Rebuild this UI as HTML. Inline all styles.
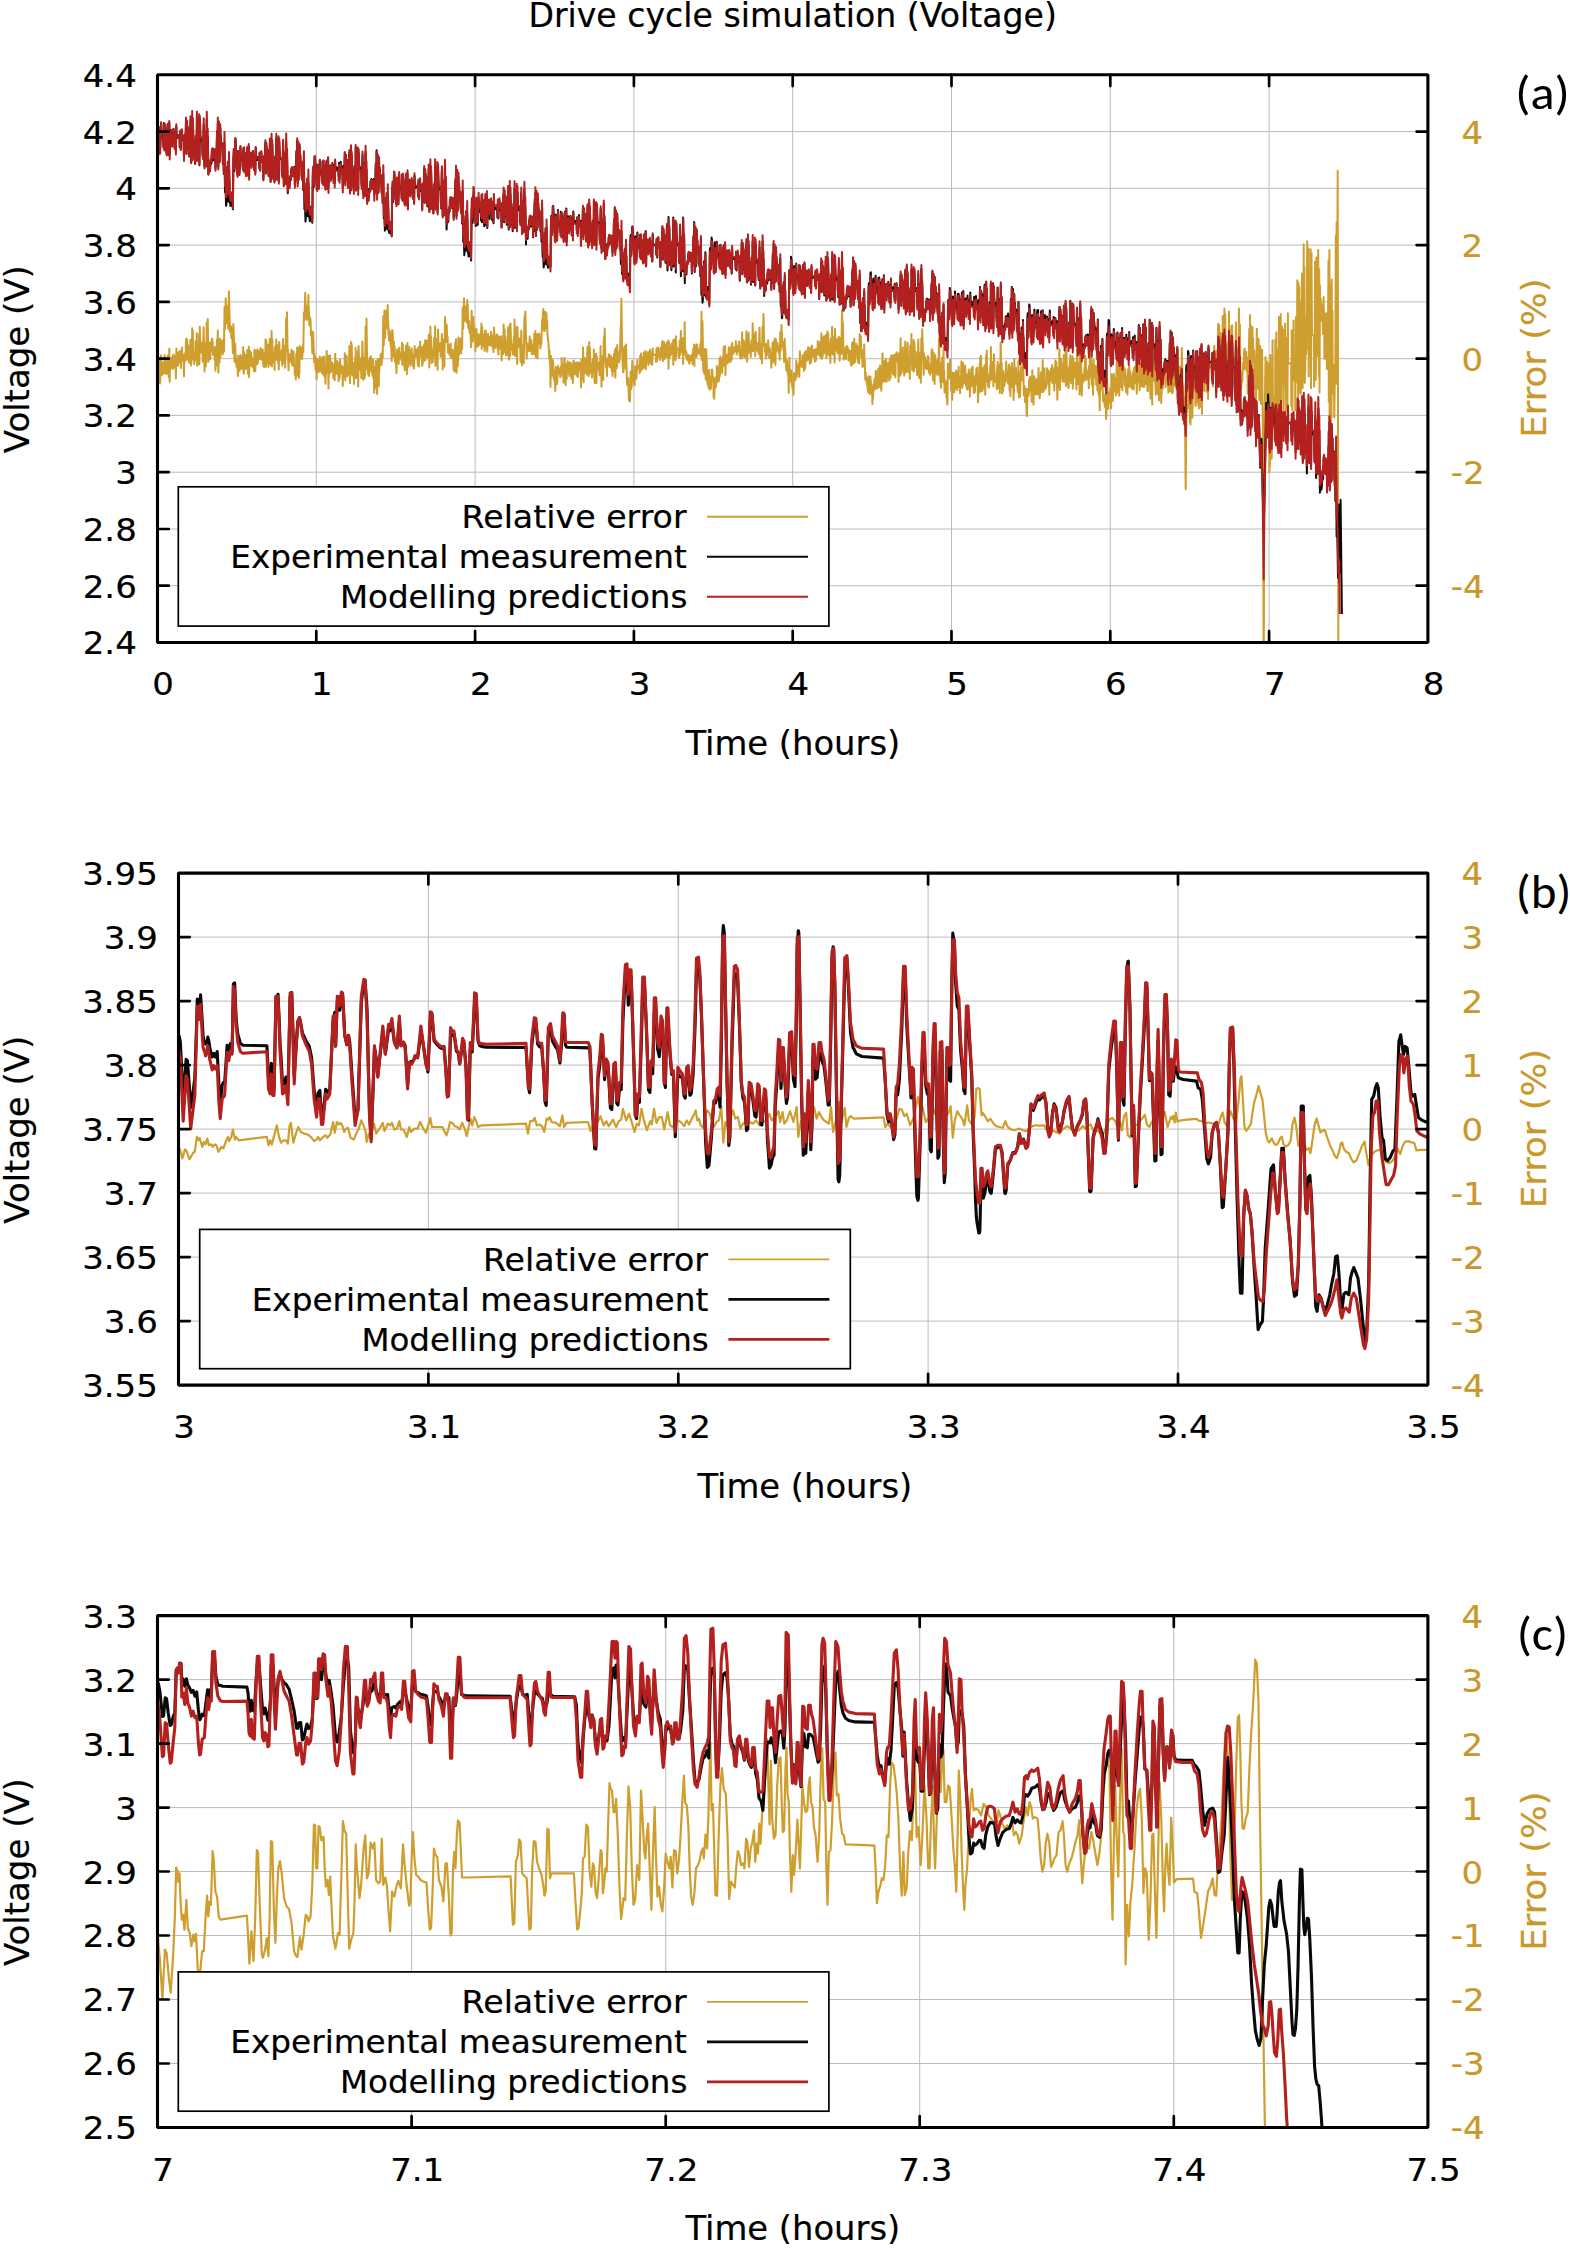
<!DOCTYPE html>
<html><head><meta charset="utf-8"><title>Drive cycle simulation (Voltage)</title>
<style>html,body{margin:0;padding:0;background:#fff}svg{display:block}</style></head>
<body>
<svg width="1570" height="2250" viewBox="0 0 1570 2250" font-family="'DejaVu Sans',Verdana,'Liberation Sans',sans-serif" stroke-width="0.2">
<rect width="1570" height="2250" fill="#fff"/>
<text x="528.4" y="26.8" font-size="33.2" fill="#000" stroke="#000" textLength="528.5" lengthAdjust="spacingAndGlyphs">Drive cycle simulation (Voltage)</text>
<clipPath id="ca"><rect x="157.5" y="74.8" width="1270.4" height="567.7"/></clipPath>
<path d="M316.3 74.8V642.5M475.1 74.8V642.5M633.9 74.8V642.5M792.7 74.8V642.5M951.5 74.8V642.5M1110.3 74.8V642.5M1269.1 74.8V642.5M157.5 131.6H1427.9M157.5 188.3H1427.9M157.5 245.1H1427.9M157.5 301.9H1427.9M157.5 358.7H1427.9M157.5 415.4H1427.9M157.5 472.2H1427.9M157.5 529.0H1427.9M157.5 585.7H1427.9" stroke="#bcbcbc" stroke-width="1" fill="none"/>
<g clip-path="url(#ca)" fill="none" stroke-linejoin="round">
<path d="M157.5 378.9L157.6 376.6L157.8 380.3L158 374.9L158.3 383.5L158.9 358.1L159.2 369.8L159.2 370.4L159.4 369.3L159.8 378.5L159.9 377L160.1 383.4L160.9 366.2L161 355.2L161.8 375.1L162.5 362.5L162.8 373L163.1 370.1L163.2 373.6L163.4 367.6L163.6 373.2L163.7 363.3L164.1 372L164.6 355.1L164.8 373.3L165.1 360.4L165.4 358.1L165.8 371.3L166 370.3L166.3 373.8L166.4 369.1L166.6 373.8L166.9 370.9L167.1 372.7L167.3 362.4L167.5 366.6L167.9 355.4L168.7 377.3L169.3 348.7L169.7 381.7L170 364.2L170.2 368.6L170.5 362.9L170.6 365L170.8 360.3L170.9 360.8L171.1 360L171.2 361.7L171.5 357.5L172.1 368.8L172.4 361L172.7 364.3L173 355.3L173.3 368.4L173.6 354.6L174.6 367.5L174.8 356.1L175 357.6L175.6 365.6L175.9 378.5L176.4 348.4L176.7 358.7L177.3 352.5L178 365.6L178.7 357.6L179 362.5L179.3 351.4L179.6 351.6L179.8 359.4L180.1 350.7L180.3 357.9L180.6 354.4L180.7 355.6L180.9 367.9L181.1 358.7L181.3 359L181.6 357.6L181.7 358.3L181.8 357.9L182 347.6L182.6 360.4L183 356.6L183.6 359L184 376.2L184.4 354.6L184.6 360.5L184.8 355.9L185 359.7L185.3 353.1L185.4 359.8L185.4 360.6L185.5 359.1L185.6 360.2L185.9 342.4L186.1 344.8L186.2 338.4L186.5 359.6L187.1 339.4L187.4 355.1L187.7 345.1L188 359.6L188.3 345.5L188.4 359.1L188.5 349.2L189.1 362.7L189.3 350.3L190 360.8L190.4 339.7L191.1 365.5L191.9 355.5L192.2 328.3L192.5 359L192.8 330.7L193.3 358.8L193.5 357.2L193.7 359.5L193.9 353.3L194.2 363.9L194.8 353L195 360.6L195.3 357.3L195.6 341.2L196.1 357.3L196.5 342.6L196.7 351.6L196.8 333.2L197.2 365.8L197.5 352L197.7 364.1L198.3 343.8L198.9 364.2L199.1 334.2L199.4 364.2L199.8 326.8L200.4 350.8L200.8 342.1L201.2 342.3L201.5 352.8L202.3 343L202.8 361.7L203.6 327.3L204.5 371.5L204.9 343L205.3 360.6L205.6 346.8L205.8 366.5L206 345.6L206.2 363.2L206.7 322.4L207.4 335L207.7 319.1L208.4 361.8L208.5 356.9L208.6 359.3L209.1 355.8L209.6 343.1L210.1 359.3L210.2 356.8L210.4 357.5L210.9 341.5L211.4 351.2L211.7 341.3L212.1 338.5L212.4 342.4L212.6 341.8L213.1 354.6L213.2 352.8L213.5 354.9L213.8 351.9L213.9 351.6L214.1 352.4L214.4 347.6L214.7 359.6L215.1 347L215.4 370.8L215.9 355.7L216.4 365.5L217 339.4L217.2 358.2L217.8 330.5L218.4 372.8L219 339L219.5 362.5L219.8 339.1L220 358L220.2 338.8L220.4 357.1L220.9 346.5L221.1 351.8L221.4 348.6L221.7 350.2L222.3 340.7L222.8 354.2L223.6 339.8L224 351.7L224.5 307.3L225 329L225.7 298.2L226.5 323.3L227 305.9L227.4 313.8L227.7 306.7L228.3 328.9L228.9 291.2L230 331.8L230.1 330.8L230.4 332.2L230.6 331.8L230.9 326.2L231.3 337.9L231.6 328.2L231.9 335.1L232.1 334L232.2 335.3L232.9 353.3L233.4 323.9L234.6 361.9L235.1 343.4L235.8 358.8L236.6 367L236.9 359.4L237.2 367.7L237.5 362.2L237.9 376L238.3 355.6L238.6 365.1L238.9 359.2L239.3 363.6L239.5 371.2L239.9 360.2L240.2 368.2L240.5 354.9L241.2 368.6L241.5 358.1L241.9 360.9L242.2 356.3L242.9 369.5L243.2 346.9L243.5 372L243.7 371.3L243.8 373.8L244.1 351.9L244.2 361.5L244.5 358L244.8 361L245.2 354.9L245.5 368.9L245.8 360.6L246 366.3L246.3 365.5L246.5 368.6L247.3 350.2L248.1 374.1L248.8 346.7L249.1 377.3L249.4 358.6L249.8 363.7L250.1 351.2L250.8 365.5L251.1 352.6L251.5 366L251.8 357.3L252.1 359.6L252.3 359.3L252.7 367.2L253 359.1L253.1 362.4L253.8 364.7L254 371.2L254.4 349.8L254.8 366.2L255.1 358.6L255.3 371.3L255.8 353.1L255.9 356.2L256.4 350.5L257.1 364.2L257.4 349.4L257.7 363.1L258.7 350.7L259.2 359L259.5 352.6L259.7 357.6L260 353L260.3 358.6L260.5 348.1L261.5 359.6L262.7 349.4L263.4 366.4L263.8 353.2L264.4 367L264.7 357.9L265 365.7L265.6 339.3L266 366.7L266.4 340.9L266.8 363.2L267.2 348.3L267.8 363.4L268 344.7L268.5 367.1L268.7 353.3L269 364.7L269.4 358.3L269.8 338.8L270.5 363.3L270.6 362.5L271 364.8L271.6 331.1L271.9 366.4L272.3 339.2L272.7 357.1L272.9 354.8L273.3 362.2L273.7 354.9L273.9 357.3L274.2 352.7L274.6 370.1L274.9 347.3L275.2 354.6L275.3 351.5L275.5 352.9L275.7 344.9L276.1 356.1L276.3 339.5L276.6 359.8L276.9 351.5L277.1 360L277.2 348.7L277.5 350.3L277.6 345.7L278.2 363.8L278.5 344.7L278.8 369.5L279.2 341.9L279.6 351L280.6 360.1L280.9 353.2L281.2 355L281.7 350L282.2 365.6L283 339.1L283.8 363.2L284.3 351.2L284.7 360.4L284.9 345.9L285.2 367.7L285.4 347.7L285.6 358.9L286.1 320.7L286.5 317.6L286.8 325.6L287 312.3L287.5 349.3L287.7 351.8L287.9 349.4L288.5 370.2L289.2 354.3L289.4 360.4L289.6 358.7L290.2 361.8L290.3 359.9L290.5 361.3L290.8 353.8L291.2 361.8L291.5 349.7L291.8 350.3L292.2 365.4L293.5 351.4L294.1 366.4L294.3 366.6L294.5 365.2L294.6 366.4L294.8 374.9L295 368.2L295.3 365.2L295.5 366.3L295.8 379.4L296.3 353.4L296.6 366.9L296.8 356L297 363.8L297.2 347.4L297.7 375.7L298.1 372.7L298.4 348.1L299 378L299.2 360.5L299.4 373.3L299.7 346L299.9 357L300 354.3L300.1 357.2L300.3 353.8L300.5 358.7L301.1 347.4L301.4 347.4L301.7 356.5L302 355L302.2 358.9L303 345.3L303.3 352L303.9 312.4L304.2 318.6L304.4 319.8L304.5 319L305.2 292.8L305.9 313.3L306 312.8L306.4 313.8L306.7 320L307.4 306L308 319.3L308.4 294.7L308.6 309.9L308.8 307.8L309.3 324.9L309.4 325.3L309.5 324.5L309.7 324.8L310 317.2L310.3 320L310.5 319.3L311 335.4L311.5 330.6L312.4 353.4L312.8 333.6L313.1 332.2L314.2 362.3L314.6 353.8L315.6 370L316 357.7L316.3 358.9L316.6 379.6L316.9 366L317.1 372.8L317.3 371.8L317.5 359L318.3 368.8L318.7 364.6L318.9 371.8L319.1 370L319.2 370.7L319.6 360.2L319.7 363.8L319.8 356.6L320 367L320.6 358.5L320.9 371.3L321.6 365L322 373.3L322.2 366.2L322.4 369.8L322.5 357.1L322.9 373.4L323.4 357.3L323.6 375.4L323.9 356.4L324.2 370.8L324.6 369L324.7 370.1L325.1 377.8L325.2 374.9L325.5 383.7L326.7 350.9L327.5 372.7L328.1 355.7L328.5 388.6L328.8 368.8L329 372.3L329.3 368.1L329.5 373.4L329.9 355.6L330.2 360.7L330.3 358.9L330.9 372L331 367.6L331.7 362.2L332.1 370.1L332.3 362.7L332.5 370.3L332.8 371L333.2 367.2L333.4 378.5L333.6 369.5L333.8 372.7L334 373.1L334.2 372.4L334.4 364.3L334.7 380.6L335.2 353.8L335.5 363.9L335.8 365L336.1 361.5L336.5 373.7L336.8 372.1L337.1 361L337.5 361.6L337.8 373.7L338.1 363.2L338.6 381.2L338.9 368.7L339.1 372.7L339.4 371.2L339.7 378.5L340.1 359.6L340.6 370.9L340.7 366L340.9 370.2L341.1 369L341.4 372.8L341.8 371.8L342.1 366.3L342.3 366.2L342.8 385.9L343.2 367.2L343.4 376.4L343.6 370.7L343.8 373.7L344 369.3L344.2 377.3L344.3 376.3L344.4 377.2L344.8 353.3L345.3 380.5L345.9 356L346.2 372.1L346.6 356.1L347.2 376.2L347.3 364.9L347.6 368.3L347.7 365.8L347.9 374.2L348.1 364.5L348.3 364.6L348.8 374.7L349.4 346.1L349.9 383.1L350.4 370.4L350.7 375.1L351 342.1L351.3 374.2L351.7 344.1L352.4 373.6L352.6 370.2L353 375.8L353.6 363.3L354 384.1L354.4 366.7L354.6 372.1L354.7 366.4L354.9 370.9L355.2 356.7L355.5 365.9L355.6 347.8L356 378.3L356.3 369.1L356.5 375.8L356.7 359.2L356.9 370.2L357.6 375.1L357.9 351.1L358.2 386.4L358.6 346L359.3 369.5L359.6 363.2L360.3 358.6L360.6 370.6L361 358.4L361.3 378.3L361.6 370.4L361.8 372.3L362.4 341.4L363.2 379.8L363.7 359.5L364.1 376.8L364.4 361.8L364.6 378.6L364.8 357.2L365 375.8L365.6 326.5L366.2 337.5L366.5 318.5L367.2 369.4L367.3 365.6L368 374.3L368.6 360.7L368.9 376L369.6 357.8L370.2 370.3L370.9 356.2L371.5 372L372.1 363.9L372.5 375.8L372.9 359.5L373.5 378.4L373.9 366.6L374.2 392.7L374.7 376.8L375.2 388.1L375.8 361.1L376 384.3L376.2 374.5L376.4 384.1L376.6 365.1L377.1 393.9L377.8 359.1L378.4 379.6L378.6 361.3L378.8 386.3L379.1 359.3L379.3 371.5L379.7 360.1L380 364.2L380.8 353.9L381.1 359.4L381.3 358L381.4 358.7L381.6 364.9L382.4 351.3L382.7 358L383.3 316L383.8 345.3L384.5 310.4L385.1 337.9L385.4 326.2L385.9 321.2L386 323.3L386.2 322.6L386.5 310.4L387.1 327.5L387.2 328.4L387.3 327.1L387.7 305.1L388 323.6L388.2 320.9L388.5 334.7L388.8 329.1L389.1 340.6L389.4 334L389.7 334L389.9 331.4L390.7 345.9L391.1 342.1L391.7 361.1L392.2 330.1L392.4 335.4L392.5 331.5L392.7 332.9L393.4 356.5L393.9 341.8L394.2 349.5L394.4 346.1L394.5 348.6L394.7 346.9L395 361.6L395.4 354.4L395.7 363.3L395.8 357.8L396.5 373L397.1 349.5L397.7 362.6L398.1 356.2L398.7 363.7L399.2 347.7L399.5 358.6L401 352.9L401.5 360.2L402 342.8L402.3 365.1L402.8 344.3L403 360.5L403.3 355.1L403.6 359.5L404 352.6L404.5 368.4L404.8 370L405 364.1L405.3 370.1L405.5 354.4L405.6 352.6L405.7 356.1L405.8 348.4L406.1 345.8L406.9 374.2L407.5 343L407.9 367.2L408.1 358.1L408.4 362.9L408.7 352.7L408.8 355L409.3 347L409.6 356.7L409.7 351L409.8 353L409.9 351.7L410.3 365.6L410.4 362.4L410.6 363.6L410.9 362.2L411.1 353.8L411.5 355.1L411.7 348.6L411.9 356L412.2 353.8L412.8 365.9L413 354.2L413.6 360.4L413.8 358.8L414.1 368.6L414.6 345.9L414.8 353.2L414.9 353.8L415.2 352.2L415.6 356.4L415.9 350.6L416.2 354.6L416.5 349.6L416.9 357L417.2 352.4L417.9 365.2L418.3 347.4L419 366.5L419.2 349.9L419.5 346.6L419.9 351L420.2 341.4L420.8 353.1L421.5 358.4L421.8 356.8L422.2 365.9L422.5 347.1L422.8 363.5L423.4 351L423.6 356.9L423.8 355L424.1 344.2L424.3 350.2L424.4 347L424.7 360.7L425.2 340.2L425.6 359.7L425.9 348.7L426.2 357.5L426.5 341.9L426.6 351.7L426.7 340.6L427.3 355.6L427.5 348.1L427.8 357.4L428.1 347.8L428.4 355.5L428.8 334.8L429.3 367.5L429.8 350.5L430.1 356.2L430.4 326.4L430.7 358.3L431 336.3L431.8 363.1L432.1 350.1L432.3 351.8L432.5 350.1L432.8 361.9L433 353.4L433.2 358.2L433.4 354.2L433.5 356.3L434.1 337.7L434.3 346.3L434.5 339.3L434.9 348.7L435.1 326.3L435.4 366.1L435.7 351.4L435.9 358.3L436.1 343L436.3 351.9L436.4 351.5L436.5 352.1L437.1 362.9L437.3 338.7L437.6 369.8L438 329.5L438.5 345.8L439.4 351L440 343.3L440.7 356.6L440.9 354.3L441.2 354.5L441.9 334.1L442.2 350.7L442.4 347.2L442.7 369.6L443.1 339.7L443.5 357.8L443.8 343.6L444 359.6L444.2 346.3L444.4 366.6L445 317L445.6 342L445.9 324.1L446.4 334.4L446.7 324.7L447.3 342.1L447.6 336.9L448 352.7L448.4 347L449 351.8L449.3 345.3L449.7 355.1L450.6 343.4L450.9 358.1L451.3 350.5L451.6 357.4L451.9 350.9L452.3 355.2L452.9 349.7L453.6 369.8L454.2 355.6L454.6 371.6L455.2 342.2L455.4 358.6L455.6 346.1L455.8 358.1L456 339.2L456.6 372.7L457.2 346.3L457.8 366.3L458 347L458.2 361L458.4 337.4L458.9 354.9L459.1 347.1L459.3 349.8L459.6 343.8L460.2 349.5L460.5 338.4L461.1 353.4L461.6 341.4L462.1 349.1L462.7 307.5L463.2 328.4L464 298.2L464.7 320.2L465.2 306.3L465.5 321.1L466.2 307.7L466.7 322.4L467.2 300.1L467.4 311.8L467.7 304.2L468.2 327.7L468.5 324.8L468.8 328.4L469.1 321L469.6 332.9L470.2 328.5L470.4 329.1L471.1 347.3L471.6 310.7L472.8 341.5L473.4 316.9L473.8 329.8L474.2 327.4L475.1 340L475.4 351.1L475.7 340.9L475.9 347.1L476.1 346.5L476.4 329L476.8 341.9L477.1 333.7L477.3 334.8L477.4 334.3L478 346.6L478.2 342.3L478.3 342.9L478.4 341.7L478.5 342.7L478.6 334.8L479 344.9L479.4 334.4L479.7 338.2L480.1 334.3L480.4 341.8L480.7 341.3L480.8 343.9L481.4 323.5L481.7 349.1L482.2 326.9L482.5 342.3L483 334.6L483.7 346.2L484 337.3L484.7 350.9L485 330.8L485.4 339.3L485.7 330.6L486.5 348.8L486.9 336.7L487.3 351.7L488 333.8L488.3 341.2L488.7 337.1L489 345L489.1 339.5L489.3 341.2L489.5 336.8L490 345.4L490.3 336.9L490.6 345L491.1 332L491.6 345.7L492 336.3L492.2 341.8L492.4 335.7L492.8 346.6L493 348.8L493.2 344.3L493.5 352.1L494 327.4L495 347.9L495.3 339.8L495.6 340.2L495.9 344.9L496.6 334.5L496.9 346.8L497.2 345.1L497.3 348.5L497.6 335.2L498.4 354.6L498.9 336.7L499.4 348.9L499.9 338.8L500.2 337L500.6 336.6L500.9 341.9L501.2 336.2L501.6 360.4L502 341.7L502.2 347.8L502.4 344.9L502.6 350.1L502.8 347.1L502.9 348.5L503 354.2L503.2 352.5L503.6 324.4L504.1 352.2L504.6 329.2L505 350.7L505.4 337L506 355.5L506.1 345.2L506.4 346.5L506.5 343.4L506.7 352.1L506.9 346.6L507.3 354.2L508.2 327.3L508.8 359.8L509.2 343.6L509.5 352.3L509.8 324.5L510.1 356.3L510.5 323.4L511.2 350.1L511.4 345.6L511.7 349L512 345.3L512.1 349.4L512.4 345.5L512.9 354.6L513.2 344L513.4 346.6L513.5 340.4L513.7 344L513.9 336.7L514.3 342.9L514.5 319.6L515 356.1L515.1 350.2L515.3 353.6L515.5 337.5L515.7 345.9L515.9 344.4L516.5 349.5L516.7 327L517.1 364L517.4 327L518.1 345.9L518.4 347L518.8 338.1L519.1 338.8L519.8 346.6L519.9 343L520.1 344.5L520.6 361.9L521.3 330.8L522 365.3L522.4 347.3L522.9 359.9L523.1 345.1L523.4 361.9L523.6 347.1L523.8 363.3L524.3 323.6L524.7 315.7L525.1 324.4L525.3 311.6L526.7 358.5L527.2 344.4L527.4 343.9L527.6 347.2L527.8 344L528.4 345.3L528.5 344.9L529.1 351.1L529.7 336.4L530.4 350.7L530.7 347.9L531 349.4L531.3 340.3L532 354.3L532.8 345.2L533.1 354.1L533.2 348.3L533.5 347L533.7 348.8L533.9 346.7L534.3 333.8L534.8 354.2L535.4 331.1L535.7 355.3L535.8 350.3L535.9 357L536.6 334.7L536.8 344.7L537 339.5L537.2 353.4L537.4 339.9L537.6 358.4L537.9 334L538.1 344L538.5 335.5L538.7 338.8L539 334.4L539.3 333.6L539.6 340.1L539.9 339.1L540.4 348.3L541 341.3L541.3 343.8L541.4 342.9L542.1 319.7L542.6 328.6L542.9 313.5L543.4 309L544.1 331L544.6 319.6L544.9 330.7L545.3 311.7L546.1 327L546.5 313.2L546.8 328.3L547.1 321.1L547.4 333.2L548.7 346L549.2 358.5L549.5 350.8L549.9 363.1L550 362.4L550.2 363L550.5 387.1L551 356L551.5 376.5L551.9 374L552 374.4L552.4 373.6L552.8 360L553 363.2L553.1 362.4L553.2 362.8L553.8 379.1L554.2 371.1L554.5 381.8L554.6 379.2L554.8 381.7L555 379.1L555.3 390.9L555.9 367L556.8 384.3L556.9 380.7L557.1 383.1L557.4 379.6L557.6 372.8L557.8 371L557.9 373.3L558 366.1L558.2 374L558.5 369.8L558.8 369.8L559.1 368.4L560.1 372.9L560.2 377L560.4 372.7L560.6 377L560.7 367L561.1 375.1L561.3 372.5L561.4 373.9L561.6 358.1L561.9 373L562.2 371L562.4 371.7L562.8 364L563.6 382.6L564.3 359L564.5 363.2L564.6 358.1L565.7 385.3L566.1 365.7L566.3 364.6L566.3 365.1L566.7 379L567 365.9L567.2 371L567.7 361.3L568.2 372.3L568.5 366.5L568.6 368.2L568.8 366.6L569.4 375.9L569.7 363.4L569.9 362.2L570.3 369.7L570.5 362.8L570.7 368.5L571 366.2L571.6 379L571.8 366.9L572 364.4L572.4 369.1L572.6 366.3L572.9 383L573.3 363.5L573.4 361.2L573.5 364.2L573.7 360.4L574.4 362.9L574.7 374.2L575 374L575.3 371.6L575.7 363L576 372.1L576.6 371.2L576.7 375.8L577 362.6L577.3 366.7L577.6 363.4L577.9 377.1L578 371.4L578.3 372.6L578.7 362.5L579.1 368.8L579.3 362.7L580 369.5L580.3 369.1L580.6 363.4L581 387.6L581.3 360.1L581.6 376.4L581.8 374.5L582 379.4L582.3 367.3L582.6 377.2L583 347.4L583.6 382.4L584.1 358.6L584.4 369.8L584.7 357.7L585 370L585.3 365.5L585.4 372.5L585.6 359.7L586.1 373.3L586.3 364.3L586.7 374.4L587.5 346.8L588 374.8L588.2 371.2L588.6 376L589.2 341.9L589.5 373.8L589.9 348L590.3 371.8L590.8 363.3L591.2 370.4L591.3 367.3L591.5 372.5L591.8 371.2L592 377.5L592.6 359.5L592.8 363.9L592.9 360.8L593.1 371.6L593.5 359.2L593.7 366.7L593.9 349.4L594.2 372.2L594.7 382.9L594.8 369.6L595.1 372.7L595.3 367.8L595.8 368.6L596 353.7L596.4 383.3L597 356.6L597.3 365.4L597.8 369.5L598.2 365.5L598.6 367.9L598.8 367.6L599.2 362.2L599.5 375.2L599.8 366.1L600 373.5L600.6 346.1L600.8 362.7L601 364.5L601.1 357.6L601.5 386.7L601.8 366.8L602.3 375.2L602.5 356.6L602.8 378.8L603 363.3L603.2 380.1L603.7 341.6L604.1 336.3L604.4 343.1L604.7 328.5L605.4 360.4L605.5 358.5L605.7 365.4L605.9 364.8L606.1 367.3L606.4 361.2L607 375.9L607.4 358.5L607.8 365.1L607.9 362.4L608.4 365.5L608.8 354.5L609.1 359.4L609.4 354.4L609.9 367.3L610.8 356.1L611.7 370.9L612.1 357.9L612.5 376L612.9 366.4L613.4 371.1L614 354.1L614.2 368.5L614.4 355.1L614.6 366.8L614.8 350.1L615.3 377.7L616 348.1L616.6 368.6L616.8 349.6L617 366.4L617.2 345.1L617.5 358.8L617.9 351.7L618.4 361.7L618.7 361.5L619 362.5L619.2 361.6L619.3 361.9L619.6 356.4L619.8 359.8L620.7 326.2L620.9 327.8L621.4 298.8L622.1 350.2L622.9 369.4L623.1 372.1L623.4 372.3L623.5 371L624 348.5L624.3 363.3L624.6 346.3L625.5 368.5L626 344.5L627 384.8L627.6 378.3L627.9 379.1L628.1 378.1L628.9 399.8L629.3 389L629.6 400.9L629.8 401.3L629.9 399.9L630 401.4L630.6 371.7L631.3 389L631.6 386L631.8 386.6L632.2 360.9L633.2 378.6L633.6 371.6L633.9 380.9L633.9 375.9L634.2 383.9L634.3 376.9L634.6 385.2L635.1 366.3L635.4 374L635.7 367.5L636.4 378.7L637.4 360L637.5 367.3L637.6 365.7L637.7 368.5L639.5 365.6L639.6 372.9L640.2 355.7L640.4 370.7L640.7 368.5L640.8 371.4L641 353.5L641.2 370.2L641.5 357.1L642.5 369L642.8 365.9L642.9 368.3L643.2 364.4L643.4 366.3L643.7 352.4L643.8 361.3L644 353.2L644.1 354.5L644.2 353.3L645 367.6L645.5 351.1L645.9 369.2L646.3 354.8L646.5 362.5L646.9 353.5L647 360.1L647.5 353.2L647.8 358.3L647.9 352L648.4 365L648.6 357.4L648.7 361L649.1 358.3L649.3 352.4L649.6 361.9L649.9 349.7L650 356.8L650.7 356.9L650.9 363.8L651.2 352.4L651.8 358.9L651.9 353.1L652.2 364.7L652.7 348.4L653 356.6L653.2 355.3L656 353.9L656.1 361.9L656.5 348.7L657.1 360.5L657.3 349.6L657.5 348L657.6 352.4L658.1 355.8L658.3 347.5L658.4 356.5L658.6 353.1L659.9 352.4L660.1 359.9L660.7 347.7L660.9 355.3L661.1 351.9L661.3 355.7L661.5 350.6L661.7 356.7L662.2 341.3L662.4 350.9L662.6 345.9L662.9 361L663.3 341.7L663.7 359.4L664.1 342L664.3 352.7L664.6 348L664.8 358.7L665 344.7L665.2 355.6L665.3 356.8L665.7 350.9L666 355.9L666.2 350.9L666.4 354.3L666.8 342.6L667.2 357.1L667.5 342.3L667.9 356.2L668.4 340.4L668.5 368.8L668.7 352.6L668.8 356L669.1 342.1L669.6 357.6L670 352.5L670.2 352.4L670.4 353.8L670.6 351.1L670.8 355.3L671.4 345L671.6 350.8L672 343.2L672.1 351.8L672.3 344.4L672.4 353.6L672.8 343.2L673 352.2L673.2 340.2L673.3 364.7L673.5 351.9L673.8 345L674.1 349.2L674.3 339.4L674.5 349L674.6 344.1L675.2 353.7L675.4 340.4L675.5 360.2L675.9 336.2L676 350.9L676.2 341.2L676.3 356.6L676.6 347.3L676.8 349.4L678.7 348.3L678.8 356.6L679 354.1L679.2 358L679.7 340.6L680 346.9L680.2 345L680.4 354.7L680.9 331.1L681.4 352L681.8 338L682.4 349.3L683 338.7L683.1 363.9L683.4 342.9L683.8 354.4L684 337.8L684.3 353.8L684.7 322.3L684.9 346.2L685.3 351.5L685.5 349.8L685.9 356.1L686.3 357.5L686.4 351.9L686.8 358.9L687 359.7L687.3 358.3L687.8 360.4L688.2 356L688.4 355.3L688.6 355.6L688.9 355.3L689.2 363.8L689.4 359.7L689.9 362.4L690.4 356.2L690.8 359.7L691.1 359.7L691.4 356.4L691.6 358L691.9 354.6L692.1 360.8L692.3 359.8L692.6 364L693.2 348.8L693.6 357.5L693.7 353L693.8 358.8L694.1 344.6L694.4 366.1L694.5 354.2L694.8 355.3L695.3 346L695.6 356.7L696.2 345.3L696.4 350.6L696.6 344.2L696.8 356.7L697.3 344.7L697.4 352.1L697.9 350.2L698.6 349.6L699.1 353.4L699.4 352.8L699.8 354.3L700.3 344.6L700.5 355.6L700.8 342.9L701.1 352.1L701.5 311.7L701.7 357.5L701.8 360.1L702.1 353.8L702.5 320.9L703.2 370.3L703.4 367L703.7 372L704 365.5L704.1 372.2L704.3 374L704.4 372.7L704.8 348.9L705.1 372.8L705.2 370.5L705.4 371.9L705.8 379.5L706.2 349.4L707.5 384.3L707.8 370.6L708.6 387.8L709.3 370L709.5 389.8L709.9 379.2L710.3 377.1L710.9 388.8L711.4 376.3L711.5 380.4L712.1 369.4L712.4 371.1L712.6 377.5L712.8 377.1L713.3 377.1L713.6 397.3L713.9 390.8L714.2 398.8L715 379.3L715.3 388.1L715.6 377.5L715.9 386.7L716.7 375.5L716.8 365.9L717.3 381.9L717.6 369.1L718.3 380.2L718.6 367.2L719 380.9L719.6 358.3L719.9 376.1L720.4 356.4L720.6 366.1L720.9 358.1L721.2 367.3L721.6 360.1L721.8 360.6L722.2 372.9L722.6 360.7L722.9 360.1L722.9 360.4L723.1 357L723.3 360.6L723.7 346.8L724.3 365.8L725.1 346.1L725.5 375L725.8 361.2L726 362.3L726.3 355L726.4 358.8L726.9 355L727.2 362L727.3 359.7L727.5 363.4L727.7 361.2L727.9 362.9L728.8 347.6L729.2 361.4L729.3 354.2L729.4 353.2L729.5 354.1L729.8 347.5L730.2 347.9L730.5 361.9L730.8 348L731.2 359.7L731.5 345.4L731.7 359.8L732.2 342.7L732.4 349L732.5 350.2L732.8 349.5L733.2 353.9L733.5 351.8L733.8 352.9L734.1 347.6L734.5 350.8L734.8 348.1L735.1 348.8L735.4 347.4L735.5 350.9L735.8 341L736.6 354.5L736.8 345.5L737.6 351.8L737.7 347.9L737.9 349.9L738.1 347L738.4 351.2L739.1 341.4L739.8 356.1L740.2 351.3L740.4 357.6L740.6 355.1L740.8 358.5L741.1 349L741.4 357.3L742.1 332.2L742.4 357.4L742.9 342.4L743.2 350.7L743.5 340.2L744.2 355.6L744.4 342.3L744.9 357.3L745.1 344.6L745.3 343.5L745.8 355.4L746.4 331.3L747 361.8L747.7 350.6L747.9 335.8L748.3 353.1L748.6 332.8L749.1 348.6L749.3 346L749.5 349.7L749.6 347.9L749.9 351.6L750.2 348.2L750.7 356.9L751.4 340.4L751.6 347.4L751.7 345.6L751.9 349.1L752.1 342L752.4 347.4L752.7 323.3L753 351.3L753.3 341.1L753.5 349.1L753.6 339.8L753.8 343.2L754 340.9L754.3 349.3L754.6 347.9L754.9 333.7L755.2 356.2L755.6 331.7L756.3 349.5L756.6 343.7L757 344L757.3 343.2L757.6 351.5L758.1 347.2L758.3 350.8L758.6 347.5L758.8 353.9L759.5 327.4L760.2 357.3L760.6 343.9L761.1 359.5L761.4 345.1L761.6 357.9L761.8 348L762 363.4L762.5 327.6L762.6 326.3L763 332L763.2 329.6L763.5 314L764.2 345.9L764.3 342.6L764.4 344.5L764.6 343.8L764.9 351.7L765.2 343.8L765.9 358.6L766.7 353.2L766.9 355.2L767.2 344.7L767.5 343.1L767.9 345.3L768.2 340.3L768.5 350L768.9 347L768.9 348.1L769.2 357.9L769.9 348.5L770.5 358.3L770.9 353.8L771.3 367.8L771.7 357.8L772.2 356L772.5 343.1L772.9 346.2L773 362.5L773.1 356.1L773.4 360.2L773.6 341.6L774.1 360.7L774.5 358.1L774.8 338.5L775.4 365L776 339.6L776.2 350.9L776.7 342.9L776.9 347.4L777.5 342.9L778.5 352.5L778.8 347.6L779.1 353.4L779.4 351.9L779.7 359.8L780.3 332.3L780.8 350.5L781.5 324.9L782.3 344.8L782.8 346.5L782.9 345.3L783.2 347.8L783.5 342.6L784.1 361.7L784.7 338.7L785 352.7L785.2 348.2L786.2 368.4L786.4 370.1L786.9 360.3L787.4 372.1L787.7 365.5L788.1 375.8L788.4 374L788.7 392.7L789.4 357.8L789.7 374.5L790.1 372.9L790.6 381.6L791.4 370.4L791.7 382.6L792.7 389.9L792.8 386.9L793 389.1L793.2 386.2L793.5 394.7L793.9 374.3L794.1 372.9L794.4 381L794.6 377.7L794.9 379L795 378.8L795.1 376.1L795.6 379.7L796.1 374.2L796.3 360.5L796.7 376.6L797 368.4L797.3 367.9L797.7 371.4L798 365.4L798.3 365.2L798.3 365.5L798.8 374.3L798.9 363L799.3 376.9L799.9 351.3L800.1 363.7L800.2 363.3L800.4 363.9L800.6 365.5L801 361.6L801.5 366.2L801.7 363.3L801.9 366.9L802.1 364.1L802.2 364.9L802.3 364.1L802.5 355.2L803 362.3L803.1 357L803.3 358.8L803.5 356L803.9 370.9L804.5 352.6L804.9 369.1L805.1 363.2L805.3 367.1L805.4 365.3L805.7 351.3L806.4 359.2L806.7 356.5L806.9 360.1L807.1 358.3L807.3 360.6L807.6 349.2L807.9 356.4L808.2 346.9L808.5 359.1L808.7 352.8L808.9 355.1L809.2 352.1L809.8 363.7L810.2 348.2L810.6 356.5L810.9 349.8L811.1 362.5L811.5 348.4L811.6 346.5L811.7 348.9L811.9 345.4L812.6 356.6L812.9 352.1L813.2 356.7L813.5 356.8L813.9 349.8L814.2 356.2L814.5 354.4L814.8 355.8L815 361.6L815.4 349.5L816 360.4L816.3 349.1L816.9 354.9L817.1 350L817.3 353.3L817.5 353L817.8 341.1L818.2 349.2L818.8 344.5L819.2 355.5L819.6 342.2L820.6 357.3L821.4 333.3L821.8 358.7L822.2 337.6L822.6 356.7L822.9 342.6L823.6 353.8L823.8 336.6L824.3 353L825.1 341.1L825.4 345.2L825.6 335L826.4 358.2L827.1 347.3L827.3 331.4L827.7 353.9L828.2 333.1L828.8 353.7L829.1 343.6L829.4 356L830 348.2L830.4 363.1L830.8 338.7L831.4 353.7L832.1 326.7L832.4 349.1L832.6 351.2L832.7 346.2L832.9 354.4L833 344.8L833.2 346.5L833.4 341.6L834.1 353.5L834.3 336.5L834.6 362.8L835 328.7L835.6 345L836.7 350.8L837 339.3L837.5 344.1L837.7 353.3L837.9 351.9L838.2 352.4L838.9 336.7L839.7 360.8L840 338L840.5 350.4L840.8 337.7L841 354L841.2 339.7L841.4 353.6L842 310.1L842.7 331.6L842.9 322.6L843.6 359.7L844.3 351.3L844.6 357.1L845 357.7L845.6 347.5L846 359L846.3 351L846.4 350.7L846.7 351.3L846.9 346L847.7 347.9L848 352.9L848.3 350L848.6 360.6L849.6 350.4L849.9 356.5L850.4 351.1L850.7 362.3L850.9 364.8L851.2 362.6L851.6 365.7L852.2 342.5L852.4 360.7L852.6 354.9L852.8 362L853 346.5L853.5 363.6L854.2 338.8L854.8 358.3L855 344.2L855.2 362.1L855.4 346L855.7 357.5L856.2 343.8L856.3 346L856.6 345L856.9 352.3L857.5 346.2L858.1 361.9L858.8 355.2L859.1 363.6L859.7 334.1L860.2 347.5L860.5 335.8L860.8 336.2L861.5 357.7L861.8 349.6L862.1 351.9L862.5 367L862.9 353.5L863.7 366L864.2 344.5L864.4 360.4L864.4 362.1L864.7 359.4L865.2 379.6L865.5 371.9L866.5 381.8L866.8 377.4L867.1 385.7L867.5 384.2L867.8 390L868 390.9L868.1 390.1L868.2 392.2L868.6 376.2L868.9 377L869.1 383.3L869.5 382.5L869.8 394.1L870.4 376.5L871.8 393.7L872.1 388.5L872.4 404.1L872.7 392.3L872.9 398.9L873.1 396.8L873.3 384.6L873.8 390.4L874.5 378.9L874.7 385.2L874.9 384.4L875 386.5L875.2 384L875.4 389.1L875.7 370.8L875.9 374.2L876.1 371.6L876.4 388.2L876.7 382L877.1 388.5L877.4 377.2L877.8 387.8L878.3 368.4L879 387.1L879.2 369.1L879.5 384.3L880 365.5L880.7 386.5L880.9 388.4L881 384.1L881.3 390.7L882.1 372.8L882.5 353.5L883 376.6L883.1 377.3L883.3 377L883.3 376L883.5 381.5L884 361.2L884.2 377L884.5 372.6L884.8 381.5L885.3 362.2L885.5 360.7L885.8 361.9L886 358.9L886.7 381.6L887.5 371.3L887.6 376.4L888.1 363.1L888.3 373.2L888.6 367.2L889 366.2L889.2 380.8L889.6 361.2L889.9 358.7L890.5 378.5L890.6 366.3L891.3 355.4L891.6 358L892 355.5L892.3 367.4L892.9 374.4L893.3 373.6L893.6 355.3L894.4 374.9L894.9 354.6L895.4 377.2L895.6 358.1L895.9 360L896.2 358.6L896.4 359.9L896.6 352.3L896.7 357.3L897.6 361.9L897.9 354.6L898.6 382L899 353.2L900 375.8L900.6 338.3L901.2 373.8L901.7 350.3L902.2 369.7L902.3 359.8L902.6 366.3L902.9 347.5L903 360.9L903.1 352.2L903.7 372.2L903.9 365.4L904.2 375.6L904.5 370.1L904.7 373.4L905.2 341.4L905.7 366.6L906.2 355.8L906.5 371.9L906.8 348.5L907.1 371.7L907.6 342.7L908.2 367.4L908.4 361.8L908.7 367.7L909 366L909.2 372.7L909.4 362.8L909.8 379.1L910.2 345.6L910.7 355.5L911.1 344.6L911.3 353.7L911.4 334.1L911.8 363.5L911.9 361.2L912 365.6L912.1 358.3L912.3 370.2L912.4 358.1L912.7 369.4L913.1 361.1L913.5 367.2L913.7 339.9L914 371.5L914.4 342.2L915 366.2L915.4 351.6L915.8 352.1L916.4 367.6L916.6 366.6L916.9 367L917.1 375.1L917.4 360.7L917.6 368.1L917.8 363.6L918.3 339.6L919 377.7L919.4 352.9L919.9 377.1L920.1 360L920.4 375.2L920.6 360.7L920.8 382.8L921.3 338.3L921.8 349.7L922.2 329.2L923.7 374.7L924 353.6L924.6 367.5L925 357L925.4 366.5L925.7 361L926.1 368.8L926.3 363.7L926.7 367.2L927.1 363L927.3 369.1L927.7 356L928 364.2L928.3 356.5L929 372.6L929.3 364L929.7 367.1L929.8 364.8L930.1 374.7L930.2 369.9L930.7 372.8L931.1 368.5L931.7 349.2L931.8 369.4L932 359.3L932.2 372.2L932.5 350.2L933 380.3L933.6 353L934.2 377.4L934.4 358.2L934.6 383.9L934.9 355.1L935 365.1L935.3 355.6L935.6 373.7L936 360.4L936.3 367.1L936.6 364.6L936.9 369.1L937.2 367.3L937.5 375L937.9 359.2L938.5 367.2L939 338.5L939.6 375L939.9 362.5L940.3 382L940.6 377.9L941.1 387.8L941.6 363.1L942 366.7L942.2 357.5L942.6 380L942.9 371.4L943.2 382.2L943.6 348.1L943.8 375.1L944.1 370.8L944.6 392.5L944.9 383.3L945.2 380.6L945.5 385.1L945.7 381.1L946.5 397.5L946.8 396.4L947.4 404.4L947.9 363.5L948.2 368.9L948.3 365.4L948.5 367.6L948.9 378.7L949.2 378L949.3 378.3L950.2 359.4L950.5 377.8L950.8 371.8L951.2 390.8L951.6 386.2L951.8 388.2L952 386.3L952.3 399.7L952.9 372.6L953.5 385.1L953.8 373L954.1 390.7L954.3 390.1L954.4 392.3L955 373.7L955.2 383.3L955.5 375.8L955.8 386.5L956.1 370.4L956.5 388.8L956.8 383.9L957.2 390.1L957.4 383.6L957.6 386.2L957.7 371.7L958.1 385.9L958.3 384.4L958.4 387L958.7 366.7L958.8 381L959.2 377.9L959.8 383.9L960.1 393.1L960.5 381.7L960.6 383.1L960.8 375.9L961 376.4L961.1 375.8L961.4 361.3L961.8 379L962.1 370.2L962.4 387.8L962.9 379.2L963.1 362.9L963.6 382.2L963.9 375.7L964.2 383.3L964.5 374.9L964.7 380.1L965.1 365.8L966.1 385.6L966.4 374.4L966.7 388.8L967 374.6L967.3 389.6L967.6 379.6L968 387.9L968.8 369.5L969.4 389.1L969.7 378.1L969.9 396.7L970.4 372.4L971 386.6L971.4 368.3L971.7 379.7L972 375.1L972.3 385.5L972.7 366.6L973 384.2L973.3 377.6L973.8 392.9L974.1 380.7L974.3 384.6L974.6 380.8L974.9 392.3L975.3 375.8L975.6 374.9L975.8 379L975.9 376L976.1 377.7L976.3 368.8L976.6 384.4L977.3 367.4L978 402.6L978.4 383.5L979 392.8L979.8 363.3L980.1 366.1L980.2 357.4L980.6 391.4L981 356.1L981.4 386.2L981.8 374.7L982.4 391L982.9 367.9L983.6 388.6L984.4 365.3L984.6 370.4L984.6 368.7L984.9 369.9L985.2 394.8L985.6 378.8L985.9 382.8L986.2 354.8L986.5 378.4L986.8 350.6L987.3 380L987.5 375.5L987.7 378.2L987.8 374.3L988.2 386.4L988.4 380L988.5 382.5L988.7 380.5L988.9 387.6L989.6 374L989.8 380.9L990.3 364.9L990.6 380.3L990.9 347L991.4 379.3L991.5 371.9L991.7 378.5L991.9 361.8L992.1 376.7L992.8 379.9L993.1 361.9L993.4 386.6L994 354.3L994.3 367.8L995.2 380.1L995.5 382.2L995.8 377.5L996.2 382.4L996.5 377.4L996.8 389.3L997.2 366L997.5 371.7L997.7 362.1L998 371.6L998.2 364.8L998.5 387.9L998.9 367.5L999.3 383.5L999.5 369.3L999.8 393.1L1000 364.4L1000.2 376.7L1000.7 342.4L1001.2 368.5L1001.5 371.4L1001.7 363.3L1002.1 393.6L1002.5 374.8L1003.1 391L1003.4 371L1004 379.9L1004.2 378.8L1004.4 385.9L1004.9 375.3L1005.5 382L1005.8 378.4L1006.1 361.6L1006.5 365.9L1006.9 379L1007.4 374L1008.1 383.7L1009.1 364.4L1009.5 387.8L1009.7 390.8L1010.1 385L1010.4 396.2L1011 367L1011.2 386.5L1011.4 375.8L1011.6 387L1011.9 362.9L1012.3 386.1L1012.7 369.2L1013 370.5L1013.6 400.1L1013.8 380.9L1014 393.1L1014.3 358.7L1014.7 384.1L1015 368.7L1015.4 376.2L1015.7 374.8L1016 367.8L1016.3 380L1016.7 384.3L1017 379.6L1017.8 392L1018.5 360.4L1019 397.4L1019.3 372.2L1020 396.8L1021.1 367.1L1021.6 376.7L1021.7 375.1L1022.4 380.2L1022.9 361.5L1023.1 375.5L1023.3 368.2L1023.4 371.9L1023.8 395.2L1024.3 386.8L1024.4 387.3L1024.6 386.1L1024.9 402.1L1025.1 399.5L1025.3 402.1L1025.6 388.4L1025.9 398.3L1026 397L1026.3 397.6L1026.6 412.8L1027 416.1L1027.4 389.1L1027.5 390.2L1027.7 389.8L1028 395.7L1028.3 395.5L1028.4 396L1028.7 395L1029.2 379L1029.4 381.8L1029.6 377.9L1029.7 379.7L1030 376.7L1030.2 379.3L1030.6 378.7L1030.9 391.5L1031 383.7L1031.7 401.7L1032.3 370.2L1032.5 378.8L1032.6 380.3L1032.8 378.3L1032.9 380.1L1033.5 404.8L1034 380.8L1034.3 384.6L1034.4 376.3L1034.9 394.8L1035.5 380.1L1035.9 385.9L1036.2 379.6L1036.6 394.1L1037.1 379.2L1037.2 381.3L1037.2 379.4L1037.4 380.9L1037.5 379L1037.8 394.5L1038 378.4L1038.2 392.2L1038.5 368.1L1039.7 398.2L1040.3 390.4L1040.5 392L1041 372.5L1041.2 376.5L1041.3 372.4L1041.8 390.2L1042.1 392L1042.7 360.3L1043.1 390.3L1043.3 384.4L1043.6 391.8L1043.9 376.8L1044.5 368.4L1044.8 388.2L1044.9 384.2L1045.1 389.1L1045.6 380.8L1046.1 387.5L1046.3 381.4L1046.7 385L1047 368.3L1047.4 382.5L1047.8 370.3L1048 378L1048.2 370.3L1048.4 380.9L1048.8 371.9L1049.3 394.7L1049.7 376.1L1050 381.5L1050.1 380L1050.4 380.9L1050.8 370L1051.1 368.3L1051.4 379.5L1051.7 378.9L1052.1 365.1L1052.4 383.1L1053 373.7L1053.2 379.9L1053.4 369.5L1054.3 390.5L1054.7 366.9L1055.2 369.7L1055.4 360.4L1056 382.9L1056.4 362.1L1057.4 399.8L1057.8 370.1L1058 373.3L1058.2 367.7L1058.4 373.4L1058.6 370.5L1059 387.3L1059.4 349.1L1059.9 390L1060.5 358.4L1061 375.9L1061.2 359.3L1061.8 377.5L1062 364.7L1062.2 368.8L1062.3 366.7L1062.5 381.5L1062.6 378.2L1063 381.5L1063.3 364L1063.6 368.9L1063.8 354.9L1064.5 381.8L1064.9 371.7L1065.3 375.5L1065.6 346.3L1065.9 386.1L1066.4 349.9L1067.3 382.8L1067.5 384.1L1067.7 379L1068 385L1068.2 377.8L1068.4 388.1L1068.7 386.9L1069.1 366.5L1069.2 371.5L1069.3 366.4L1069.6 377.6L1069.9 360.2L1070.1 372L1070.3 355.3L1070.8 381.3L1071 380.2L1071.1 383.1L1071.3 359.3L1071.5 367L1071.9 362.9L1072.3 380L1072.5 356.5L1072.8 388.8L1073.4 358.7L1074.2 377.6L1074.6 363L1074.9 370.9L1075.7 362.8L1076.4 389.4L1077.1 349.1L1077.8 384.2L1078.5 363.3L1078.7 383.2L1079 367.4L1079.2 379.8L1079.3 366.8L1079.6 394.4L1080.1 344.3L1080.8 365.8L1081.1 356.7L1081.8 395.6L1082.2 374.5L1082.5 383.2L1083.1 375.7L1083.4 381.6L1083.6 378.9L1083.8 381L1084.5 367.5L1084.8 371.8L1085.2 355.7L1085.5 360.1L1085.8 358.3L1086.1 380.3L1086.5 368.7L1086.9 379L1087.5 371.4L1088.1 375.6L1088.5 372.5L1088.8 388.3L1089.1 365.7L1089.5 378L1090.1 353.2L1090.6 371.4L1091.2 341.5L1091.7 384.8L1092.4 365.1L1093 394.7L1093.2 371.4L1093.4 385.7L1093.6 359.9L1093.8 374.1L1094 365.6L1094.2 366.3L1094.3 365.6L1094.5 374.2L1094.8 368.1L1095.4 377.6L1095.7 365.9L1096.2 383.9L1096.2 384.8L1096.4 382.7L1096.6 381.8L1096.7 382.5L1097 375.8L1097.4 390.2L1097.9 359.9L1098.4 393.8L1098.7 379.2L1099.1 396.6L1099.4 389.7L1099.7 410.3L1100.4 369.5L1100.8 379.9L1101.1 376L1101.9 389L1102.3 362.6L1102.6 392L1102.8 390L1103.1 401.2L1103.4 394.9L1103.7 399.7L1104 398.3L1104.7 406.1L1105 394.9L1105.3 407.4L1105.7 392.7L1106.1 418.9L1106.4 415.7L1107 378.5L1107.7 396L1107.8 396.5L1108 395.9L1108.2 408.8L1108.6 395.6L1108.8 398.5L1109 395.1L1109.2 401.5L1109.6 391.7L1110 393.7L1110.3 388.4L1110.6 403.9L1110.8 399.6L1111.1 408.4L1111.7 374.3L1111.9 381.9L1112.3 378.9L1112.9 400.8L1113.4 388L1113.5 389.5L1113.7 387.7L1113.8 373.7L1114.1 382.4L1114.6 381.7L1114.9 390.8L1115.3 377.9L1115.6 392.7L1115.9 390.2L1116 395.5L1116.4 389.9L1116.6 362.4L1116.9 393.1L1117.4 361.6L1117.6 380.5L1117.9 366.9L1118.2 379.5L1118.6 366.5L1119.2 395.7L1119.6 381.7L1119.9 386.8L1120.2 362.3L1120.3 368.2L1120.4 360.1L1120.6 363.2L1120.7 357.8L1121.5 387.4L1121.9 363.2L1122.4 390.3L1122.8 372.6L1123 377L1123.3 364.7L1123.4 371.2L1123.7 368.2L1124.2 371.7L1124.3 367.7L1124.9 385.5L1125.2 369.6L1126.1 392.1L1126.4 376.6L1126.5 378.8L1127.2 376.3L1127.4 394.6L1127.8 374.6L1128.4 368.7L1128.7 387L1129.2 365.4L1129.8 386.5L1130.2 370.9L1130.8 380.1L1131.1 377.1L1131.8 388.6L1132.1 380.9L1132.4 380.9L1132.6 388.5L1132.8 374.7L1132.9 373.2L1133 374.2L1133.1 380.2L1133.4 371.2L1133.7 389.5L1134.1 367.9L1134.6 379.9L1135.1 366.6L1135.8 383.3L1136.1 366.4L1136.8 393.8L1137.2 369.6L1137.4 376.2L1137.6 373.9L1137.8 382.1L1138 372.6L1138.2 379.6L1138.6 366.6L1138.7 365.1L1138.9 369.5L1139 360.5L1139.6 390.3L1139.8 369.5L1140.2 382.9L1140.5 363.6L1141.2 386L1141.4 369L1141.9 386.2L1142.1 372L1142.9 386.9L1143.4 361.9L1143.9 385.8L1144 384.1L1144.4 386.7L1144.9 347.3L1145.3 382.6L1145.8 351.5L1146.4 384L1146.6 379.2L1146.7 381.3L1147.1 375.2L1147.4 390.5L1147.6 375.3L1148.1 391.1L1148.4 371.5L1148.6 376.8L1149.1 363.5L1149.5 383.3L1149.7 357L1150.5 398.5L1150.6 380L1150.9 382L1151.3 371.3L1151.7 374.8L1151.9 356.7L1152.2 404.6L1152.6 346.1L1153 368L1153.3 365.8L1153.6 377.9L1154 380.5L1154.3 367.4L1154.6 381L1155.1 379L1155.8 394.8L1156.4 360.5L1156.8 381.5L1157 375.1L1157.2 393L1157.6 368.6L1158.1 394.6L1158.4 364.5L1158.6 386.6L1158.8 372L1159 400.4L1159.6 334.6L1160.2 373.4L1160.5 360L1161.2 403L1161.3 395.6L1161.4 397L1161.9 388.9L1162.2 379.8L1162.8 388.6L1163.7 365.9L1164.4 369.3L1164.5 368L1164.6 371L1164.9 361.4L1165.6 387L1166.1 375.8L1166.9 368.2L1167.2 380.4L1167.9 370.9L1168.3 392.4L1168.9 382.4L1169.2 391.8L1169.8 364.6L1170 390.5L1170.6 348.8L1171.1 391.4L1171.5 387L1171.8 370.4L1172 389.2L1172.2 388.2L1172.3 393.5L1172.6 364.4L1172.8 392.4L1173.1 359.1L1173.5 386.8L1173.8 367.7L1174.2 385.4L1174.5 365.5L1174.8 374.7L1175.1 364.9L1175.7 384.3L1175.7 385L1175.8 384.4L1175.9 385.1L1176 384.7L1176.1 386.4L1176.4 378L1176.6 384.1L1177.3 349.4L1177.8 386.2L1178.2 377.7L1179.1 400.7L1179.8 366.6L1180.2 377.3L1180.5 374.5L1181.3 389.6L1181.8 348L1182.7 388.7L1182.8 390L1183.2 388L1183.4 384.1L1183.7 398.9L1183.9 396.5L1184.4 413.6L1185 421L1185.7 489.2L1186.4 404.6L1186.8 412.2L1187.4 404.8L1187.6 406.2L1187.9 390.1L1188 388.5L1188.2 390.5L1188.4 384.8L1189 408.2L1189.4 401.4L1189.7 412.2L1189.7 398.3L1190 422.3L1190.3 405.6L1190.5 424.6L1191.1 375.6L1191.2 391.8L1191.3 390L1191.4 393.8L1191.5 387.8L1191.8 399.8L1191.9 397.4L1192 400.2L1192.1 399.2L1192.3 417.7L1193 390.8L1193.2 366.8L1193.5 390.4L1193.6 391.3L1194.1 388.4L1194.3 388.5L1194.5 388L1195.3 389.3L1195.4 404.6L1195.6 398.7L1195.7 406.1L1196 362.9L1196.3 400.7L1196.4 397.3L1196.6 402.5L1196.9 357.5L1197.1 392.1L1197.3 366.2L1198.4 405.1L1198.6 398.6L1198.8 408.5L1199 397.2L1199.2 399.5L1199.3 397.8L1199.5 363.7L1199.7 374.5L1199.8 355.7L1200 359.7L1200.1 352.8L1200.9 406.7L1201.5 351.2L1202 413.7L1202.1 376.1L1202.4 389.9L1202.6 366.2L1202.8 376.9L1203.3 361.2L1203.6 376.2L1203.8 362.5L1204.3 391.1L1204.4 380.6L1204.6 381.7L1204.7 378.3L1204.9 377.4L1205 378.6L1205.1 365.2L1205.5 383.2L1205.7 358L1205.8 368L1206.1 370.6L1206.5 371.1L1206.7 391.8L1207 363.7L1207.6 379L1207.8 367.9L1208.1 399.1L1208.5 349L1208.9 367.9L1209 368.1L1209.4 367.3L1209.6 367.7L1210.2 367.2L1210.5 365.9L1210.8 366.8L1211 366.7L1211.4 365L1211.7 364.9L1212 383.8L1212.4 353.1L1213 386.6L1213.3 356L1214 367.1L1214.2 346L1214.3 357.9L1215.3 353.8L1215.8 356L1216.2 393.4L1216.5 350.8L1217.2 379.3L1217.4 363L1217.6 377.1L1217.8 371.6L1218.1 324.1L1218.3 331.4L1218.4 323.8L1218.7 378.2L1219.2 325.3L1219.6 367.3L1220 332.7L1220.2 352.7L1220.4 342.4L1220.6 366.7L1220.8 337.1L1221.3 375.7L1221.6 355.2L1221.9 367.4L1222.1 355.8L1222.3 364.3L1222.7 316.1L1223.4 387.2L1224.1 362L1224.4 308.5L1224.7 380.4L1225.2 313.8L1225.8 371.6L1226.1 359.2L1226.4 372.1L1226.5 364.8L1226.8 377.3L1227 367.5L1227.4 387.9L1227.8 342.4L1228 353.1L1228.1 345L1228.3 365.1L1228.6 340.6L1228.8 361.4L1229 311.6L1229.4 382.4L1229.5 379.5L1229.6 386.1L1229.7 369.2L1229.9 389.6L1230 353.9L1230.3 367.1L1230.5 356L1231.1 382.4L1231.4 326.2L1231.7 403.2L1232.1 325.2L1232.7 357.6L1233.7 363.3L1234.2 358.7L1234.5 360.2L1234.7 384.7L1234.8 387.4L1234.9 384.3L1235.2 391.6L1235.9 322.6L1236.6 403.9L1237 352.2L1237.5 393.9L1237.7 349L1238 395.3L1238.2 352.7L1238.4 397.5L1238.9 308.6L1239.7 358.6L1239.9 324.4L1240.6 395.3L1240.7 386.6L1240.8 389.9L1241.1 385.6L1241.3 388.4L1241.8 373L1242 371.9L1242.2 382L1243.2 362.6L1243.3 367.5L1243.4 366.5L1243.7 369.7L1243.9 352.4L1244 351.8L1244.1 353.1L1244.3 349.2L1244.5 349.8L1244.7 348.7L1245 368.5L1245.3 355L1245.7 367.6L1246.3 352.1L1246.7 371.4L1247.4 357.4L1247.7 393.7L1248.1 368.2L1248.6 386.4L1249.2 328.9L1249.4 377.5L1249.5 336.9L1249.8 361.8L1250 315L1250.6 400.1L1251.1 325.9L1251.7 394.6L1251.9 340.7L1252.2 391.8L1252.5 327.2L1252.6 362.5L1253.1 338.1L1253.3 352.8L1254 350.3L1254.3 351.4L1255 386.8L1255.1 388.7L1255.2 387.7L1255.5 378.1L1255.7 380.4L1256 405.1L1256.8 328.7L1257.7 388.6L1258.6 339L1259.4 400.3L1260.3 346L1261.2 404.1L1262.1 349.8L1263 449.5L1263.7 696.1L1264.4 441.3L1265.5 357L1266.5 415.4L1267.4 361.4L1268.2 419.1L1269.1 364.3L1269.4 471.9L1269.6 427.9L1269.9 466.1L1270.3 355.1L1270.8 410.2L1270.9 383.8L1271.2 424.9L1271.5 413.9L1271.7 458.7L1272.2 380.1L1272.3 398.5L1272.4 388.2L1272.5 340.4L1272.9 398.5L1273 401.4L1274.7 397.7L1274.8 440.3L1275 411.7L1275.1 438.1L1275.3 339.7L1275.6 432.3L1275.9 417.6L1276 433.7L1276.3 332.4L1276.5 422L1276.8 349.3L1277.8 434.5L1278.4 397L1278.5 402.9L1278.7 398.5L1278.9 316.9L1279 355.9L1279.2 318.4L1279.3 330.9L1279.5 327.9L1280.2 427.1L1280.7 314L1281.1 427.1L1281.5 334.6L1281.7 382.3L1282.1 326.5L1282.2 364.7L1282.4 333.1L1282.6 338.2L1282.7 333.1L1282.9 369.1L1283.1 329.4L1283.6 411.7L1283.8 376.4L1283.9 380.8L1284.2 366.9L1284.3 373.5L1284.4 334.6L1284.9 386.7L1285.1 323.5L1285.3 361.7L1285.9 368.4L1286.1 410.2L1286.4 338.2L1287 385.2L1287.2 351.5L1287.4 415.4L1287.9 313.3L1288.1 363.9L1291.2 362.9L1291.3 405.8L1291.7 330.2L1292.4 410.2L1292.6 331.6L1293.3 380.1L1293.5 320.6L1293.6 364.7L1293.7 360.3L1295.1 360.3L1295.3 410.2L1295.9 316.9L1296.2 372L1296.3 351.5L1296.6 382.3L1296.8 339.7L1296.9 377.9L1297.3 280.2L1297.6 305.9L1297.8 294.2L1298.1 400.7L1298.5 283.1L1298.9 388.2L1299.1 352.9L1299.2 366.1L1299.3 286.8L1299.6 347L1299.8 316.2L1300 392.6L1300.2 301.5L1300.3 380.8L1300.5 372L1300.7 394.1L1300.9 342.6L1301.1 355.9L1301.2 345.6L1301.3 372.8L1301.4 339.7L1301.6 360.3L1302 273.6L1302.6 388.2L1302.8 355.9L1303.2 338.2L1303.2 347L1303.3 325.7L1303.5 338.2L1303.7 244.2L1304 379.4L1304.4 267L1304.8 383L1305 367.6L1305.2 372.8L1305.4 340.4L1305.8 355.9L1305.9 329.4L1306.1 354.4L1306.4 322.1L1306.5 350L1306.7 316.2L1306.8 333.8L1307.2 241.3L1307.6 329.4L1308 257.4L1308.3 322.1L1308.4 248.6L1308.7 376.4L1309.1 312.5L1309.2 355.9L1309.4 282.4L1309.7 304.4L1309.9 275.1L1310.4 350L1310.6 249.3L1311 388.2L1311.5 253L1311.9 325L1312.1 334.6L1313.9 335.6L1314.1 386.7L1314.8 327.9L1315 261.8L1315.6 380.1L1315.7 341.2L1315.8 379.4L1316.3 330.9L1316.4 257.4L1316.8 352.9L1317 282.4L1317.3 355.9L1317.6 282.4L1317.7 355.9L1318.2 250.1L1319 376.4L1319.2 269.2L1319.5 392.6L1320 285.3L1320.1 304.4L1320.3 303L1320.4 304.4L1320.6 308.8L1320.7 298.6L1321.5 320.6L1321.7 304.4L1322 320.6L1322.2 317.7L1322.4 319.1L1322.5 313.3L1323 333.8L1323.6 297.1L1323.8 311.8L1323.9 310.3L1324.1 311.8L1324.4 358.8L1324.7 325L1324.9 354.4L1325.7 314L1326 358.8L1326.7 313.3L1326.9 369.1L1327.5 323.5L1327.8 352.9L1328.5 260.4L1328.8 401.4L1329 282.4L1329.1 363.2L1329.4 250.1L1329.6 441.1L1330.5 285.3L1331.1 419L1331.3 325L1331.5 417.6L1331.7 279.5L1332 394.1L1332.5 311L1332.6 368.4L1332.8 365.4L1333.8 365L1334.3 417.6L1335 364.7L1335.3 380.1L1335.8 235.4L1336.3 383.8L1336.6 222.2L1337 320.6L1337.7 170.7L1338.5 752.6" stroke="#CE9E2E" stroke-width="2.0"/>
<path d="M157.5 133.3L157.8 149.6L158 140.3L158.3 150.5L158.9 127.2L159.1 135.1L159.2 136.3L159.4 134.4L159.7 138.5L159.9 137.4L160.1 148.7L160.6 136.7L160.7 137.6L160.9 136.6L161 123.1L161.3 134.3L161.4 135.4L161.8 134.8L162.1 135.4L162.5 137.2L162.8 135L163.1 135.5L163.5 145.9L163.8 123.1L164.1 145.3L164.3 144.5L164.4 148.6L164.7 124.2L164.8 141.5L165.2 129.9L165.4 134.9L165.8 134.9L165.8 135.3L166.3 150.4L166.5 147.1L166.6 152.4L167.1 145.4L167.3 128.8L167.5 134.2L167.6 124.9L167.8 127.2L167.9 124.6L168.7 151.4L169.3 123L169.7 154.7L170 136.1L170.2 142.1L170.5 131.7L170.6 137.1L171.1 130L171.4 136.6L171.5 130.3L172.1 144.7L172.2 139.9L172.3 140.5L172.7 138.4L172.9 133.1L173.3 140.5L173.5 129.1L173.7 135.7L174.4 136.6L174.6 147.2L174.8 133.1L175.4 139.8L175.6 134.2L175.9 150.3L176.3 126.2L176.6 136.3L177.3 137.8L178 135.1L178.7 136.7L179 135.7L179.3 138L179.6 137.9L179.8 147.2L180.1 132L180.6 138L180.8 148.5L181 132.3L181.8 140.3L181.9 131.5L182.1 137.3L182.6 136L183 136.8L183.5 136.5L184 157.5L184.4 135.4L185 150.8L185.3 142.4L185.4 149.9L186 121.2L186.1 127.6L186.2 123.3L186.5 153.7L187 124.7L187.4 147.9L187.8 128.1L188 137.7L188.2 132.4L188.3 134.4L188.4 146.2L188.6 129.9L189.1 155.9L189.3 144.3L189.7 149L189.9 142.2L190.1 147L190.6 119.7L191.2 162.1L191.5 150.5L191.7 148.3L191.9 149.8L192.2 117.5L192.5 160.1L193 124L193.6 156.1L193.8 147.5L194.1 152.2L194.3 146.7L194.5 155.1L194.8 149.5L195.1 163.9L195.6 139.6L195.8 146.1L195.9 139.7L196.1 149.9L196.3 137.3L196.7 146.1L196.9 116.8L197.2 159.5L197.5 147.7L197.7 158.2L197.8 138.5L198 143.9L198.3 139.9L198.9 149.1L199.1 119.4L199.4 164.4L200 122L200.4 137.6L200.8 141.3L201.2 141.4L201.5 139.3L202.3 141.4L202.5 154.2L202.6 155.3L202.8 154.1L203 158.4L203.7 124.8L204.4 166L204.8 137L205.3 158.9L205.6 134.3L205.8 160.1L206 138.9L206.2 166.2L206.7 119.5L207.4 151.9L207.7 136.7L208.4 174.2L208.5 166.8L208.6 170.6L208.9 167.7L209.1 171.3L209.4 164.2L209.7 164.1L210 171.2L210.4 163.8L210.8 164.8L210.9 161.7L211.1 163.6L211.2 162.5L211.4 163.3L211.5 162.7L211.7 154.5L211.8 155.4L212.5 151.8L212.8 160.5L213.1 152.3L213.5 158.2L214.1 150.3L214.4 159.9L215.2 151.9L215.5 168.5L215.9 155.3L216.4 161.1L217 134.8L217.2 156.3L217.4 138.4L217.6 150.1L217.8 123.2L218.3 166.6L219 125.6L219.6 161.5L219.8 137.7L220 160.8L220.3 128L220.5 147.4L220.9 137.6L221.1 144.1L221.4 144.9L221.7 144.6L222 145.3L222.5 148.2L222.9 164L223.5 158.6L223.8 173.8L224.5 142.4L225 192.3L225.3 180.6L226.1 205.8L226.5 202.6L227 177.5L227.4 185.2L227.6 172L228.5 201.6L229 165.7L229.2 185.4L229.4 179.8L229.8 202.4L229.9 202.7L230.1 201.9L230.4 205.8L231.1 198L231.4 205.7L231.9 204.2L232.3 200.3L232.9 209.3L233.4 159.6L233.7 155.2L234.3 171.2L234.8 164.7L235.2 141.3L235.4 143.6L235.6 139.5L236.2 155.6L236.4 155.7L236.6 155.5L236.9 157.5L237.2 173.7L237.4 165.3L237.7 174L238.1 151L238.6 160.1L238.8 158.9L239.1 163.6L239.3 162.5L239.5 172.6L240 160.3L240.2 158.2L240.3 159.1L240.4 146.7L240.8 158.9L241 159.1L241.2 158.6L241.5 160.7L241.9 160L242.2 160.8L242.5 159.9L242.6 166.8L242.8 164.1L243 168.2L243.2 150.1L243.5 166.9L243.7 165.3L243.8 168.7L244 148.2L244.2 165.7L244.6 152.9L246 174.9L246.5 167.6L247 148.1L247.2 150.1L247.3 148.8L248.1 172.9L248.7 146.3L249.1 176L249.3 160.3L249.6 164.9L249.9 154.7L250 160.7L250.5 153.6L250.8 157.7L250.9 152.9L251.5 166.5L251.6 162.1L251.7 162.8L252.1 161.1L252.3 154.4L252.7 162.2L252.9 151.1L253.1 156.5L253.8 157.8L254 167.4L254.2 154.8L254.8 160.9L255 156.9L255.3 172.4L255.7 147.7L256.1 159L256.4 159.9L257.1 157L257.4 160L257.7 157.2L258.7 159.6L259 159.5L259.2 168.1L259.6 153.5L260.2 170.5L260.4 156.4L261.1 161.8L261.3 151.7L261.5 157.4L262.7 159.6L263 158.3L263.4 179L263.8 157.1L264.4 169.5L264.6 162.2L264.8 169.2L265.3 142.4L265.5 148.9L265.6 145.5L265.9 172.5L266.5 146.6L266.8 166.9L267.1 149.4L267.4 159.2L267.7 152.9L267.8 166L267.9 152.2L268.5 174.5L268.7 164.2L268.9 164.1L269.1 167.8L269.3 162.8L269.5 167.7L270 142.4L270.6 181.1L270.9 169.2L271.1 167.8L271.3 170.1L271.6 139.5L271.9 177.8L272.3 144.4L273 175.8L273.2 166.3L273.6 172.2L273.8 167.8L274 175L274.2 168.9L274.4 181.3L274.7 178.8L275 159.2L275.2 165.6L275.3 159.9L275.5 170.4L275.7 157.9L276.1 165.1L276.3 137.7L276.6 179.5L276.9 167.6L277.1 177.9L277.2 159.7L277.5 164.7L277.6 159.7L277.9 161L278.3 168.6L278.5 139.2L278.8 181.6L279.2 141.8L279.8 157.6L280 158.9L280.6 157.9L280.9 159.3L281.2 159L281.7 160L281.9 172.7L282 173.6L282.2 172.3L282.4 176.2L283.1 143.6L283.9 185.6L284.2 155.6L284.7 177L285 154.7L285.2 178.2L285.4 158.5L285.6 184.1L286.1 141.5L286.8 172.9L287.1 158.3L287.8 193.2L287.9 185.9L288 188.4L288.3 183.2L288.5 185.7L288.8 178.6L289.2 180.7L289.4 187.8L290.3 176L290.8 180.1L291.1 169.4L291.3 170L291.5 169.4L291.6 169.6L291.9 168.1L292.2 175.2L292.5 169.5L292.9 175.2L293.5 169.1L293.8 176L294.5 166.7L294.9 184.4L295.3 171.5L295.8 175.7L296.4 151.7L296.6 172.5L296.8 155.8L297 166L297.2 140.6L297.7 182.9L298.4 143.5L299 175.6L299.2 152.6L299.4 175.1L299.6 146.5L299.9 165.8L300.3 155.3L300.5 161.3L301.1 163.7L301.4 163.7L301.7 162.7L302.3 180L302.9 174.8L303.3 190.2L303.9 160.3L304.4 209.2L304.7 197.4L305.5 221.6L305.9 217.8L306.4 192.1L306.8 199.5L307 188.1L307.9 216.1L308.3 182.3L309.2 217.2L309.3 217.8L309.5 217.2L309.8 221.3L310.5 214.3L310.8 220.2L311 217.4L311.3 218.7L311.7 214.8L312.3 222.7L312.8 175.6L313.1 171.9L313.4 183.1L313.7 187L313.8 186.4L314.2 179.5L314.5 159L314.7 157.1L314.8 159.9L315 156.2L315.6 170.6L316 174L316.3 174.2L316.3 172.2L316.4 173.2L316.6 185.4L316.9 179L317.1 188.1L317.5 164.8L317.6 166.4L317.7 164.8L318 173.7L318.2 171.7L318.5 176.3L318.5 175.8L318.6 176.6L318.7 176.2L318.9 186.4L319.4 174.1L319.5 175L319.7 173.4L319.8 160.2L320.2 172.7L320.6 174.4L320.9 171.7L321.6 172.7L321.9 171.7L322.3 181.6L322.6 161.6L322.9 180.2L323.1 179.5L323.2 183.4L323.5 160.4L323.6 176.4L324 166.3L324.6 171.4L325.1 184.1L325.3 180.6L325.4 185L325.7 178.7L325.8 179.7L325.9 178.3L326.1 164.5L326.3 169.9L326.4 161.7L326.6 164.3L326.7 161.9L327.5 186.5L328.1 157.7L328.5 186.9L328.8 170.3L329 176L329.3 166.1L329.4 170.3L329.6 166L329.7 166.9L329.9 166.4L330.2 171.6L330.3 165.5L330.9 178.3L331 173.6L331.4 172.6L331.5 173.2L331.7 166.7L332.1 174.5L332.4 163.1L332.5 167.7L333.2 170.1L333.4 178.8L333.6 165.2L334.2 172.4L334.4 168.4L334.7 183.3L335.1 160.3L335.4 169.5L335.8 169.5L336.1 170.2L336.5 167.6L336.8 167.9L337.3 170.1L337.8 167.4L338.1 169.5L338.4 167.8L338.6 175.9L339 162.7L339.6 178.8L339.8 165.2L340.6 171L340.8 161.8L340.9 167.4L341.1 167.8L341.4 167L341.8 167.2L342.4 168.9L342.8 187.1L343.2 166.1L343.8 180.3L344.1 171.7L344.2 178.6L344.8 153.1L344.9 158.4L345.1 155.1L345.3 181.2L345.8 154.9L346.2 176.9L346.5 159.7L346.8 169.1L347.1 163.4L347.2 174.7L347.4 160.2L347.9 184.8L348.1 173.6L348.5 178.3L348.7 171.6L348.9 176.2L349.3 152.8L350 188.8L350.3 179.8L350.5 176.6L350.6 176L350.7 177.2L350.9 148.4L351.3 187.5L351.7 154.7L352.4 183.9L352.6 175.2L352.9 180.3L353.1 175.6L353.3 183.1L353.6 178.3L353.8 190L354.4 166.2L354.9 177.9L355.1 166.4L355.5 174.3L355.7 147.1L356 186.8L356.3 175.1L356.5 185.8L356.6 168.6L356.9 172L357 166.1L357.7 177.9L357.9 149.1L358.2 189.5L358.6 152.2L359.2 166.4L360 169.4L360.3 169.8L360.6 167.4L361 169.9L361.1 169L361.8 186.2L362.5 154.9L363.3 194.2L363.6 165.7L364.1 186L364.3 163.5L364.6 187.9L364.8 168.6L365 193.5L365.5 151.8L366.2 182.6L366.5 169.4L367.1 202.1L367.3 195L367.4 198.2L367.7 194.9L367.9 197.3L368.2 189L368.8 197.5L369 192.5L369.3 191.3L369.6 192.4L369.7 189.2L369.9 190.6L370 189.4L370.2 190L370.3 189.3L370.5 181.2L370.7 182.1L371.3 179.1L371.6 186.4L371.9 181.2L372.2 186.7L372.6 180.5L372.7 180L372.9 180.5L373.3 185.7L373.9 179L374.3 194.2L374.7 182.3L375.2 187.2L375.8 163.3L376 182.3L376.2 165.3L376.4 175.2L376.6 150.3L377.1 192.7L377.8 155L378.4 188.9L378.6 166L378.8 186.1L379 157.6L379.3 176.5L379.7 167.7L379.9 173.5L380.8 176.2L381 175.6L381.3 177.6L381.7 192.6L382.3 187.5L382.7 203L383.3 173.8L383.8 218.3L384.1 208.4L384.9 230.7L385.3 228.1L385.8 204.9L386.2 213.3L386.4 202.3L387.3 229.2L387.8 194.2L388 212.9L388.2 207.5L388.7 231.1L388.9 230.2L389.2 232.9L389.4 232.3L389.9 226.7L390.2 233.3L391 227.6L391.7 235.9L392.2 190.3L392.5 187L393.1 201.9L393.5 199L394 174L394.2 177.1L394.4 174.3L395 188L395.4 190.1L395.7 188L396 203.1L396.2 193.1L396.5 203.3L397.1 178.9L397.3 187.9L397.4 189.2L397.6 186.7L397.9 191.6L397.9 191L398.1 191.9L398.3 204.2L398.8 189.3L398.9 190.5L399.1 189L399.2 174.4L399.6 188.1L399.8 188.6L400.7 189.1L401.3 188.7L401.7 198.4L402 177.4L402.3 196.9L402.5 196.2L402.6 200.6L402.9 176.2L403 194.2L403.4 180.4L404.5 201.7L404.7 197.3L404.9 203.6L405.3 195.1L405.5 180L405.7 186.1L405.8 176.4L406 178.5L406.1 176L406.9 202.2L407.5 173.3L407.9 207.8L408.2 187.1L408.4 193.1L408.7 183.3L408.8 188.8L409.3 182.1L409.6 187L409.7 181L410.3 195.1L410.4 189.7L410.8 188L410.9 188.4L411.1 182.8L411.5 192.8L411.7 180.1L411.9 185.2L412.2 187L412.6 186L412.8 197.3L413 182.8L413.6 190.1L413.8 184.8L414.1 202.3L414.5 175.9L414.9 186.6L415.2 187.1L415.6 186.3L415.9 187.4L416.2 186.6L416.5 187.5L416.9 186L417.2 186.9L417.8 185.2L418 195.8L418.4 181.3L418.5 185.5L418.8 185.3L418.8 185.7L419.1 198.1L419.2 183.4L420 190.9L420.1 181.6L420.3 187.7L420.5 187.8L421.5 185.4L421.7 185.7L422.2 209L422.6 185.3L423.2 200.7L423.5 191.7L423.6 199.8L424.2 168.8L424.3 175L424.5 171.8L424.7 202.6L425.3 172.9L425.6 196L425.9 176.5L426.2 186.9L426.4 181.6L426.5 183.7L426.6 196.5L426.8 180.4L427.3 206.4L427.5 193.5L427.7 193.9L427.9 198.2L428 193L428.3 196.6L428.7 169L429.4 210.7L429.7 201.2L430 197.3L430.1 198.4L430.3 165.6L430.7 209.2L431.1 170.9L431.8 204.3L432 196.2L432.4 203.2L432.6 196.9L432.7 203.7L433 197.4L433.4 213.6L433.8 187.6L434.3 200.7L434.5 186.6L434.9 195.1L435 166L435.4 208.3L435.7 196.3L435.9 208.1L436 188.6L436.3 192.8L436.5 186.7L437.1 198L437.3 166.2L437.6 212.2L438 170.3L438.7 187.8L438.8 188.1L439.4 187.9L440 189.6L440.5 188.2L441.2 208.5L441.8 171.2L442.7 215.6L443 186L443.5 208.2L443.7 183.1L444 210.3L444.2 187.1L444.4 214.1L444.9 167.9L445.6 199L445.9 183.8L446.6 229.5L446.7 222L446.8 225L447.1 220.5L447.3 223L447.9 211.6L448.3 221.7L448.4 216.4L449.1 209.4L449.3 211.7L449.4 210.7L449.6 211.5L449.7 210.8L449.9 201.3L450 201.9L450.3 199.6L450.6 200.2L450.7 199.4L451 207.7L451.3 201.6L451.7 206.8L452.3 198.5L452.7 208.2L453.3 198.8L453.7 217.9L454.1 204.2L454.6 209L455.2 182.5L455.4 204.5L455.6 186.9L455.8 197.5L456 169.6L456.5 216.1L457.2 172.4L457.8 209.8L458 184.5L458.2 209.3L458.5 176.9L458.7 197L459.1 186L459.4 193.6L459.6 194.5L460.2 193.5L460.4 195.1L461.1 212.9L461.7 207.4L462.1 223.8L462.7 190.5L463.2 241.8L463.5 229.7L464.3 255.2L464.7 251.5L465.2 225.9L465.6 232.6L465.8 220.1L466.7 250.8L467.2 212.6L467.4 234.1L467.6 229.2L468 252.9L468.2 252L468.6 256.6L469.3 248.8L469.6 255.9L469.8 253.9L470.1 254.9L470.4 250.7L471.1 260.5L471.6 211L471.9 207.3L472.6 222.9L473 217.4L473.3 196.6L473.5 195.1L473.6 197.8L473.8 193.1L474.4 210.5L474.8 210.9L475.1 209.7L475.4 223.7L475.6 215.9L475.9 225.9L476.3 203.2L476.4 205.3L476.5 203.2L476.7 209.6L476.8 211.5L477 210.4L477.2 215.4L477.3 215L477.4 215.6L477.5 214.9L477.7 224.9L478.2 211.3L478.3 211.9L478.5 210.6L478.6 197.5L479 209.8L479.4 212.1L479.7 211.3L480.1 212L480.4 210.4L480.7 210.5L481.1 220.7L481.4 201.4L482 222.2L482.3 200.2L482.4 216.4L482.8 203.5L484.2 226.3L484.7 217.3L484.9 204.1L485.1 209.4L485.2 199.8L485.4 200.5L485.5 198.8L486.3 225.3L486.9 195.5L487.3 228.1L487.6 209.7L487.8 215.5L488.1 206.7L488.2 210.7L488.7 204L489 208.6L489.1 203.2L489.7 218.9L489.8 213.3L490.1 211.3L490.3 212.2L490.5 205.5L490.9 214.9L491.1 203.4L491.3 207.9L491.6 208L492 210.4L492.2 220.2L492.4 206.2L492.6 205.5L493 211.4L493.2 206.9L493.5 223.2L493.9 200L494.3 209.7L495 207.4L495.3 208.9L495.6 208.8L495.9 207.9L496.6 209.9L496.9 207.4L497.2 207.7L497.4 217.4L497.8 203.3L498.4 218.4L498.6 204.4L499.4 210.3L499.6 201.4L499.8 208.2L500 208.8L500.6 209.2L500.9 208.1L501.2 210.1L501.6 227.4L502 206.7L502.6 220.3L502.9 211.3L503 218.5L503.5 194.5L503.7 199.1L503.8 193.5L504.1 222.2L504.7 195.8L505 216.3L505.4 199.1L505.6 208.1L505.9 202.5L506 214.4L506.2 199.8L506.7 224.7L506.9 212.8L507.1 213.1L507.3 217L507.5 212L507.7 216.7L508.1 192.1L508.7 229.4L509.5 217.6L509.7 187.7L510.1 227L510.4 194.4L511.2 224.6L511.4 216.2L511.7 221.7L512 216.8L512.1 223.8L512.4 217.9L512.7 231.2L513.2 206.9L513.7 219.5L513.9 206.8L514.3 215.1L514.4 189L514.8 228L515.1 215.2L515.3 226.5L515.4 209.1L515.7 213.1L515.9 207.5L516.5 218.9L516.7 190.1L517 230.8L517.4 192.2L518 206.8L518.8 209.9L519.1 209.8L519.8 208.4L519.9 209.1L520.1 222L520.2 222.7L520.4 221.3L520.6 224.6L521.2 193.1L522.1 233L522.4 204.5L522.9 225.2L523.1 202.9L523.4 227.3L523.6 206.6L523.8 231.5L524.3 188.7L525 220.9L525.3 206.4L526 244.4L526.1 236.9L526.2 239.5L526.5 234.5L526.7 236.4L527 229.8L527.3 230.2L527.7 238.7L527.8 234L528.5 227.4L528.7 228.8L528.8 228L529.1 228.9L529.3 220.1L529.5 221.1L530.1 218.9L530.4 226.6L530.7 220.3L531.1 226.2L531.7 218.7L532.1 225.7L532.7 219.4L533.1 237.3L533.5 223.9L534 231.3L534.6 203.6L534.8 223.9L535 207.4L535.2 218L535.4 192.5L536 236L536.6 195.3L537.2 229.7L537.4 205.8L537.6 227.3L537.8 198.1L538.1 217.5L538.5 208L538.8 214.7L539.3 215.6L539.6 214.3L539.8 214.6L540.1 216.3L540.5 231.5L540.9 225.5L541.2 227L541.5 241.7L542.1 208.1L542.6 256.7L542.9 245.5L543.7 267.5L544.1 263.7L544.6 240.2L545 247.2L545.2 237L546.1 264.2L546.6 227.4L546.8 247L547 242.5L547.4 265L547.5 265.7L547.7 264.8L548 267.7L548.7 258.9L549 264.9L549.2 262.9L549.5 264.6L549.9 259L550.5 266.8L551 220.2L551.3 215.8L551.9 232.3L552.3 230.2L552.8 206.2L553 209.3L553.2 205.9L553.8 219.4L554.2 221.8L554.5 220.9L554.5 221.5L554.8 236.7L555 227.4L555.3 236.4L555.5 231.1L555.7 214.4L556.2 223.5L556.4 221.6L556.7 225.3L556.7 224.3L556.9 224.9L557.1 236L557.6 224.1L557.7 224.9L557.9 223.4L558 210.1L558.4 223.6L558.6 224.1L559.1 224.2L560.1 223.1L560.5 232.4L560.8 211.7L561.1 232L561.3 230.8L561.4 234.4L561.7 212.8L561.8 229.2L562.2 216L563.3 236.1L563.5 231.9L563.7 237.5L563.9 232.1L564 233.2L564.1 231.9L564.3 217.8L564.5 222.8L564.6 213.5L564.8 214.8L564.9 211.8L565.7 236.5L566.3 208.6L566.7 241.5L567 223.5L567.2 228.9L567.5 219.2L567.6 224.6L568.1 216.3L568.4 221.8L568.5 216.6L569.1 230.7L569.2 225.4L569.5 224.3L569.7 225.6L569.9 219.5L570.3 227.4L570.5 215.9L570.7 220.9L571 222.5L571.4 221.6L571.6 231.6L571.8 218.6L572.4 226L572.6 221.1L572.9 235.9L573.3 211.5L573.7 223.3L574.4 222.9L574.7 220.7L575.3 221.2L575.7 222.8L576 221L576.6 221.1L576.8 230.5L577.2 217.3L577.8 232.9L578 217.4L578.7 225.5L579 215L579.3 222.5L580 221.2L580.3 221.2L580.6 223.1L581 240.8L581.4 220.8L582 232.8L582.2 225.9L582.4 232.9L582.9 208.2L583.1 213L583.2 207.6L583.5 235L584 208.3L584.4 230.9L584.7 213.6L585 221.8L585.3 217.3L585.4 229.5L585.6 215.2L586.1 239L586.3 227.6L586.5 227.8L586.7 231.4L586.9 226.2L587.1 230.9L587.5 206.5L588.2 244.8L588.5 232.7L588.7 231.2L588.9 233.3L589.2 202.7L589.5 241.9L589.9 207.9L590.6 239.5L590.8 231L591.1 235.9L591.4 230.7L591.6 237.6L591.8 231L592.2 245.4L592.6 222.1L592.8 229.2L592.9 223.6L593.1 232.3L593.3 220.1L593.7 228.7L593.9 201.1L594.2 242.7L594.5 228.5L594.7 239.2L594.8 221.1L595.1 226L595.3 221.5L595.9 233.8L596.1 202.7L596.4 245L596.9 204.2L597.4 221L598.2 223L598.7 222.6L599.2 223.8L599.3 223.4L600 241.2L600.7 208.5L601.4 247.9L601.8 219.4L602.3 241L602.6 219.3L602.8 242.9L603 222.2L603.2 247.2L603.8 204L604.4 236.2L604.7 222L605.3 259L605.5 251.3L605.6 254.3L605.9 250.9L606.1 253.7L606.4 246.1L606.7 244.5L607.1 252.2L607.2 248.3L607.4 248.9L607.9 243.2L608.1 245L608.2 244.3L608.5 245.5L608.7 237.8L608.8 238.5L609.1 235.3L609.2 235.9L609.5 235.4L609.8 243L610.1 236.3L610.5 242.7L611.1 235.7L611.5 242.3L612.1 236.2L612.5 252.6L612.9 239.6L613.4 246L614 219.9L614.2 240.8L614.4 224.4L614.6 234L614.8 208.5L615.3 251.4L616 212.4L616.6 246.5L616.8 223.6L617 245.5L617.3 215.8L617.5 234.4L617.9 224.7L618.1 230.4L618.4 229.9L619.2 230.1L619.9 249.5L620.3 244.6L620.5 246.1L620.9 264.1L621.5 231.3L622 274L622.3 257.7L623.1 278.4L623.4 278.9L624 254.9L624.4 261.3L624.7 250.7L625.5 276.9L626 242.5L626.2 261.6L626.4 256.1L626.8 276.9L627 276.1L627.1 276.5L627.4 280.8L628.1 273.5L628.4 279.8L629.2 274L629.9 284.5L630.4 237.9L630.7 235.1L631 246.4L631.3 250.3L631.6 249.6L632.2 226.7L632.4 230L632.6 226.5L633.2 240.4L633.6 242.7L633.9 241.4L634.2 258.8L634.5 250.1L634.7 260L635.1 237.1L635.2 238.8L635.3 236.3L635.5 245.5L635.6 246.3L635.8 245.1L636.1 249L636.3 248L636.5 259.3L637 247.2L637.1 247.9L637.2 246.1L637.3 247.5L637.4 232.6L637.8 245.9L638 246.3L639.5 246.3L640 255.9L640.2 234.8L640.5 254.8L640.7 253.3L640.8 256.6L641.1 234.7L641.2 251.6L641.6 240.1L642.3 248.2L642.7 259.9L642.9 255.9L643.1 262L643.5 254.6L643.7 240.5L643.9 245.3L644 236L644.2 237.7L644.3 234.5L645.1 261.9L645.7 231.2L646.1 265.9L646.4 246.5L646.6 252.1L646.9 242.7L647 247L647.5 240.5L647.8 245.8L647.9 240.5L648.5 253.8L649.3 242.1L649.7 251L650 238.5L650.1 244.1L650.5 245.5L650.7 245.7L650.8 245.3L651 256.2L651.2 242.3L651.8 248.8L652 244.3L652.3 261.5L652.8 234.8L653 244.8L653.5 245.2L656 245L656.2 254.8L656.6 239.8L657.3 257.6L657.5 241.5L658.2 247.8L658.4 238L658.5 244.6L659.9 244.7L660 244.5L660.4 267L660.8 243.3L661.4 257.9L661.7 248.5L661.8 256.8L662 253.7L662.4 227.4L662.5 234.7L662.7 230.4L662.9 259.5L663.5 230L663.8 253.7L664.2 235.3L664.4 245.9L664.7 239.9L664.8 252.8L664.9 237.5L665.5 262.7L665.7 250L666.1 255.2L666.3 249.1L666.5 254.1L666.9 225.6L667.5 270.4L667.9 256L668.2 254.1L668.3 256.7L668.5 217.1L668.9 265.2L669.3 227.6L670 261.9L670.2 252.6L670.6 258.9L670.8 252.7L671 260.7L671.2 254.5L671.4 270.3L672.1 243.4L672.5 255.6L672.7 242.9L673.1 251.8L673.3 217.6L673.6 266.4L673.9 253.1L674.1 264.9L674.2 245.6L674.4 250.1L674.7 244.6L675.3 255.8L675.5 220.8L675.8 272.6L676.3 223.1L676.8 243L677.3 244.9L678.7 245.1L678.9 257.5L679.4 263L680.1 226.9L680.9 276.3L681.2 242.6L681.7 265.6L682 239.7L682.2 266.9L682.4 242.9L682.6 271.2L683.1 217.5L683.8 251.9L684.1 236.4L684.8 283.3L684.9 271.3L685 275.5L685.3 271L685.5 274.4L685.8 264.9L686.1 264L686.4 274.4L686.6 268L687.3 261.3L687.5 263.1L687.6 262.3L687.9 263.8L688.1 254.7L688.2 255.7L688.5 253.1L688.6 253.4L688.9 252.5L689.2 260.5L689.5 254.2L689.9 259.8L690.5 252.9L690.9 260.8L691.5 253.1L691.9 273.4L692.3 257.4L692.8 264.7L693.4 237L693.6 259.3L693.8 240.9L694 253.9L694.2 222.1L694.7 272L695.4 227.7L696 266.2L696.2 240.5L696.4 264.5L696.7 231L696.9 251.6L697.4 241.2L697.5 247.6L698.6 248L699.3 265.9L699.9 258.4L700.3 276.2L700.9 238.5L701.4 294.7L701.7 272.3L702.5 302.8L702.8 301.4L703.4 266.3L703.8 274.5L704.1 261.2L704.8 295.6L705.4 252.2L706.2 297.4L706.5 295L706.8 299L707.5 286.9L707.8 297.6L708.6 289L709.3 304.2L709.8 251.4L710.1 247.9L710.6 264.1L710.8 264.4L711.1 263L711.6 237.5L711.8 242.5L712 239.4L712.6 254.4L713.3 255.8L713.4 253.7L713.6 265.2L713.8 256.6L714.1 266.4L714.7 242.2L715 253.5L715.2 251.5L715.5 256.7L715.6 257.6L715.7 256.9L715.9 267L716.4 254.8L716.5 255.5L716.6 253.9L716.7 254.7L716.8 241.7L717.1 252.3L717.6 255.9L718.3 253.7L718.6 256.1L718.9 254.1L719.4 264.4L719.6 245.4L719.9 263.8L720.1 263.2L720.2 267.4L720.5 245.2L720.6 262.5L721 250.4L722.1 270.1L722.2 265.7L722.5 272.5L722.7 267.1L722.8 268L722.9 267.2L723.4 246.9L723.6 249.6L723.7 247.2L723.9 256.2L724 256.7L724.2 255.4L724.5 273L725.1 244.7L725.5 274.9L725.8 256.9L726 263.1L726.3 253.8L726.4 258.5L726.9 251.7L727.2 256.7L727.3 250.6L727.9 265.5L728 260.7L728.1 261.2L728.4 259.8L728.5 260.3L728.7 255.1L729.1 262L729.3 250.5L729.5 256.6L730.2 259.6L730.4 268.2L730.6 254.3L731.2 261L731.4 257.6L731.7 273.6L732.1 248.6L732.4 258.5L732.8 258.8L733.2 258L733.5 258.4L733.8 258.2L734.1 259.2L734.5 258.6L735.4 259.2L735.6 268.8L736 254.6L736.6 270.6L736.8 256.1L737.6 261.9L737.8 252.6L737.9 258.7L738.1 259.4L738.4 258.6L739.4 260.9L739.8 280.7L740.2 256.9L740.8 271L741 263.7L741.2 270.9L741.7 243L741.9 249.7L742 246.3L742.3 274.3L742.8 245.7L743.2 269L743.5 251.3L743.8 260.2L744.1 254.6L744.2 267.4L744.4 253L744.9 276.6L745.1 266L745.4 271.2L745.7 263.9L745.9 268.6L746.3 244.1L746.9 282.3L747.3 271L747.5 269.3L747.7 271L748 238.5L748.3 280.8L748.7 245.7L749.4 278.2L749.6 268.9L750 274.6L750.2 269.6L750.3 276.6L750.6 269.9L751 284.7L751.4 260.9L751.6 267.7L751.7 261.8L751.9 272L752.3 259L752.5 268.2L752.6 241.5L753 282.1L753.3 270.4L753.5 281L753.6 262.2L753.9 267L754.1 261.5L754.7 273.1L754.9 242L755.2 285.4L755.7 244.1L756.2 259.8L756.7 262.3L757.3 262.5L757.6 261L758.1 261.8L758.3 274.8L758.8 280L759.5 247.2L760.3 288.4L760.6 258.7L761.1 278.9L761.3 256.4L761.6 281.7L761.8 259.9L762 285.3L762.6 241.5L763.2 273.5L763.5 259.2L764.2 296.1L764.3 288.9L764.4 292.5L764.7 288.9L764.9 291.2L765.5 282.4L765.8 290.3L766 285.2L766.6 282.6L766.7 279.4L767.3 283.6L767.5 274.5L767.9 272.3L768 272.9L768.3 272.3L768.6 280.2L768.9 273.8L769.3 277.9L769.9 271.8L770.3 279.5L770.9 271.2L771.3 288.4L771.7 275.4L772.2 282.9L772.8 255.8L773 276.1L773.2 258.3L773.4 269.3L773.6 243.9L774.1 288.6L774.8 248L775.4 281.3L775.6 257L775.8 281.2L776.1 250.5L776.3 269.7L776.7 260.1L776.9 266.2L777.5 267.2L778 266.5L778.7 284.5L779.3 276.8L779.7 291.7L780.2 258.5L780.8 306.2L781.1 295.4L781.9 317.9L782.1 318.2L782.2 317.9L782.3 314.7L782.8 288.9L783.2 297.2L783.4 284.8L784.3 312.7L784.8 276L785 295.9L785.2 290.8L785.7 314.9L785.9 313.9L786.2 316.2L786.9 309.9L787.2 316.6L787.4 314.1L787.7 315.6L788.1 310.4L788.7 319.5L789.2 274.1L789.5 270L790.1 286.2L790.5 282.8L791 256.8L791.2 260.6L791.4 258L792 272.2L792.7 272.5L792.7 272.9L793 288.1L793.2 278.8L793.5 288.5L794.1 265.9L794.3 273.9L794.4 275.3L794.6 273.7L794.9 278.7L794.9 277.9L795.1 278.4L795.3 289.6L795.8 276.2L795.9 276.8L796 275L796.1 276.1L796.2 263.5L796.5 274.4L797 276.9L797.3 276.9L797.7 276.2L798 277.2L798.3 277.2L798.5 285.2L798.6 281.7L798.8 285.2L799 265.2L799.6 288.5L799.9 266.6L800 283.6L800.4 269.9L801.1 280L801.5 291.2L801.7 287.9L801.9 292.9L802.3 285.7L802.5 271L802.7 275.9L802.8 266.2L803 267.2L803.1 265L803.9 291.9L804.5 263.3L804.9 296L805.2 276.5L805.4 282.5L805.7 274.4L805.8 279.3L806.3 271.2L806.6 276.9L806.7 271L807.3 285.7L808.1 274.6L808.5 282L808.7 270.4L808.9 276L809.2 277.7L809.6 277.3L809.8 287.1L810 273.8L810.6 280.9L810.8 276.7L811.1 292.4L811.5 266.9L811.9 278.4L812.6 276.7L812.9 277.5L813.2 276.6L813.5 276.5L813.9 277.8L814.2 276.6L814.5 276.9L814.8 276.6L815 285.6L815.4 272.2L816 288.3L816.2 274L817 280L817.2 270.9L817.3 276.7L817.8 279L818.2 277.5L818.7 278.2L818.8 279.2L819.2 299.1L819.6 277.2L820.2 290.2L820.4 281.3L820.6 288.8L820.8 286.1L821.2 262.2L821.3 268.4L821.4 264.3L821.7 292.2L822.3 264.7L822.6 285.9L823 268.7L823.2 277.6L823.5 272.7L823.6 285.9L823.7 271.6L824.3 295.4L824.5 282.7L824.9 289.1L825 284.1L825.3 287.7L825.7 261L826.3 300.4L826.7 290L827 287.7L827.1 289.2L827.4 256.8L827.7 298.1L828.1 263.2L828.8 294.5L829 286.8L829.3 291.5L829.6 286.3L829.8 293.7L830 287.7L830.2 300.6L830.5 298.3L830.8 278.5L831 285.5L831.1 279.4L831.3 288.3L831.6 276.6L831.9 285.6L832 258L832.4 299.5L832.7 286.5L832.9 297L833 278.3L833.3 283.5L833.5 278.3L834.1 288.7L834.3 258.6L834.6 301.2L835 262.1L835.6 277.1L835.8 278.3L836.7 277.9L837 280.1L837.5 279.2L838.2 296.9L838.9 262.2L839.7 304.4L840 276.6L840.5 297.3L840.8 274.6L841 299.2L841.2 278.2L841.4 303.6L841.9 260.6L842.6 289.8L842.9 274.3L843.5 310.5L843.7 303L843.8 306.7L844.1 304.3L844.3 307.7L844.8 297.7L845.3 308L846.1 295.9L846.3 298.2L846.4 297.7L846.7 299.1L846.9 290.6L847 291.2L847.3 288.4L847.7 287.7L848 296.4L848.3 289.9L848.7 293.9L849.3 287.2L849.7 296.1L850.3 288.3L850.6 306.5L851.1 291L851.6 297.6L852.2 272.5L852.4 292.8L852.6 275L852.8 285.4L853 259.6L853.6 304.9L854.2 264.4L854.8 298.7L855 274.8L855.2 296.6L855.5 265.7L855.7 284.8L856.1 276L856.3 282.8L856.6 283.1L856.9 281.8L857.4 282.8L858.1 298.6L858.7 292.4L859.1 307.3L859.7 275L860.2 322.9L860.5 310.9L861.3 331.3L861.6 331.2L861.7 329L862.2 303.5L862.6 310L862.8 298.8L863.7 326.8L864.2 291.7L864.4 310.6L864.6 305L865 327.1L865.2 326.6L865.6 331.5L866.3 322.8L866.6 330.5L867.4 324.6L868.1 335.5L868.6 286.3L868.9 283.3L869.5 300.5L870 294.8L870.4 272.9L870.6 275.8L870.8 272.2L871.4 287.6L871.8 287.3L872.1 288.5L872.1 287.5L872.4 300.6L872.6 292.5L872.9 303L873.3 278.7L873.4 280.3L873.5 278.6L873.8 288.4L874 286.8L874.3 292.5L874.4 293.1L874.5 292.7L874.7 303.6L875.2 289.5L875.4 287.4L875.5 288.4L875.6 275.8L876 290.5L876.4 287.9L876.7 289L877.1 287.7L877.4 289.6L877.7 287.9L878.1 299.5L878.4 278.1L878.7 298.6L878.9 296.5L879 299.6L879.3 277.5L879.4 294.4L879.8 281.9L880 288.5L880.4 288.6L880.5 291L880.9 302.1L881.1 298.8L881.2 303.7L881.5 297.4L881.6 298.4L881.7 297.8L881.9 282.2L882.1 288L882.2 279.5L882.4 282.6L882.5 280L883.3 305.9L883.9 275.2L884.3 309.2L884.6 289.1L884.8 294.1L885.1 284.8L885.2 291L885.7 284.4L886 291.1L886.1 284.1L886.7 296.4L886.8 291.3L887.1 290.2L887.3 290.9L887.5 284.4L887.9 294.4L888.2 282.1L888.3 286.8L889 289.9L889.2 298.6L889.4 285L890 294.7L890.2 288.4L890.5 303.9L890.9 278.5L891.3 290.8L891.6 290.4L892 290.9L892.3 288.6L892.9 287.3L893.3 287.4L893.6 290.7L894.2 288.9L894.4 297.5L894.7 283.8L894.9 290.1L895.2 288.4L895.5 299.9L895.7 285.6L896.3 293.1L896.5 284.1L896.7 289.7L897.6 289L897.9 290.3L898.2 288.3L898.6 309L899 288.9L899.6 301.9L899.9 291.6L900 300.1L900.5 275.9L900.7 280.3L900.8 274.6L901.1 303.3L901.6 275.7L902 298L902.3 279L902.6 289.3L902.8 284.5L902.9 286.6L903 298.1L903.2 282.2L903.7 306L903.9 293.7L904.1 294L904.3 297.8L904.5 292.4L904.7 296.5L905 272L905.8 313L906.5 298.5L906.7 266.7L907.1 309L907.5 273.5L908.2 306.1L908.4 297.5L908.7 302.7L909 297.3L909.1 304.1L909.4 298.5L909.6 311.9L909.9 309.9L910.2 290.5L910.4 297.5L910.5 291.8L910.7 301.6L910.9 289L911.3 297.1L911.5 269.1L911.8 310.9L912.1 297.8L912.3 308.1L912.4 289.1L912.7 292.8L912.9 287.4L913.5 300L913.7 270.6L914 313.8L914.5 271.3L914.8 283.2L915.4 291L915.8 291.1L916.4 288.3L916.9 288.5L917.6 308.3L918.2 274.2L919.1 315.8L919.4 287.2L919.9 306.6L920.1 283.8L920.4 309.6L920.6 287.8L920.8 312.9L921.3 268.7L922 301.2L922.3 286L923 325.7L923.1 317.7L923.2 320.5L923.5 315.9L923.7 318.5L924.3 311.1L924.7 319.8L925.5 308.6L925.7 310.7L925.8 309.8L926 310.8L926.1 310.2L926.3 301.3L926.7 298.8L926.8 299.3L927.1 298.9L927.4 308.1L927.7 303L928.1 307.7L928.7 299.5L929.1 306.8L929.7 299.8L930.1 318.6L930.5 303.8L931 311.6L931.5 284.6L931.8 305.5L932 287.8L932.2 297.7L932.4 271.7L932.9 316.3L933.6 275.1L934.2 309.8L934.4 285.9L934.6 307.2L934.8 277.3L935.1 297.6L935.6 286.2L936 294.3L936.3 293.1L936.6 293.6L936.8 293.2L937.5 310.8L937.9 306.6L938.1 306.3L938.2 307.9L938.5 321.5L939.1 287.5L939.6 333.3L940 321.1L940.7 342L940.9 342.2L941 341.9L941.1 339.9L941.6 316.7L942 325L942.3 312.4L943.1 339.7L943.5 305L943.8 323.7L944 318L944.4 340.8L944.6 340.1L945 345.6L945.7 337.9L946 345.3L946.8 338.2L947.5 349.4L948 303.1L948.3 299.9L948.9 316.3L949.3 314.3L949.8 288.1L950 292.3L950.2 290.2L950.8 305L951.2 302.7L951.5 303.7L951.8 319.5L952 309.7L952.3 319L952.9 296.4L953.1 304.8L953.2 306L953.4 303.8L953.7 309.4L953.8 310.3L953.9 309.2L954.1 318.6L954.6 305.4L954.7 306.7L954.9 305.4L955 291.5L955.5 306L955.8 304.3L956.1 307.2L956.5 303.7L956.8 304.5L957.1 304L957.5 314.2L957.8 293.9L958.1 313.7L958.3 312.3L958.4 315.8L958.7 294L958.8 311.2L959.2 297.8L959.9 306.3L960.3 317.9L960.5 315.5L960.7 321.4L961.9 292.6L962.7 321.1L963.3 291.1L963.7 324.9L964 304.8L964.2 310.1L964.5 300.5L964.6 305L964.9 300L965.4 304.5L965.5 298.4L966.1 312.1L966.9 299.9L967.3 307.2L967.5 295.6L967.7 301.4L968.4 304.3L968.6 315.4L968.8 301.2L969 300L969.4 305.7L969.6 301.8L969.9 317.4L970.3 292.5L970.6 302.9L971 301.7L971.4 305L971.7 302.9L972 303.7L972.3 301.8L972.7 305.2L973 302L973.3 303.1L973.6 302L973.8 310.8L974.2 296.8L974.8 313.6L975 298.4L975.7 306.4L976 296.1L976.3 304.4L976.6 301.6L977 303.9L977.3 304.6L977.5 304L977.6 304.4L978 321.9L978.4 299.9L979 314.1L979.2 307.1L979.4 315.3L979.6 313L980 287L980.1 293.5L980.2 289.7L980.5 317.4L981.1 291L981.4 311.5L981.7 293.1L982 302.4L982.3 297.3L982.4 309.5L982.6 294.5L983.1 321.8L983.3 309.5L983.5 308.7L983.7 312.7L983.9 308.3L984.1 312.3L984.6 284.8L985.1 325.9L985.5 315.8L985.8 312.3L985.9 313.5L986.2 282.2L986.5 324.8L986.9 289.4L987.6 321.2L987.8 312.1L988.1 316.6L988.4 311.8L988.6 319.5L988.8 312.6L989.2 327.8L989.6 302.3L989.8 309.3L989.9 304L990.1 315.7L990.3 302.3L990.7 309.9L990.8 283.5L991.2 325.5L991.5 312.4L991.7 323.7L991.8 305.4L992.1 308.7L992.2 302.3L992.9 315L993.1 283.3L993.4 328.5L993.8 287.1L994.4 303.3L994.7 304.4L995.5 302.8L995.8 303.7L996.2 302.9L996.3 303.8L996.5 317.5L996.6 318.7L996.8 317.6L997 322.4L997.6 287.4L998.4 331.1L998.8 301.5L999.3 323L999.6 299.3L999.8 323.8L1000 304.4L1000.2 331.7L1000.8 285.1L1001.4 313.5L1001.7 297.1L1002.4 338.6L1002.5 331.6L1002.6 334.4L1002.9 330.3L1003.1 333.1L1003.4 327.1L1003.7 326.2L1004.1 335L1004.4 327L1004.5 326.7L1004.7 327.2L1004.8 326.9L1004.9 323.7L1005.1 325.4L1005.2 324.5L1005.4 325.9L1005.5 325.4L1005.7 316.4L1005.9 317.6L1006.2 317.3L1006.5 315.9L1006.8 323.6L1007.1 316.9L1007.5 323L1008.1 313.6L1008.5 323.5L1009.2 317.8L1009.4 334.4L1009.7 320.6L1009.9 318.8L1010.4 324.3L1010.9 299.1L1011.2 320.1L1011.4 302.5L1011.6 312.7L1011.8 286.9L1012.3 332.9L1013 289.1L1013.6 323.6L1013.8 299.5L1014 323.3L1014.2 294L1014.5 313.4L1014.9 302.7L1015.1 309.5L1015.4 309.2L1015.7 309.5L1016 310.8L1016.2 309.4L1016.5 311L1016.9 327.4L1017.5 319.2L1017.9 335.3L1018.5 301.8L1019 347.4L1019.4 337.5L1020.3 359.1L1021 333.6L1021.4 341.6L1021.6 327.4L1022.5 358.2L1023 320.1L1023.2 341L1023.4 335.6L1023.9 358.2L1024.4 363L1025.1 352.9L1025.4 361.7L1025.9 360.3L1026.2 356.3L1026.9 365.6L1027.4 317.5L1027.7 313.3L1028.3 331.5L1028.7 329.5L1029.2 304.6L1029.4 308.1L1029.6 305.2L1030.2 322L1030.6 323.1L1030.9 321.3L1031.2 337L1031.4 327.5L1031.7 336.9L1031.9 331.6L1032.1 314.9L1032.6 324.4L1032.8 322.6L1033.1 326.1L1033.3 324.1L1033.5 334.5L1034 324L1034.1 325L1034.3 323.1L1034.4 309.4L1034.8 320.7L1035.5 323.8L1035.9 322.7L1036.2 323.7L1036.5 321.8L1036.9 332.2L1037.2 310.6L1037.5 333.4L1037.7 330.4L1037.8 333L1038.1 310.1L1038.2 327.6L1038.6 317.7L1039.3 324.7L1039.7 335.2L1039.9 331.9L1040.1 337.5L1040.5 330.4L1040.7 316.3L1040.9 321.6L1041 312.1L1041.2 313.4L1041.3 311.1L1042.1 338L1042.7 310.3L1043.1 342.1L1043.4 321.8L1043.6 327.2L1043.9 318.7L1044 324.5L1044.5 318L1044.8 321.2L1044.9 315L1045.5 330.9L1046.3 317.7L1046.7 326.7L1047 316.4L1047.1 322.3L1047.4 321.4L1047.8 324.2L1048 334.2L1048.2 319.7L1048.4 318.9L1048.4 319.3L1048.8 327.5L1049 320.6L1049.3 336.4L1049.8 310.6L1050.1 321.5L1050.4 321.6L1050.8 323.5L1051.1 323.8L1051.4 321.8L1051.7 321.8L1052.1 324.2L1052.4 321L1053 322.6L1053.2 332L1053.6 316.9L1054.2 332.7L1054.4 318.1L1055.1 326.8L1055.3 318L1055.5 323.2L1056 320.8L1056.4 324.5L1056.7 321.2L1056.9 321.5L1057.4 341.6L1057.8 321.3L1058.4 336.8L1058.7 327.2L1058.8 333.9L1059.3 309L1059.5 313.4L1059.6 307.1L1059.9 336.3L1060.4 309.4L1060.8 332.9L1061.1 314.6L1061.4 324.3L1061.7 319L1061.8 331L1062 316L1062.5 340.4L1062.7 327.3L1063.1 333.3L1063.2 328.9L1063.5 333.1L1063.9 306L1064.6 346.5L1064.9 335.9L1065.2 332.9L1065.3 334L1065.5 302.9L1065.9 342.7L1066.2 308.4L1067 341.7L1067.2 331.1L1067.6 336.2L1067.7 331L1067.9 338.2L1068.2 332.6L1068.5 346L1069 322.7L1069.5 333.9L1069.7 321.8L1070.1 330.2L1070.3 301L1070.6 345.8L1070.9 330.2L1071.1 342.4L1071.2 325L1071.5 329.5L1071.7 324.1L1072.3 334.1L1072.5 303.8L1072.8 347.2L1073.3 305.1L1073.8 322.6L1074 323.7L1074.2 322.7L1074.6 325.5L1074.9 324.1L1075.7 325.6L1075.9 338.2L1076 338.9L1076.2 337.3L1076.4 340.8L1077 308.1L1077.9 351.2L1078.2 320.2L1078.7 342.3L1078.9 318.6L1079.2 345.1L1079.4 322.6L1079.6 347.6L1080.2 303.4L1080.8 333.6L1081.1 317.3L1081.7 355.2L1081.9 348.4L1082 353.3L1082.3 351L1082.5 353.3L1082.8 344.8L1083.2 346.2L1083.4 353.8L1083.6 348.7L1084.3 343.7L1084.5 345.9L1084.6 345.2L1084.9 346.2L1085.1 338.8L1085.2 339.6L1085.5 336.4L1085.6 336.8L1085.8 336.3L1085.9 335.3L1086.2 342.4L1086.5 337L1086.9 341.3L1087.5 334.6L1087.9 342.8L1088.5 334.8L1088.9 353.1L1089.3 340.1L1089.8 347.4L1090.4 320.2L1090.6 341.6L1090.8 325.3L1091 335.8L1091.2 309.8L1091.8 351.8L1092.4 309.5L1093 343.2L1093.2 319.9L1093.4 343.4L1093.7 313L1093.9 332.4L1094.3 322.2L1094.6 328.5L1094.8 329.3L1095.4 327.7L1096 332.4L1096.3 345.7L1096.9 339.2L1097.3 354L1097.8 319.6L1098.4 366.7L1098.8 354.7L1099.4 372.6L1099.5 375.3L1099.7 374.3L1099.8 375.3L1100.4 351.9L1100.8 359.3L1101 345.8L1101.9 374.9L1102.4 339.1L1102.6 357.3L1102.8 350.9L1103.3 376.3L1103.4 375.8L1103.5 376.1L1103.8 379.3L1104.5 370.8L1104.8 379.3L1105.6 374.9L1106.3 383.6L1106.8 337.4L1107.1 333.6L1107.6 349.3L1107.8 349.7L1108 348.5L1108.6 320L1108.8 323.4L1109 320.4L1109.6 337.9L1110.3 340.1L1110.6 357L1110.9 347.1L1111.1 358.1L1111.5 334.4L1111.6 336.3L1111.7 334.5L1112 344.8L1112.2 343.1L1112.5 347.4L1112.7 345.8L1112.9 357.2L1113.4 343.9L1113.5 344.5L1113.6 342.5L1113.7 343.2L1113.8 329.1L1114.2 343.8L1114.6 344.2L1114.9 342.6L1115.3 344.7L1115.6 342.1L1115.9 342.5L1116 350.8L1116.2 348.7L1116.4 353.4L1116.6 333.2L1117.2 357.1L1117.5 332.6L1117.6 350.9L1118 338L1119.1 358.2L1119.3 353.6L1119.5 360.8L1119.9 352.9L1120.1 338L1120.3 344L1120.4 333.9L1120.6 335.5L1120.7 333.1L1121.5 360.9L1122.1 328L1122.5 364.8L1122.8 344.7L1123 351.1L1123.3 341.2L1123.4 346.1L1123.9 338L1124.2 344.6L1124.3 338L1124.9 352.3L1125 347.8L1125.2 348.7L1125.5 345.9L1125.7 338.4L1126.1 346.7L1126.3 334.8L1126.5 341.5L1127.2 344L1127.4 353.3L1127.6 338.4L1128.2 348.8L1128.4 343.4L1128.7 359.9L1129.2 332.1L1129.5 344.2L1129.8 341.4L1130.2 344.1L1130.8 342.5L1131.1 342.9L1131.8 340.9L1132.4 342.2L1132.6 352.3L1133 337.2L1133.6 355.4L1133.8 338.2L1134.5 346.3L1134.7 335.6L1135.1 344.5L1135.8 341.6L1136.1 344.6L1136.4 342.8L1136.8 365.5L1137.2 342.1L1137.8 357.2L1138 348.8L1138.2 356.8L1138.4 352.7L1138.8 325L1138.9 331.9L1139 327.5L1139.3 358.9L1139.8 327.8L1140.2 352.9L1140.5 334.2L1140.8 343.5L1141.1 338L1141.2 351.4L1141.4 335.5L1141.9 362.2L1142.1 350L1142.4 355.3L1142.7 347.9L1142.9 352.1L1143.3 324.3L1144 369.1L1144.3 355.8L1144.5 354L1144.7 356.3L1145 321.3L1145.3 366.4L1145.7 327.8L1146.4 362.1L1146.6 352.5L1147 359.8L1147.1 353.6L1147.3 360.2L1147.6 354.5L1147.8 369.5L1148.4 343.1L1148.9 357.2L1149.1 342.8L1149.5 350.1L1149.7 319.8L1150 367.4L1150.3 350.9L1150.5 362.8L1150.6 342.9L1150.9 348.7L1151.1 344.3L1151.7 357.6L1151.9 322.9L1152.2 368.6L1152.6 327.7L1153.3 345.7L1154 344.4L1154.3 346.8L1154.6 344.6L1155.1 345.1L1155.3 358.7L1155.8 364.1L1156.5 327.8L1157.3 374.9L1157.6 343.1L1158.1 365.1L1158.3 341.6L1158.6 369L1158.8 345L1159 371.9L1159.5 325.9L1160.2 356.3L1160.5 339.3L1161.2 380.4L1161.3 373L1161.4 377.3L1161.7 374.8L1161.9 378.7L1162.2 370.5L1162.5 369.3L1162.8 379.3L1163 374.3L1163.3 372.8L1163.5 373.4L1163.6 373L1163.7 369.9L1164.2 372.9L1164.5 362.1L1164.7 362.7L1165.3 359.2L1165.6 366.9L1165.9 360.8L1166.3 368.2L1166.9 360.7L1167.3 368.1L1167.9 360.9L1168.2 380L1168.5 366.1L1168.7 364.4L1169.2 371.1L1169.8 342.9L1170 365.1L1170.2 346.1L1170.4 359.1L1170.6 331.9L1171.2 379.2L1171.8 332.7L1172.4 371.3L1172.6 346.5L1172.8 369.9L1173 337.5L1173.3 358L1173.7 347.2L1173.9 354.4L1174.2 352.7L1174.5 356.2L1174.8 354.8L1175 356.1L1175.7 374L1176.3 366.6L1176.7 384.6L1177.3 348.3L1177.8 398.8L1178.1 384.5L1178.9 407.6L1179.2 408.3L1179.8 381.9L1180.1 390.6L1180.5 375.6L1181.3 407.1L1181.7 369.9L1182.6 410.2L1182.7 410.9L1182.8 409.9L1182.9 410.4L1183.2 415.3L1183.9 407.4L1184.2 416.3L1184.4 413.9L1184.7 415.5L1185.1 411.2L1185.6 415.5L1185.8 413.8L1186.2 367.3L1186.5 365.1L1187.2 382.2L1187.6 375.7L1188 350.9L1188.2 354.6L1188.4 351.5L1189 366.1L1189.4 368.2L1189.7 366.9L1190 389.4L1190.3 378.1L1190.5 392.5L1190.9 357.9L1191 358.7L1191.2 355.9L1191.2 367.8L1191.4 369.6L1191.5 365.2L1191.8 374.6L1191.9 372.9L1192.1 374.5L1192.3 388.6L1193 368.5L1193.2 350.4L1193.5 366.6L1193.9 368.4L1195.3 367.4L1195.4 378.8L1195.6 374.7L1195.7 381L1196 351.4L1196.3 381.2L1196.5 379.8L1196.6 384.4L1196.9 351.2L1197.1 376.8L1197.4 357.2L1198.4 386.5L1198.6 382.3L1198.8 389.7L1199 380L1199.2 382L1199.3 381L1199.5 356.2L1199.7 365L1199.8 351.2L1200 354.3L1200.1 349.5L1200.9 389.1L1201.5 345.2L1201.9 391.2L1202.1 363.1L1202.4 373.9L1202.6 356.9L1202.8 366L1203.3 354.5L1203.6 364.4L1203.7 353.5L1204.3 376.8L1204.4 369.1L1204.7 365.5L1204.9 364.9L1205 365.9L1205.1 355.8L1205.5 370.3L1205.6 352.1L1205.8 359.4L1206.5 362.3L1206.7 378L1207 356.8L1207.6 368.1L1207.8 360.1L1208.1 383.6L1208.5 347L1208.9 361.4L1209.3 361.7L1211.7 361.7L1212 376L1212.4 353.7L1213 379.1L1213.3 356.8L1213.9 368.2L1214.2 353.1L1214.3 362.1L1215.2 362.8L1215.8 362.3L1216.2 391.5L1216.5 360.6L1217.2 382.8L1217.4 370.5L1217.6 381.2L1217.8 377.1L1218.1 342.6L1218.3 348L1218.4 342.8L1218.7 383.7L1219.2 344.5L1219.6 376.8L1219.9 350.7L1220.2 363.8L1220.4 355.6L1220.6 374.2L1220.7 354L1221.3 387.6L1221.6 372.3L1221.9 379.9L1222.1 372.3L1222.3 378.2L1222.7 340.8L1223.4 395.4L1224.1 377.3L1224.4 338.3L1224.7 392.1L1225.2 343.9L1225.8 388.2L1226 378.2L1226.4 384.1L1226.5 377.4L1226.8 386.7L1227 380.5L1227.3 397.1L1227.8 364L1228 372.6L1228.1 366.8L1228.3 381.5L1228.5 362.1L1228.8 375.4L1229 338.8L1229.4 391.8L1229.7 377.7L1229.9 390.7L1230 364.2L1230.3 372.3L1230.5 363.7L1231.1 382.7L1231.4 341.3L1231.7 398.8L1232.1 341.7L1232.7 366.2L1232.9 367.1L1233.8 367.6L1234.2 368.6L1234.5 368.5L1234.7 387.1L1235.2 395.4L1235.9 347.2L1236.6 405.1L1237 366.4L1237.5 396.3L1237.7 363.4L1238 399.4L1238.2 369.5L1238.4 405.4L1238.9 346L1239.7 385.7L1239.9 362.5L1240.6 419.6L1240.7 413.4L1240.8 416.3L1241.1 414.8L1241.3 417.8L1241.6 410.3L1242 411.7L1242.2 420.8L1243.2 410.9L1243.3 414.3L1243.4 413.3L1243.7 415.2L1243.9 401.7L1244 401.1L1244.1 402.1L1244.3 399.2L1244.5 399.7L1244.7 398.6L1245 413.8L1245.3 404.2L1245.7 413.9L1246.3 402.3L1246.7 415.1L1247.4 403.8L1247.7 430.4L1248.1 412.6L1248.6 423.3L1249.2 380.7L1249.4 416.2L1249.5 386L1249.8 403.4L1250 368.1L1250.6 428.5L1251.1 371L1251.7 421.7L1251.9 382.5L1252.2 420.9L1252.5 374.6L1252.7 403.2L1252.8 392.7L1253 400.5L1253.1 387.3L1253.3 398.2L1253.8 399.4L1254.4 399.8L1255.1 426.6L1255.5 418.8L1255.6 418.1L1255.7 420.2L1256 439L1256.4 401.7L1256.9 420.3L1257.7 433.2L1258.5 426.6L1258.9 414.9L1260.2 467.8L1261.5 438.8L1263.7 532.4L1266.2 403L1267.2 436.9L1268.1 394.5L1269.1 417.1L1269.4 431.8L1269.7 423.9L1269.9 435.8L1270.5 408.1L1270.6 416.3L1270.8 418.3L1270.9 415.1L1271.2 421.1L1271.4 422.8L1271.6 420.9L1271.7 433.2L1271.9 430.8L1272 431.4L1272.2 420L1272.3 423.1L1272.4 419.9L1272.5 421.8L1272.7 405.8L1272.9 417.8L1273.2 418.4L1274.7 418.8L1274.9 429.4L1275 424.7L1275.2 429.5L1275.4 408.2L1275.7 429.2L1275.8 430.6L1275.8 428L1276 433.5L1276.3 408.8L1276.5 427.5L1276.8 413.3L1277.3 419.7L1277.8 437L1278.1 434.5L1278.2 442.2L1278.4 435.1L1278.5 437.2L1278.7 436.4L1279 416L1279.1 423.6L1279.2 412.7L1279.3 415.5L1279.6 409.4L1280.3 443L1281 406.4L1281.4 448.2L1281.5 426.8L1281.8 433.1L1282 420.8L1282.2 426.2L1282.7 416.5L1283 424.1L1283.1 417L1283.2 422L1283.5 422.1L1283.7 432.9L1283.7 427.9L1283.9 427.4L1284 428.1L1284.3 425.2L1284.4 426.3L1284.5 419.9L1284.9 429.4L1285.1 416.9L1285.2 420.7L1285.9 422.7L1286.1 435.3L1286.4 420.5L1287 427.4L1287.2 422.8L1287.5 441.5L1288 412.8L1288.1 422L1288.4 422.7L1291.1 422.8L1291.3 433.8L1291.8 418.1L1291.9 421.7L1292.1 422.5L1292.2 422L1292.4 436.8L1292.7 420.5L1293.3 427.9L1293.5 418.2L1293.8 422.8L1295.2 423.1L1295.6 452.3L1295.9 427.2L1296.6 444.8L1296.9 435.6L1296.9 443.3L1297.1 440.8L1297.2 442.6L1297.5 411.1L1297.7 414.6L1297.8 408.9L1298.1 442.8L1298.3 441L1298.4 443.4L1298.7 409.3L1299 435.8L1299.4 419.3L1299.6 427.6L1299.8 419L1300 434.5L1300.1 419.9L1300.7 449L1301 436.7L1301.3 441.9L1301.4 437.5L1301.7 441.6L1302 409.1L1302.8 461.1L1303.2 450.5L1303.5 446.9L1303.6 450.2L1303.8 410.4L1304 455.5L1304.6 412.4L1305.2 451.5L1305.5 443.2L1305.8 451.1L1305.9 446.4L1306.2 454.4L1306.4 451.1L1306.9 473.4L1307.2 443.2L1307.5 441.2L1307.7 452.2L1307.9 438.6L1308.2 445.9L1308.5 406L1308.8 458.8L1308.9 453.2L1309 461.3L1309.1 450.3L1309.3 463L1309.4 439L1309.7 445.6L1309.8 439.7L1310.1 440.9L1310.5 451.3L1310.8 409.3L1311.1 465.9L1311.6 411.7L1312.1 432.4L1312.7 434.2L1313.9 434.3L1314.6 461.3L1315.3 416.7L1316.1 477.9L1316.5 439.8L1316.9 464.9L1317.1 433.1L1317.3 466.5L1317.6 439.6L1317.9 472.5L1318.4 408.5L1319.1 445.2L1319.4 430.4L1319.9 492.8L1320.1 487.9L1320.2 488.9L1320.5 486.8L1320.8 490.3L1321.1 478.8L1321.4 479L1321.6 489L1322.6 476.6L1322.7 479L1322.8 477.6L1323.1 479L1323.3 466.4L1323.5 467.2L1324.1 462L1324.4 473.1L1324.7 466L1325.1 473.4L1325.7 464.7L1326.1 474.2L1326.8 467L1327.1 492.1L1327.5 475.8L1328 485.4L1328.6 446.8L1328.8 471.7L1328.9 449.8L1329.2 461.9L1329.5 422.5L1329.9 481.9L1330.5 432L1331.1 473.5L1331.4 436.8L1331.6 480.8L1331.9 426.8L1332 459.5L1332.5 438.6L1332.7 451.1L1333.8 451.3L1334.2 455.8L1334.5 480.1L1334.9 473.1L1335 472.4L1335.2 474.2L1335.4 501L1336 450L1336.6 536.6L1337 510.2L1338 577.8L1338.6 516.4L1338.6 513.3L1339 524.9L1339.3 504.6L1340.1 573.2L1340.6 499.8L1341.9 613.9" stroke="#0a0a0a" stroke-width="2.0"/>
<path d="M157.5 137.5L157.8 154.1L158 143.6L158.3 155.6L158.9 127.1L159.1 137.1L159.2 138.7L159.4 136.5L159.7 142.1L159.9 141.3L160.1 153.8L160.6 138.9L160.7 139.7L160.9 138.2L161 122.3L161.4 137.9L161.6 138.3L163.1 137.9L163.2 146.9L163.4 144L163.6 148.4L163.8 124.6L164.1 148.1L164.3 146.3L164.4 150.4L164.7 123.9L164.8 144.5L165.2 130L165.9 140.5L166.3 153.5L166.5 149.3L166.7 155.4L167.1 147.1L167.3 129.6L167.5 135.9L167.6 124.8L167.8 126.9L167.9 123.8L168.7 155.3L169.3 120.9L169.7 159.4L170 137.3L170.2 144.2L170.5 132.6L170.6 138.4L171.1 130.3L171.4 137.1L171.5 130.1L172.1 146.8L172.2 140.8L172.6 139.2L172.7 139.6L172.9 132.4L173.3 142.5L173.5 128.7L173.7 135.3L174.4 137.3L174.6 149.1L174.8 132.6L175.4 141L175.6 135.2L175.9 154.4L176.3 124.3L176.6 136.2L177.1 136.6L179.6 136.4L179.8 147.4L180.2 130.5L180.8 150.1L181.1 131.9L181.7 140.1L181.9 129.3L182.1 136.2L183.5 136.4L184 161L184.4 134.5L185 151.1L185.3 141.2L185.4 150.3L186 117.6L186.1 124.7L186.3 121.1L186.5 153.9L187.1 120.8L187.4 147.2L187.7 126L188 137.5L188.3 131.6L188.4 146.2L188.6 128.2L189.1 156.7L189.3 142.6L189.7 148.9L189.8 142.5L190.1 147.1L190.5 116.2L191.2 163.2L191.5 150.4L191.8 147.5L191.9 149.1L192.2 111.1L192.5 160.2L192.9 118.3L193.6 156.3L193.8 146.3L194.1 153L194.4 147L194.5 155.4L194.8 148.2L195.1 164.1L195.6 136L195.8 144.7L195.9 138L196.1 149.6L196.3 134.4L196.7 144.7L196.9 111.4L197.2 161L197.5 146.3L197.7 159.3L197.8 137.2L198.1 143L198.3 137.1L198.9 150.2L199.1 114.2L199.4 165.5L199.9 116L200.4 135.9L200.9 138L202.3 138.1L202.5 152.9L203 158.9L203.7 118.3L204.5 168.6L204.8 134.1L205.3 159L205.5 131.8L205.8 161.7L206 136.2L206.2 166.4L206.8 111.8L207.4 147L207.7 128.5L208.4 174.7L208.5 166.4L208.6 170.7L208.9 167.2L209.1 170.7L209.4 161.4L209.7 160.8L210 171L210.2 165.1L210.9 158.2L211.1 160.3L211.2 159.6L211.5 161.1L211.7 150.9L211.8 151.7L212.1 148.8L212.2 149.2L212.5 148.2L212.8 158.5L213.1 151.1L213.5 157.4L214.1 149L214.5 158.1L215.1 149.5L215.5 170.8L215.9 154.7L216.4 162.5L217 130.7L217.2 156.3L217.4 135.9L217.6 148.6L217.8 117.6L218.3 169.5L219 121.5L219.6 162.2L219.8 133.6L220 160.7L220.3 124.2L220.5 147.1L220.9 135.1L221.1 142.3L221.2 142.7L222.2 142.9L222.9 162.8L223.5 154.9L223.9 172.6L224.5 131.9L225 186.4L225.3 171.2L226.1 196.7L226.4 197.2L227 166.7L227.4 176.1L227.7 161.7L228.5 194.2L229 152.1L229.2 175.7L229.4 169.3L229.8 196.3L229.9 197.2L230.1 196.4L230.4 200.6L231.1 192.2L231.4 201.1L231.7 198.8L231.9 199.6L232.2 195.3L232.9 208.3L233.4 153.4L233.7 149.1L234.3 169.1L234.7 166.9L235.2 138L235.4 142.1L235.6 138.3L236.2 156.2L236.9 157.7L237.2 175.5L237.5 166.4L237.7 177L238.1 151L238.2 152.9L238.3 151L238.6 161.3L238.8 159.2L239.1 164.3L239.3 163.6L239.5 175.1L240 161.4L240.1 162.1L240.3 160.7L240.4 146L240.8 160.3L241 160.7L242.5 160.3L242.9 170L243.2 147.9L243.5 169.6L243.7 167.9L243.8 171.8L244.1 147.2L244.2 166.3L244.6 152.8L245.3 162.5L245.7 174.5L245.9 170.6L246 176.3L246.3 169.6L246.4 170.6L246.5 169.7L246.7 152.3L246.9 158.1L247 147.8L247.2 149.8L247.3 147.1L248.1 176L248.7 144.1L249.1 179.8L249.4 159.3L249.6 165.7L249.9 154.9L250 160.3L250.5 152.8L250.8 159L250.9 152.5L251.5 168L251.6 162.5L252 161L252.1 161.3L252.3 154.7L252.7 164L252.9 151.2L253.1 157.2L253.8 159L254 170L254.2 154.7L254.8 162.4L255 157.1L255.3 174.8L255.7 146.9L256 157.9L256.5 158.2L259 158L259.2 168.1L259.6 152.4L260.2 170.5L260.5 153.7L261.1 161.3L261.3 151.2L261.5 157.6L262.9 157.7L263.4 180.4L263.8 155.9L264.4 171.2L264.7 162.1L264.8 170.5L265.4 140.2L265.5 146.7L265.7 143.4L265.9 173.8L266.5 143.1L266.8 167.5L267.1 147.8L267.4 158.5L267.7 153L267.8 166.5L268 149.8L268.5 176.2L268.7 163.1L269.1 168.9L269.2 163L269.5 167.2L269.9 138.6L270.6 182.1L270.9 170.2L271.2 167.5L271.3 169L271.6 133.8L271.9 179.2L272.3 140.4L273 175.6L273.2 166.3L273.5 172.4L273.8 166.9L273.9 174.6L274.2 168L274.5 182.7L275 156.6L275.2 164.7L275.3 158.4L275.5 169.3L275.7 155.1L276.1 164.6L276.3 133.8L276.6 179.7L276.9 166.1L277.1 178.1L277.2 157.6L277.5 163L277.7 157.5L278.3 169.6L278.5 136.3L278.8 183.8L279.2 138.3L279.8 156.3L280.3 158.2L281.7 158.2L281.9 171.9L282.4 177.4L283.1 139.7L283.8 186.3L284.2 154.3L284.7 177.4L284.9 152.2L285.2 179.9L285.4 156.2L285.6 184.2L286.2 133.5L286.8 166.2L287.1 149L287.8 191.8L287.9 184.1L288 188.1L288.3 184.7L288.5 188L288.8 179.3L289.1 178.8L289.4 188.2L289.6 182.8L290.3 176.3L290.5 178.3L290.6 177.6L290.9 179L291.1 169.5L291.2 170.3L291.5 167.5L291.6 167.9L291.9 167L292.2 176.5L292.5 169.6L292.9 175.4L293.5 167.6L293.9 176L294.5 168L294.9 187.7L295.3 172.8L295.8 179.9L296.4 150.5L296.6 174.1L296.8 155.2L297 167L297.2 138.3L297.7 186.4L298.4 141.8L299 179.5L299.2 153L299.4 178.1L299.7 144.3L299.9 165.4L300.3 154.3L300.5 160.9L300.6 161.4L301.6 161.5L302.3 179.9L302.9 172.5L303.3 188.8L303.9 151.2L304.4 201.6L304.7 187.5L305.5 211L305.8 211.5L306.4 183.2L306.8 191.9L307.1 178.5L307.9 208.6L308.4 169.6L308.6 191.4L308.8 185.5L309.2 210.4L309.3 211.3L309.5 210.5L309.8 214.4L310.5 206.6L310.8 214.8L311.1 212.7L311.3 213.4L311.6 209.4L312.3 221.4L312.8 170.5L313.1 166.5L313.7 185L314.1 183L314.6 156.2L314.8 159.9L315 156.4L315.6 172.9L316.4 174.8L316.6 189.6L316.9 180.5L317.1 190.9L317.5 164.9L317.6 166.9L317.7 164.9L318 175.2L318.2 173.1L318.5 178.2L318.7 177.4L318.9 189L319.4 175.2L319.5 175.9L319.7 174.5L319.8 159.8L320.2 174.1L320.4 174.4L321.9 173.9L322.3 183.6L322.6 161.5L322.9 183.2L323.1 181.5L323.2 185.3L323.5 160.7L323.6 179.8L324 166.3L324.7 176L325.1 187.9L325.3 184L325.4 189.7L325.7 183L325.8 183.9L325.9 183L326.1 165.6L326.3 171.4L326.4 161.1L326.6 163.1L326.7 160.4L327.5 189.2L328.1 157.3L328.5 192.9L328.8 172.4L329 178.8L329.3 168L329.4 173.4L329.9 165.8L330.2 172L330.3 165.5L330.9 180.9L331 175.4L331.4 173.9L331.5 174.2L331.7 167.5L332.1 176.8L332.3 164L332.5 170.1L333.2 171.8L333.4 182.7L333.6 167.4L334.2 175.1L334.4 169.8L334.7 187.5L335.1 159.5L335.4 170.6L335.9 170.8L338.4 170.4L338.6 180.5L339 164.8L339.6 182.8L339.9 165.9L340.5 173.5L340.7 163.4L340.9 169.8L342.3 169.8L342.8 192.5L343.2 167.9L343.8 183.2L344.1 174L344.2 182.4L344.8 152.1L344.9 158.6L345.1 155.3L345.3 185.6L345.9 154.9L346.2 179.3L346.5 159.6L346.8 170.2L347.1 164.8L347.2 178.3L347.4 161.6L347.9 187.9L348.1 174.8L348.5 180.5L348.6 174.6L348.9 178.8L349.3 150.2L350 193.6L350.3 181.7L350.6 179L350.7 180.5L351 145.2L351.3 190.6L351.7 151.8L352.4 186.9L352.6 177.6L352.9 183.7L353.2 178.2L353.3 185.9L353.6 179.3L353.9 193.9L354.4 167.8L354.6 175.9L354.7 169.6L354.9 180.4L355.1 166.2L355.5 175.7L355.7 144.9L356 190.8L356.3 177.2L356.5 189.3L356.6 168.7L356.9 174.2L357.1 168.7L357.7 180.9L357.9 147.6L358.2 195.1L358.7 149.2L359.2 167.7L359.7 169.7L361.1 169.9L361.3 183.6L361.8 189.1L362.5 151.5L363.3 198.2L363.6 166.2L364.1 189.3L364.3 164.2L364.6 191.9L364.8 168.3L365 196.2L365.6 145.7L366.2 178.4L366.5 161.3L367.2 204.1L367.3 196.4L367.4 200.4L367.7 197.1L367.9 200.4L368.2 191.7L368.5 191.2L368.8 200.7L369 195.3L369.7 188.9L369.9 190.9L370 190.2L370.3 191.6L370.5 182.2L370.6 182.9L370.9 180.3L371 180.6L371.3 179.7L371.6 189.3L371.9 182.5L372.3 188.3L372.9 180.6L373.3 189L373.9 181.1L374.3 200.8L374.7 185.9L375.2 193.1L375.8 163.8L376 187.4L376.2 168.5L376.4 180.3L376.6 151.6L377.1 199.8L377.8 155.3L378.4 193.1L378.6 166.6L378.8 191.7L379.1 157.9L379.3 179.1L379.7 168L379.9 174.7L380 175.1L381 175.3L381.7 193.8L382.3 186.5L382.7 202.9L383.3 165.3L383.8 215.7L384.1 201.6L384.9 225.3L385.2 225.8L385.8 197.6L386.2 206.4L386.5 193L387.3 223.1L387.8 184.2L388 206L388.2 200.1L388.6 225.1L388.7 226L388.9 225.2L389.2 229.2L389.9 221.4L390.2 229.6L390.5 227.6L390.7 228.3L391 224.3L391.7 236.4L392.2 185.6L392.5 181.6L393.1 200.2L393.5 198.2L394 171.4L394.2 175.2L394.4 171.8L395 188.3L395.7 189.7L395.7 187.8L396 204.6L396.3 194.6L396.5 206.2L396.9 177.6L397 179.7L397.1 177.6L397.4 188.9L397.6 186.6L397.9 192.3L398.1 191.5L398.3 204.2L398.8 189.1L398.9 189.8L399.1 188.3L399.2 172.1L399.6 187.9L399.8 188.3L401.3 187.9L401.7 198.6L402 174.3L402.3 198.2L402.5 196.3L402.6 200.6L402.9 173.5L403 194.5L403.4 179.7L404.1 190.4L404.5 203.6L404.7 199.3L404.8 205.6L405.1 198.2L405.2 199.3L405.3 198.3L405.5 179.2L405.7 185.6L405.8 174.3L406 176.4L406.1 173.5L406.9 205.3L407.5 170.2L407.9 209.5L408.2 186.9L408.4 193.9L408.7 182.1L408.8 188.1L409.3 179.7L409.6 186.6L409.7 179.5L410.3 196.5L410.4 190.4L410.5 190.8L410.9 189.1L411.1 181.8L411.5 192.1L411.7 178L411.9 184.7L412.6 186.7L412.8 198.7L413 181.9L413.6 190.4L413.8 184.5L414.1 204.1L414.5 173.3L414.8 185.5L415.3 185.8L417.8 185.6L418 196.7L418.4 179.5L419 199.4L419.3 180.9L419.9 189.3L420.1 178.2L420.3 185.2L421.7 185.4L422.2 210.4L422.6 183.4L423.2 200.3L423.5 190.2L423.6 199.4L424.2 166.1L424.3 173.3L424.5 169.7L424.7 203.1L425.3 169.3L425.6 196.2L425.9 174.5L426.2 186.3L426.5 180.3L426.6 195.2L426.8 176.8L427.3 205.8L427.5 191.4L427.9 197.8L428 191.3L428.3 195.9L428.7 164.5L429.4 212.3L429.7 199.3L430 196.2L430.1 197.9L430.4 159.2L430.7 209.1L431.1 166.5L431.8 205.2L432 194.9L432.3 201.7L432.6 195.6L432.7 204.1L433 196.9L433.3 213L433.8 184.4L434 193.2L434.1 186.3L434.3 198.2L434.5 182.7L434.9 193.2L435.1 159.3L435.4 209.7L435.7 194.8L435.9 208.1L436 185.5L436.3 191.5L436.5 185.4L437.1 198.8L437.3 162.1L437.6 214.4L438.1 163.9L438.6 184.3L439.1 186.4L440.5 186.6L440.7 201.6L441.2 207.7L441.9 166.3L442.7 217.6L443 182.4L443.5 207.8L443.7 180.2L444 210.6L444.2 184.6L444.4 215.4L445 159.7L445.6 195.7L445.9 176.8L446.6 223.9L446.7 215.4L446.8 219.8L447.1 216.2L447.3 219.8L447.6 210.3L447.9 209.7L448.2 220.1L448.4 214.2L449.1 207.1L449.3 209.3L449.4 208.5L449.7 210.1L449.9 199.7L450 200.5L450.3 197.5L450.4 197.9L450.7 196.9L451 207.5L451.3 199.9L451.7 206.3L452.3 197.8L452.7 207.1L453.3 198.3L453.7 220L454.1 203.6L454.6 211.5L455.2 179.2L455.4 205.2L455.6 184.4L455.8 197.4L456 165.8L456.5 218.7L457.2 169.8L457.8 211.3L458 182.2L458.2 209.8L458.5 172.6L458.7 195.9L459.1 183.7L459.3 191L459.4 191.5L460.4 191.7L461.1 212L461.7 204L462.1 221.9L462.7 180.5L463.2 236L463.5 220.5L464.3 246.5L464.6 247L465.2 216L465.6 225.6L465.9 210.9L466.7 244L467.2 201.1L467.4 225.1L467.6 218.6L468 246.1L468.1 247.1L468.3 246.2L468.6 250.6L469.3 242L469.6 251L469.9 248.8L470.1 249.5L470.4 245.1L471.1 258.4L471.6 202.5L471.9 198.1L472.5 218.5L472.9 216.3L473.4 186.9L473.6 191L473.8 187.2L474.4 205.4L475.2 207.5L475.4 222.2L475.7 213.1L475.9 223.7L476.3 197.7L476.4 199.6L476.5 197.7L476.8 208L477 205.9L477.3 211.1L477.5 210.3L477.7 221.9L478.2 208.1L478.3 208.8L478.5 207.4L478.6 192.7L479 207.1L479.2 207.4L480.7 207.1L481.1 216.8L481.4 194.8L481.7 216.4L481.9 214.7L482 218.6L482.3 194L482.4 213.1L482.8 199.6L483.5 209.4L483.9 221.4L484.1 217.5L484.2 223.2L484.5 216.5L484.6 217.5L484.7 216.5L484.9 199.2L485.1 205L485.2 194.7L485.4 196.7L485.5 194L486.3 222.9L486.9 191L487.3 226.7L487.6 206.2L487.8 212.6L488.1 201.8L488.2 207.3L488.7 199.7L489 206L489.1 199.5L489.7 214.9L489.8 209.4L490.2 207.9L490.3 208.2L490.5 201.6L490.9 210.9L491.1 198.2L491.3 204.2L492 206L492.2 216.9L492.4 201.7L493 209.4L493.2 204.1L493.5 221.8L493.9 193.9L494.2 205L494.7 205.3L497.2 205.1L497.4 215.2L497.8 199.5L498.4 217.6L498.7 200.8L499.3 208.4L499.5 198.3L499.7 204.7L501.1 204.9L501.6 227.6L502 203.1L502.6 218.4L502.9 209.3L503 217.7L503.6 187.4L503.7 193.9L503.9 190.6L504.1 221L504.7 190.3L505 214.7L505.3 195.1L505.6 205.7L505.9 200.3L506 213.8L506.2 197.1L506.7 223.5L506.9 210.4L507.3 216.2L507.4 210.3L507.7 214.5L508.1 185.9L508.8 229.4L509.1 217.5L509.4 214.8L509.5 216.3L509.8 181.1L510.1 226.5L510.5 187.7L511.2 222.9L511.4 213.6L511.7 219.8L512 214.2L512.1 222L512.4 215.4L512.7 230.1L513.2 204L513.4 212.1L513.5 205.8L513.7 216.6L513.9 202.5L514.3 212L514.5 181.2L514.8 227.1L515.1 213.5L515.3 225.6L515.4 205.1L515.7 210.5L515.9 205L516.5 217.2L516.7 183.8L517 231.3L517.4 185.9L518 204L518.5 205.9L519.9 206L520.1 219.7L520.6 225.2L521.3 187.6L522.1 234.3L522.4 202.3L522.9 225.4L523.1 200.3L523.4 227.9L523.6 204.3L523.8 232.3L524.4 181.7L525 214.3L525.3 197.2L526 240L526.1 232.3L526.2 236.3L526.5 233L526.7 236.3L527 227.6L527.3 227.1L527.6 236.6L527.8 231.2L528.5 224.7L528.7 226.7L528.8 226L529.1 227.5L529.3 218L529.4 218.8L529.7 216.1L529.8 216.4L530.1 215.5L530.4 225.1L530.7 218.2L531.1 224.1L531.7 216.3L532.1 224.7L532.7 216.8L533.1 236.4L533.5 221.6L534 228.8L534.6 199.4L534.8 223L535 204.1L535.2 215.9L535.4 187.2L535.9 235.3L536.6 190.9L537.2 228.6L537.4 202.1L537.6 227.2L537.9 193.4L538.1 214.6L538.5 203.5L538.7 210.1L538.8 210.6L539.8 210.7L540.5 229.2L541.1 221.9L541.5 238.2L542.1 200.6L542.6 251.1L542.9 237L543.7 260.6L544 261.1L544.6 232.8L545 241.6L545.3 228.2L546.1 258.3L546.6 219.4L546.8 241.2L547 235.3L547.4 260.3L547.5 261.1L547.7 260.4L548 264.3L548.7 256.5L549 264.7L549.3 262.7L549.5 263.4L549.8 259.4L550.5 271.4L551 220.6L551.3 216.7L551.9 235.2L552.3 233.2L552.8 206.4L553 210.2L553.2 206.7L553.8 223.3L554.5 224.7L554.6 226.4L554.8 241.1L555.1 232L555.3 242.5L555.7 216.5L555.8 218.5L555.9 216.5L556.2 226.8L556.4 224.8L556.7 229.9L556.9 229.1L557.1 240.7L557.6 226.9L557.7 227.6L557.9 226.2L558 211.6L558.4 225.9L558.6 226.2L560.1 225.8L560.5 235.6L560.8 213.5L561.1 235.2L561.3 233.5L561.4 237.4L561.7 212.8L561.8 231.9L562.2 218.4L562.9 228.1L563.3 240.1L563.5 236.2L563.6 241.9L563.9 235.2L564 236.2L564.1 235.2L564.3 217.9L564.5 223.7L564.6 213.4L564.8 215.4L564.9 212.7L565.7 241.6L566.3 209.7L566.7 245.4L567 224.9L567.2 231.2L567.5 220.5L567.6 225.9L568.1 218.3L568.4 224.6L568.5 218.1L569.1 233.5L569.2 228L569.6 226.5L569.7 226.8L569.9 220.2L570.3 229.5L570.5 216.8L570.7 222.8L571.4 224.6L571.6 235.5L571.8 220.2L572.4 228L572.6 222.6L572.9 240.4L573.3 212.4L573.6 223.5L574.1 223.8L576.6 223.5L576.8 233.6L577.2 218L577.8 236.1L578.1 219.2L578.7 226.9L578.9 216.8L579.1 223.1L580.5 223.3L581 246L581.4 221.5L582 236.8L582.3 227.6L582.4 236.1L583 205.8L583.1 212.3L583.3 209L583.5 239.3L584.1 208.7L584.4 233.1L584.7 213.4L585 224L585.3 218.6L585.4 232.1L585.6 215.4L586.1 241.8L586.3 228.7L586.7 234.5L586.8 228.6L587.1 232.8L587.5 204.2L588.2 247.6L588.5 235.8L588.8 233L588.9 234.6L589.2 199.4L589.5 244.8L589.9 206L590.6 241.2L590.8 231.9L591.1 238L591.4 232.5L591.5 240.2L591.8 233.6L592.1 248.3L592.6 222.2L592.8 230.3L592.9 224L593.1 234.8L593.3 220.7L593.7 230.2L593.9 199.4L594.2 245.3L594.5 231.7L594.7 243.8L594.8 223.3L595.1 228.7L595.3 223.3L595.9 235.5L596.1 202.1L596.4 249.7L596.9 203.8L597.4 222.4L597.9 224.3L599.3 224.6L599.5 238.2L600 243.8L600.7 206.3L601.5 252.9L601.8 221L602.3 244.1L602.5 219L602.8 246.7L603 223.1L603.2 251.1L603.8 200.5L604.4 233.2L604.7 216.1L605.4 259L605.5 251.3L605.6 255.3L605.9 252L606.1 255.3L606.4 246.7L606.7 246.2L607 255.6L607.2 250.2L607.7 247.8L607.9 243.9L608.1 245.9L608.2 245.2L608.5 246.7L608.7 237.2L608.8 238L609.1 235.3L609.2 235.6L609.5 234.8L609.8 244.4L610.1 237.5L610.5 243.4L611.1 235.7L611.5 244.1L612.1 236.2L612.5 255.9L612.9 241.1L613.4 248.3L614 219L614.2 242.6L614.4 223.8L614.6 235.6L614.8 206.9L615.3 255L616 210.6L616.6 248.4L616.8 221.9L617 247L617.3 213.2L617.5 234.4L617.9 223.3L618.1 230L618.2 230.5L619.2 230.7L619.9 249.2L620.5 242L620.9 258.3L621.5 220.7L622 271.2L622.3 257.1L623.1 280.8L623.4 281.4L624 253.1L624.4 261.9L624.7 248.6L625.5 278.7L626 239.8L626.2 261.6L626.4 255.7L626.8 280.8L626.9 281.6L627.1 280.9L627.4 284.9L628.1 277.1L628.4 285.4L628.7 283.3L628.9 284L629.2 280.1L629.9 292.2L630.4 241.4L630.7 237.4L631.3 256L631.7 254L632.2 227.3L632.4 231.1L632.6 227.6L633.2 244.2L633.9 245.7L634.2 263.2L634.5 254.1L634.7 264.6L635.1 238.6L635.2 240.5L635.3 238.6L635.6 248.8L635.8 246.8L636.1 251.9L636.3 251.1L636.5 262.7L637 248.9L637.1 249.6L637.3 248.1L637.4 233.4L637.8 247.8L638 248.1L639.5 247.6L639.9 257.3L640.2 235.2L640.5 256.8L640.7 255.1L640.8 259L641.1 234.4L641.2 253.5L641.6 239.9L642.3 249.6L642.7 261.6L642.9 257.7L643 263.4L643.3 256.7L643.4 257.6L643.5 256.7L643.7 239.3L643.9 245.1L644 234.8L644.2 236.8L644.3 234.1L645.1 262.9L645.7 231L646.1 266.6L646.4 246.1L646.6 252.5L646.9 241.7L647 247.1L647.5 239.5L647.8 245.7L647.9 239.2L648.5 254.6L648.6 249.1L648.7 249.4L649.1 247.9L649.3 241.3L649.7 250.5L649.9 237.8L650.1 243.8L650.8 245.5L651 256.4L651.2 241.2L651.8 248.9L652 243.5L652.3 261.2L652.7 233.2L653 244.3L653.5 244.5L656 244.1L656.2 254.2L656.6 238.5L657.2 256.6L657.5 239.7L658.1 247.3L658.3 237.1L658.5 243.5L659.9 243.6L660.4 266.3L660.8 241.7L661.4 257L661.7 247.8L661.8 256.2L662.4 225.9L662.5 232.4L662.7 229.1L662.9 259.4L663.5 228.7L663.8 253.1L664.1 233.4L664.4 244L664.7 238.5L664.8 252L665 235.3L665.5 261.7L665.7 248.6L666.1 254.3L666.2 248.4L666.5 252.6L666.9 224L667.6 267.4L667.9 255.5L668.2 252.7L668.3 254.3L668.6 219L668.9 264.4L669.3 225.6L670 260.7L670.2 251.4L670.5 257.5L670.8 252L670.9 259.7L671.2 253.1L671.5 267.7L672 241.6L672.2 249.7L672.3 243.4L672.5 254.2L672.7 240L673.1 249.5L673.3 218.7L673.6 264.6L673.9 251L674.1 263L674.2 242.5L674.5 247.9L674.7 242.4L675.3 254.5L675.5 221.1L675.8 268.7L676.2 223.1L676.8 241.2L677.3 243.1L678.7 243.1L678.9 256.8L679.4 262.3L680.1 224.6L680.9 271.2L681.2 239.2L681.7 262.3L681.9 237.1L682.2 264.8L682.4 241.1L682.6 269.1L683.2 218.5L683.8 251.1L684.1 233.9L684.8 276.7L684.9 269L685 273L685.3 269.6L685.5 272.9L685.8 264.2L686.1 263.7L686.4 273.1L686.6 267.7L687.3 261.2L687.5 263.2L687.6 262.5L687.9 263.9L688.1 254.4L688.2 255.2L688.5 252.5L688.6 252.8L688.9 251.9L689.2 261.4L689.5 254.6L689.9 260.4L690.5 252.6L690.9 261L691.5 252.9L691.9 272.6L692.3 257.7L692.8 264.9L693.4 235.4L693.6 259.1L693.8 240.2L694 252L694.2 223.2L694.7 271.3L695.4 226.8L696 264.5L696.2 238L696.4 263.1L696.7 229.2L696.9 250.4L697.3 239.2L697.5 245.9L697.6 246.3L698.6 246.4L699.3 264.9L699.9 257.5L700.3 273.8L700.9 236.1L701.4 286.6L701.7 272.4L702.5 296L702.8 296.5L703.4 268.2L703.8 276.9L704.1 263.5L704.9 293.5L705.4 254.6L705.6 276.4L705.8 270.4L706.2 295.4L706.3 296.3L706.5 295.5L706.8 299.4L707.5 291.6L707.8 299.8L708.1 297.7L708.3 298.4L708.6 294.3L709.3 306.4L709.8 255.5L710.1 251.5L710.7 270L711.1 268L711.6 241.2L711.8 244.9L712 241.4L712.6 257.9L713.3 259.3L713.3 257L713.6 272.4L713.9 263.3L714.1 273.8L714.5 247.9L714.6 249.8L714.7 247.9L715 258.2L715.2 256.2L715.5 261.4L715.7 260.6L715.9 272.2L716.4 258.5L716.5 259.2L716.7 257.8L716.8 243.2L717.2 257.5L717.4 257.9L718.9 257.7L719.3 267.4L719.6 245.4L719.9 267.1L720.1 265.4L720.2 269.3L720.5 244.8L720.6 263.9L721 250.4L722.4 274.1L722.7 267.4L722.8 268.4L722.9 267.5L723.1 250.1L723.3 256L723.4 245.7L723.6 247.7L723.7 245L724.5 274L725.1 242.2L725.5 277.9L725.8 257.4L726 263.8L726.3 253.1L726.4 258.5L726.9 251L727.2 257.3L727.3 250.8L727.9 266.3L728 260.8L728.1 261.1L728.5 259.7L728.7 253.1L729.1 262.5L729.3 249.7L729.5 255.8L730.2 257.6L730.4 268.6L730.6 253.3L731.2 261.1L731.4 255.8L731.7 273.6L732.1 245.7L732.4 256.8L732.9 257.1L735.4 257.1L735.6 267.3L736 251.6L736.6 269.8L736.9 253L737.5 260.7L737.7 250.6L737.9 257L739.3 257.3L739.8 280.1L740.2 255.6L740.8 271L741.1 261.8L741.2 270.3L741.8 240.1L741.9 246.6L742.1 243.3L742.3 273.7L742.9 243L743.2 267.5L743.5 247.9L743.8 258.5L744.1 253.1L744.2 266.7L744.4 250L744.9 276.4L745.1 263.3L745.5 269.1L745.6 263.3L745.9 267.5L746.3 238.9L747 282.5L747.3 270.7L747.6 268L747.7 269.5L748 234.3L748.3 279.7L748.7 241L749.4 276.3L749.6 267L749.9 273.2L750.2 267.6L750.3 275.4L750.6 268.8L750.9 283.5L751.4 257.5L751.6 265.6L751.7 259.4L751.9 270.2L752.1 256.1L752.5 265.6L752.7 234.9L753 280.7L753.3 267.2L753.5 279.2L753.6 258.7L753.9 264.1L754.1 258.7L754.7 270.8L754.9 237.5L755.2 285L755.6 239.5L756.2 257.6L756.7 259.5L758.1 259.7L758.3 273.3L758.8 278.9L759.5 241.3L760.3 287.9L760.6 255.9L761.1 279L761.3 253.9L761.6 281.6L761.8 257.9L762 285.9L762.6 235.3L763.2 268L763.5 250.9L764.2 293.7L764.3 286L764.4 290L764.7 286.7L764.9 289.9L765.2 281.3L765.5 280.8L765.8 290.2L766 284.8L766.7 278.4L766.9 280.3L767 279.7L767.3 281.1L767.5 271.6L767.6 272.4L767.9 269.7L768 270.1L768.3 269.2L768.6 278.7L768.9 271.9L769.3 277.7L769.9 270L770.3 278.4L770.9 270.4L771.3 290.1L771.7 275.3L772.2 282.4L772.8 253L773 276.7L773.2 257.8L773.4 269.6L773.6 240.9L774.1 289L774.8 244.5L775.4 282.3L775.6 255.8L775.8 280.9L776.1 247.1L776.3 268.2L776.7 257.1L776.9 263.8L777 264.2L778 264.4L778.7 282.9L779.3 275.6L779.7 291.9L780.3 254.3L780.8 304.7L781.1 290.6L781.9 314.3L782.2 314.7L782.8 286.5L783.2 295.3L783.5 281.9L784.3 312L784.8 273L785 294.8L785.2 288.9L785.6 313.9L785.7 314.8L785.9 314L786.2 318L786.9 310.2L787.2 318.4L787.5 316.3L787.7 317L788 313L788.7 325.1L789.2 274.3L789.5 270.3L790.1 288.9L790.5 286.8L791 260.1L791.2 263.8L791.4 260.4L792 276.9L792.8 278.9L793 293.6L793.3 284.5L793.5 295L793.9 269L794 271L794.1 269L794.4 279.3L794.6 277.3L794.9 282.4L795.1 281.6L795.3 293.2L795.8 279.4L795.9 280.2L796.1 278.8L796.2 264.1L796.6 278.4L796.8 278.8L798.3 278.4L798.7 288.1L799 266L799.3 287.7L799.5 286L799.6 289.9L799.9 265.3L800 284.4L800.4 270.9L801.1 280.6L801.5 292.6L801.7 288.7L801.8 294.4L802.1 287.7L802.2 288.7L802.3 287.8L802.5 270.4L802.7 276.2L802.8 265.9L803 267.9L803.1 265.2L803.9 294.1L804.5 262.2L804.9 297.9L805.2 277.4L805.4 283.7L805.7 273L805.8 278.4L806.3 270.8L806.6 277.1L806.7 270.6L807.3 286.1L807.4 280.5L807.8 279L807.9 279.4L808.1 272.7L808.5 282.1L808.7 269.3L808.9 275.3L809.6 277.1L809.8 288L810 272.8L810.6 280.5L810.8 275.1L811.1 292.9L811.5 265L811.8 276L812.3 276.3L814.8 276.1L815 286.2L815.4 270.5L816 288.6L816.3 271.7L816.9 279.4L817.1 269.3L817.3 275.7L818.7 275.8L819.2 298.5L819.6 274L820.2 289.3L820.5 280.2L820.6 288.6L821.2 258.3L821.3 264.8L821.5 261.5L821.7 291.8L822.3 261.2L822.6 285.6L822.9 265.9L823.2 276.5L823.5 271.1L823.6 284.6L823.8 267.9L824.3 294.3L824.5 281.2L824.9 287L825 281.1L825.3 285.3L825.7 256.7L826.4 300.2L826.7 288.3L827 285.6L827.1 287.1L827.4 251.9L827.7 297.3L828.1 258.5L828.8 293.7L829 284.4L829.3 290.5L829.6 285L829.7 292.7L830 286.1L830.3 300.8L830.8 274.7L831 282.8L831.1 276.5L831.3 287.3L831.5 273.2L831.9 282.7L832.1 251.9L832.4 297.8L832.7 284.2L832.9 296.2L833 275.7L833.3 281.1L833.5 275.7L834.1 287.8L834.3 254.4L834.6 302L835.1 256.1L835.6 274.6L836.1 276.5L837.5 276.6L837.7 290.2L838.2 295.8L838.9 258.1L839.7 304.7L840 272.8L840.5 295.8L840.7 270.7L841 298.4L841.2 274.7L841.4 302.7L842 252.1L842.6 284.7L842.9 267.6L843.6 310.4L843.7 302.7L843.8 306.7L844.1 303.4L844.3 306.6L844.6 298L844.9 297.5L845.2 306.9L845.4 301.5L846.1 295L846.3 297L846.4 296.3L846.7 297.7L846.9 288.3L847 289L847.3 286.3L847.4 286.7L847.7 285.8L848 295.3L848.3 288.5L848.7 294.3L849.3 286.5L849.7 294.9L850.3 286.9L850.7 306.6L851.1 291.7L851.6 298.9L852.2 269.5L852.4 293.1L852.6 274.3L852.8 286L853 257.3L853.5 305.4L854.2 260.9L854.8 298.6L855 272.1L855.2 297.2L855.5 263.4L855.7 284.6L856.1 273.5L856.3 280.1L856.4 280.6L857.4 280.7L858.1 299.2L858.7 291.8L859.1 308.2L859.7 270.5L860.2 321L860.5 306.8L861.3 330.5L861.6 330.9L862.2 302.7L862.6 311.4L862.9 298L863.7 328.1L864.2 289.1L864.4 311L864.6 305L865 330L865.1 330.9L865.3 330.1L865.6 334L866.3 326.3L866.6 334.4L866.9 332.4L867.1 333.1L867.4 329.1L868.1 341.1L868.6 290.3L868.9 286.3L869.5 304.8L869.9 302.8L870.4 276L870.6 279.8L870.8 276.3L871.4 292.8L872.1 294.2L872.1 293.1L872.4 308.8L872.7 299.5L872.9 310.3L873.3 283.5L873.4 285.5L873.5 283.5L873.8 294.1L874 291.9L874.3 297.2L874.5 296.4L874.7 308.3L875.2 294.1L875.3 294.9L875.5 293.4L875.6 278.3L876 293L876.2 293.4L877.7 292.9L878.1 302.9L878.4 280.2L878.7 302.5L878.9 300.8L879 304.7L879.3 279.4L879.4 299.1L879.8 285.1L880.5 295.2L880.9 307.5L881.1 303.5L881.2 309.3L881.5 302.4L881.6 303.4L881.7 302.5L881.9 284.6L882.1 290.6L882.2 280L882.4 282L882.5 279.2L883.3 309L883.9 276.1L884.3 312.8L884.6 291.7L884.8 298.2L885.1 287.1L885.2 292.7L885.7 284.9L886 291.3L886.1 284.6L886.7 300.5L886.8 294.8L887.2 293.3L887.3 293.6L887.5 286.8L887.9 296.4L888.1 283.2L888.3 289.4L889 291.3L889.2 302.5L889.4 286.7L890 294.7L890.2 289.2L890.5 307.4L890.9 278.7L891.2 290L891.7 290.3L894.2 290L894.4 300.4L894.8 284.2L895.4 302.9L895.7 285.5L896.3 293.3L896.5 282.9L896.7 289.5L898.1 289.6L898.6 313L899 287.7L899.6 303.4L899.9 294L900 302.7L900.6 271.4L900.7 278.2L900.9 274.7L901.1 306L901.7 274.4L902 299.5L902.3 279.2L902.6 290.2L902.9 284.6L903 298.5L903.2 281.3L903.7 308.4L903.9 295L904.3 300.9L904.4 294.8L904.7 299.1L905.1 269.7L905.8 314.4L906.1 302.2L906.4 299.3L906.5 300.9L906.8 264.6L907.1 311.4L907.5 271.4L908.2 307.6L908.4 298L908.7 304.4L909 298.6L909.1 306.6L909.4 299.8L909.7 314.9L910.2 288L910.4 296.3L910.5 289.9L910.7 301L910.9 286.4L911.3 296.2L911.5 264.5L911.8 311.7L912.1 297.8L912.3 310.2L912.4 289L912.7 294.6L912.9 289L913.5 301.5L913.7 267.1L914 316.1L914.5 268.8L915 287.9L915.5 289.9L916.9 290L917.1 304.1L917.6 309.8L918.3 271L919.1 319L919.4 286.1L919.9 309.9L920.1 284L920.4 312.5L920.6 288.2L920.8 317L921.4 264.9L922 298.5L922.3 280.9L923 325L923.1 317L923.2 321.1L923.5 317.7L923.7 321.1L924 312.2L924.3 311.7L924.6 321.4L924.8 315.8L925.5 309.2L925.7 311.2L925.8 310.5L926.1 312L926.3 302.3L926.4 303L926.7 300.3L926.8 300.6L927.1 299.7L927.4 309.6L927.7 302.5L928.1 308.5L928.7 300.5L929.1 309.2L929.7 301L930.1 321.2L930.5 306L931 313.3L931.6 283.1L931.8 307.4L932 288L932.2 300.1L932.4 270.5L932.9 320.1L933.6 274.3L934.2 313.1L934.4 285.8L934.6 311.7L934.9 276.9L935.1 298.7L935.5 287.2L935.7 294.1L935.8 294.6L936.8 294.7L937.5 313.8L938.1 306.2L938.5 323L939.1 284.3L939.6 336.3L939.9 321.7L940.7 346.1L941 346.6L941.6 317.5L942 326.5L942.3 312.7L943.1 343.7L943.6 303.6L943.8 326L944 319.9L944.4 345.7L944.5 346.6L944.7 345.8L945 349.9L945.7 341.8L946 350.3L946.3 348.2L946.5 348.9L946.8 344.8L947.5 357.2L948 304.8L948.3 300.8L948.9 319.8L949.3 317.8L949.8 290.2L950 294.1L950.2 290.5L950.8 307.5L951.6 309.5L951.8 324.7L952.1 315.4L952.3 326.2L952.7 299.4L952.8 301.4L952.9 299.4L953.2 310L953.4 307.9L953.7 313.2L953.9 312.4L954.1 324.3L954.6 310.1L954.7 310.9L954.9 309.4L955 294.3L955.4 309L955.6 309.4L957.1 309L957.5 319L957.8 296.3L958.1 318.6L958.3 316.9L958.4 320.8L958.7 295.5L958.8 315.2L959.2 301.2L959.9 311.3L960.3 323.6L960.5 319.6L960.6 325.5L960.9 318.6L961 319.6L961.1 318.6L961.3 300.7L961.5 306.7L961.6 296.1L961.8 298.1L961.9 295.4L962.7 325.2L963.3 292.3L963.7 329.1L964 307.9L964.2 314.5L964.5 303.4L964.6 309L965.1 301.2L965.4 307.6L965.5 300.9L966.1 316.9L966.2 311.2L966.6 309.6L966.7 309.9L966.9 303.1L967.3 312.7L967.5 299.6L967.7 305.8L968.4 307.6L968.6 318.9L968.8 303.1L969.4 311.1L969.6 305.6L969.9 323.9L970.3 295.1L970.6 306.5L971.1 306.8L973.6 306.5L973.8 316.9L974.2 300.8L974.8 319.4L975.1 302L975.7 309.9L975.9 299.5L976.1 306.1L977.5 306.2L978 329.6L978.4 304.3L979 320.1L979.3 310.7L979.4 319.4L980 288.2L980.1 294.9L980.3 291.5L980.5 322.7L981.1 291.1L981.4 316.3L981.7 296L982 307L982.3 301.4L982.4 315.3L982.6 298.1L983.1 325.2L983.3 311.8L983.7 317.7L983.8 311.6L984.1 316L984.5 286.5L985.2 331.2L985.5 319.1L985.8 316.2L985.9 317.8L986.2 281.5L986.5 328.3L986.9 288.3L987.6 324.6L987.8 315L988.1 321.3L988.4 315.6L988.5 323.6L988.8 316.7L989.1 331.9L989.6 305L989.8 313.3L989.9 306.9L990.1 318L990.3 303.4L990.7 313.2L990.9 281.5L991.2 328.8L991.5 314.8L991.7 327.2L991.8 306.1L992.1 311.7L992.3 306L992.9 318.6L993.1 284.2L993.4 333.2L993.9 285.9L994.4 305L994.9 307L996.3 307.2L996.5 321.3L997 327L997.7 288.3L998.5 336.3L998.8 303.4L999.3 327.2L999.5 301.3L999.8 329.8L1000 305.5L1000.2 334.3L1000.8 282.2L1001.4 315.8L1001.7 298.2L1002.4 342.3L1002.5 334.4L1002.6 338.5L1002.9 335.1L1003.1 338.5L1003.4 329.6L1003.7 329.1L1004 338.8L1004.2 333.2L1004.9 326.6L1005.1 328.7L1005.2 328L1005.5 329.5L1005.7 319.7L1005.8 320.5L1006.1 317.7L1006.2 318.1L1006.5 317.2L1006.8 327L1007.1 320L1007.5 326L1008.1 318L1008.5 326.7L1009.1 318.5L1009.5 338.8L1009.9 323.5L1010.4 330.9L1011 300.7L1011.2 325L1011.4 305.6L1011.6 317.7L1011.8 288.2L1012.3 337.7L1013 291.9L1013.6 330.8L1013.8 303.5L1014 329.4L1014.3 294.6L1014.5 316.4L1014.9 304.9L1015.1 311.8L1015.2 312.3L1016.2 312.5L1016.9 331.5L1017.5 324L1017.9 340.8L1018.5 302.1L1019 354.1L1019.3 339.5L1020.1 363.9L1020.4 364.4L1021 335.3L1021.4 344.4L1021.7 330.6L1022.5 361.6L1023 321.5L1023.2 344L1023.4 337.9L1023.8 363.7L1023.9 364.5L1024.1 363.8L1024.4 367.8L1025.1 359.8L1025.4 368.3L1025.7 366.2L1025.9 366.9L1026.2 362.8L1026.9 375.2L1027.4 322.9L1027.7 318.8L1028.3 337.9L1028.7 335.9L1029.2 308.3L1029.4 312.2L1029.6 308.6L1030.2 325.7L1031 327.7L1031.2 342.9L1031.5 333.5L1031.7 344.4L1032.1 317.6L1032.2 319.6L1032.3 317.6L1032.6 328.2L1032.8 326.1L1033.1 331.4L1033.3 330.6L1033.5 342.5L1034 328.4L1034.1 329.1L1034.3 327.7L1034.4 312.5L1034.8 327.3L1035 327.7L1036.5 327.3L1036.9 337.3L1037.2 314.6L1037.5 336.9L1037.7 335.2L1037.8 339.2L1038.1 313.9L1038.2 333.5L1038.6 319.6L1039.3 329.7L1039.7 342L1039.9 338.1L1040 343.9L1040.3 337L1040.4 338L1040.5 337.1L1040.7 319.2L1040.9 325.2L1041 314.6L1041.2 316.6L1041.3 313.8L1042.1 343.7L1042.7 310.8L1043.1 347.6L1043.4 326.4L1043.6 333L1043.9 321.9L1044 327.5L1044.5 319.7L1044.8 326.2L1044.9 319.5L1045.5 335.4L1045.6 329.8L1045.7 330.1L1046.1 328.5L1046.3 321.7L1046.7 331.3L1046.9 318.2L1047.1 324.4L1047.8 326.3L1048 337.5L1048.2 321.8L1048.8 329.8L1049 324.3L1049.3 342.5L1049.7 313.8L1050 325.2L1050.5 325.5L1053 325.3L1053.2 335.7L1053.6 319.6L1054.2 338.3L1054.5 320.9L1055.1 328.8L1055.3 318.4L1055.5 324.9L1056.9 325.1L1057.4 348.5L1057.8 323.3L1058.4 339.1L1058.7 329.7L1058.8 338.3L1059.4 307.1L1059.5 313.9L1059.7 310.5L1059.9 341.7L1060.5 310.1L1060.8 335.3L1061.1 315L1061.4 326L1061.7 320.4L1061.8 334.3L1062 317.1L1062.5 344.3L1062.7 330.8L1063.1 336.8L1063.2 330.7L1063.5 335L1063.9 305.6L1064.6 350.4L1064.9 338.2L1065.2 335.4L1065.3 337L1065.6 300.7L1065.9 347.4L1066.3 307.5L1067 343.8L1067.2 334.2L1067.5 340.5L1067.8 334.8L1067.9 342.8L1068.2 336L1068.5 351.1L1069 324.3L1069.2 332.6L1069.3 326.1L1069.5 337.3L1069.7 322.7L1070.1 332.5L1070.3 300.8L1070.6 348.1L1070.9 334.1L1071.1 346.5L1071.2 325.4L1071.5 330.9L1071.7 325.3L1072.3 337.8L1072.5 303.5L1072.8 352.4L1073.3 305.2L1073.8 324.2L1074.3 326.2L1075.7 326.3L1075.9 340.4L1076.4 346.1L1077.1 307.4L1077.9 355.4L1078.2 322.5L1078.7 346.2L1078.9 320.4L1079.2 348.9L1079.4 324.5L1079.6 353.3L1080.2 301.2L1080.8 334.9L1081.1 317.2L1081.8 361.3L1081.9 353.4L1082 357.5L1082.3 354.1L1082.5 357.5L1082.8 348.5L1083.1 348L1083.4 357.7L1083.6 352.2L1084.3 345.5L1084.5 347.6L1084.6 346.9L1084.9 348.3L1085.1 338.6L1085.2 339.4L1085.5 336.6L1085.6 337L1085.9 336L1086.2 345.9L1086.5 338.8L1086.9 344.8L1087.5 336.8L1087.9 345.5L1088.5 337.3L1088.9 357.6L1089.3 342.3L1089.8 349.7L1090.4 319.4L1090.6 343.8L1090.8 324.3L1091 336.4L1091.2 306.9L1091.7 356.4L1092.4 310.6L1093 349.5L1093.2 322.2L1093.4 348L1093.7 313.2L1093.9 335L1094.3 323.6L1094.5 330.4L1094.6 330.9L1095.6 331.1L1096.3 350.1L1096.9 342.6L1097.3 359.4L1097.9 320.6L1098.4 372.6L1098.7 358L1099.5 382.4L1099.8 382.9L1100.4 353.8L1100.8 362.8L1101.1 349L1101.9 380L1102.4 339.9L1102.6 362.4L1102.8 356.3L1103.2 382L1103.3 382.9L1103.5 382.1L1103.8 386.2L1104.5 378.2L1104.8 386.6L1105.1 384.5L1105.3 385.2L1105.6 381.1L1106.3 393.5L1106.8 341.2L1107.1 337.1L1107.7 356.2L1108.1 354.1L1108.6 326.5L1108.8 330.4L1109 326.8L1109.6 343.9L1110.3 345.3L1110.6 364.7L1110.9 354.6L1111.1 366.3L1111.5 337.2L1111.6 339.4L1111.7 337.3L1112 348.8L1112.2 346.5L1112.5 352.3L1112.7 351.4L1112.9 364.4L1113.4 349L1113.5 349.8L1113.7 348.2L1113.8 331.8L1114.2 347.9L1114.4 348.3L1115.9 347.9L1116.3 358.8L1116.6 334.1L1116.9 358.4L1117.1 356.5L1117.2 360.8L1117.5 333.3L1117.6 354.7L1118 339.6L1118.7 350.5L1119.1 364L1119.3 359.6L1119.4 366L1119.7 358.5L1119.8 359.6L1119.9 358.6L1120.1 339.1L1120.3 345.7L1120.4 334.2L1120.6 336.3L1120.7 333.3L1121.5 365.8L1122.1 330.1L1122.5 370.1L1122.8 347.1L1123 354.2L1123.3 342.2L1123.4 348.3L1123.9 339.8L1124.2 346.8L1124.3 339.6L1124.9 356.9L1125 350.7L1125.1 351.1L1125.5 349.4L1125.7 342L1126.1 352.5L1126.3 338.2L1126.5 345L1127.2 347L1127.4 359.2L1127.6 342.1L1128.2 350.9L1128.4 344.8L1128.7 364.7L1129.1 333.5L1129.4 345.9L1129.9 346.2L1132.4 346.1L1132.6 357.4L1133 339.9L1133.6 360.2L1133.9 341.3L1134.5 349.9L1134.7 338.6L1134.9 345.7L1136.3 346L1136.8 371.4L1137.2 343.9L1137.8 361.2L1138.1 350.9L1138.2 360.3L1138.8 326.4L1138.9 333.8L1139.1 330.1L1139.3 364.1L1139.9 329.7L1140.2 357.1L1140.5 335.1L1140.8 347L1141.1 340.9L1141.2 356.1L1141.4 337.3L1141.9 366.9L1142.1 352.3L1142.5 358.7L1142.6 352.2L1142.9 356.9L1143.3 324.9L1144 373.6L1144.3 360.3L1144.6 357.3L1144.7 359L1145 319.5L1145.3 370.4L1145.7 327L1146.4 366.4L1146.6 356L1146.9 362.9L1147.2 356.7L1147.3 365.4L1147.6 358L1147.9 374.5L1148.4 345.3L1148.6 354.3L1148.7 347.3L1148.9 359.5L1149.1 343.6L1149.5 354.3L1149.7 319.8L1150 371.2L1150.3 356.1L1150.5 369.6L1150.6 346.6L1150.9 352.7L1151.1 346.7L1151.7 360.4L1151.9 323.1L1152.2 376.4L1152.7 325.1L1153.2 345.9L1153.7 348.1L1155.1 348.6L1155.3 363.9L1155.8 370.2L1156.5 328.2L1157.3 380.6L1157.6 344.8L1158.1 370.8L1158.3 342.7L1158.6 373.7L1158.8 347.3L1159 378.7L1159.6 322.1L1160.2 358.8L1160.5 339.7L1161.2 387.8L1161.3 379.2L1161.4 383.7L1161.7 380L1161.9 383.7L1162.2 374.1L1162.5 373.6L1162.8 384.2L1163 378.2L1163.5 375.5L1163.7 371.1L1163.9 373.4L1164 372.6L1164.3 374.3L1164.5 363.7L1164.6 364.6L1164.9 361.6L1165 362L1165.3 361.1L1165.6 371.9L1165.9 364.3L1166.3 370.9L1166.9 362.3L1167.3 371.8L1167.9 363L1168.3 385.1L1168.7 368.6L1169.2 376.7L1169.8 343.9L1170 370.4L1170.2 349.3L1170.4 362.5L1170.6 330.4L1171.1 384.4L1171.8 334.7L1172.4 377.1L1172.6 347.5L1172.8 375.6L1173.1 337.8L1173.3 361.6L1173.7 349.2L1173.9 356.7L1174 357.2L1175 357.6L1175.7 378.4L1176.3 370.3L1176.7 388.7L1177.3 346.7L1177.8 403.3L1178.1 387.5L1178.9 414.2L1179.2 414.8L1179.8 383.3L1180.2 393.1L1180.5 378.2L1181.3 412.1L1181.8 368.6L1182 393.1L1182.2 386.5L1182.6 414.7L1182.7 415.8L1182.9 415.2L1183.2 420L1183.9 413.4L1184.2 424L1184.4 422.7L1184.7 424.7L1185 421.4L1185.7 436L1186.2 378.1L1186.5 372.5L1187.1 390.8L1187.5 387L1188 356L1188.2 360L1188.4 356L1189 374.3L1189.7 375.9L1190 400.6L1190.3 385.9L1190.5 403.4L1190.9 361.3L1191 362.3L1191.2 358.8L1191.2 373.4L1191.4 375.5L1191.5 370.1L1191.8 381.5L1191.9 379.4L1192.1 381.3L1192.3 398.3L1193 373.9L1193.2 351.9L1193.5 371.9L1193.8 373.7L1195.3 372.5L1195.4 386.4L1195.6 381.4L1195.7 388.9L1196 352.2L1196.3 388.2L1196.5 386.2L1196.6 391.7L1196.9 351.1L1197.1 382.4L1197.4 358.5L1198.4 394.2L1198.6 388.9L1198.8 397.9L1199 386.4L1199.2 388.7L1199.3 387.5L1199.5 357.1L1199.7 367.7L1199.8 350.6L1200 354.5L1200.1 348.5L1200.9 397L1201.5 343.9L1201.9 400.2L1202.1 366L1202.4 379.1L1202.6 358.2L1202.8 369.1L1203.3 354.9L1203.6 367.3L1203.7 354.2L1204.3 382.3L1204.4 372.8L1204.7 368.8L1204.9 368.1L1205 369.3L1205.1 356.9L1205.5 374.4L1205.6 352.1L1205.8 361L1206.5 364.4L1206.7 383.5L1207 357.7L1207.6 371.5L1207.8 361.7L1208.1 390.3L1208.5 345.4L1208.9 363L1209 363.3L1211.7 362.8L1212 380.2L1212.4 352.7L1213 383.7L1213.3 356.3L1213.9 369.7L1214.2 350.9L1214.3 361.9L1215.8 361.9L1216.2 397.2L1216.5 359.2L1217.2 386.2L1217.4 371.2L1217.6 384.2L1217.8 379.2L1218.1 336.6L1218.3 343.3L1218.4 336.8L1218.7 387L1219.2 338.8L1219.6 378.2L1219.9 346.3L1220.2 362.8L1220.4 352.9L1220.6 375.5L1220.7 350.3L1221.3 390.4L1221.6 371.7L1221.9 381.3L1222.1 371.9L1222.3 379.2L1222.7 333.4L1223.4 400.1L1224.1 377.9L1224.4 329.6L1224.7 395.6L1225.2 336.1L1225.8 390.3L1226 378.3L1226.4 386.3L1226.5 378.4L1226.8 389.8L1227 382L1227.4 401.7L1227.8 361.2L1228 371.7L1228.1 364.5L1228.3 382.6L1228.6 358.6L1228.8 375.9L1229 330.7L1229.4 396L1229.7 379.4L1229.9 395.6L1230 363.4L1230.3 373.7L1230.5 363.2L1231.1 386.7L1231.4 335.7L1231.7 406L1232.1 335.9L1232.7 366.1L1233.3 368L1234.5 368.8L1234.7 391.4L1235.2 400.7L1235.9 341L1236.6 412.4L1237 365.3L1237.5 402.1L1237.7 361.8L1238 405.4L1238.2 368.5L1238.4 411.7L1238.9 337.3L1239.7 385.7L1239.9 356.7L1240.6 425.4L1240.7 417.9L1240.8 421.3L1241.1 419.1L1241.3 422.6L1241.6 412.9L1241.8 412.7L1242 413.9L1242.2 424.5L1243.2 411.5L1243.3 415.7L1243.4 414.5L1243.7 417.1L1243.9 400.7L1244 400L1244.1 401.2L1244.3 397.7L1244.5 398.3L1244.7 397L1245 415.4L1245.3 403.6L1245.7 415.4L1246.3 401.3L1246.7 417.1L1247.4 403.6L1247.7 435.9L1248.1 414.2L1248.6 427.6L1249.2 375.7L1249.4 419.2L1249.5 382.4L1249.8 403.9L1250 360.7L1250.5 435L1251.1 365.5L1251.7 427.4L1251.9 379.5L1252.2 426.1L1252.5 369.4L1252.7 403.9L1253.1 383.9L1253.3 397.3L1254.4 398.7L1255.1 431.3L1255.5 422L1255.6 421.1L1255.7 423.7L1256 446.2L1256.4 401.2L1257.7 437.7L1258.9 415.7L1260.2 466.2L1261.5 444.4L1262.7 500.6L1263.7 579.4L1264.3 514.8L1266.2 410.7L1267.2 437.7L1268.1 404.3L1269.1 417.8L1269.4 449.6L1269.7 434.9L1269.9 452.5L1270.3 411L1270.4 412.5L1270.6 408.5L1270.6 423.1L1270.8 426.5L1270.9 419.1L1271.2 431.6L1271.3 429.4L1271.6 431.6L1271.7 448.9L1272.2 423.5L1272.3 428.7L1272.5 425L1272.7 402.9L1272.9 422.8L1273.2 425.1L1274.7 425L1274.8 438.9L1275 433.1L1275.2 441.9L1275.4 405.1L1275.7 441.1L1275.8 442.6L1275.9 439.7L1276 445.2L1276.3 404.4L1276.5 437.5L1276.8 411.8L1277.8 448.9L1278.1 443.7L1278.2 452.9L1278.4 441.1L1278.5 444.1L1278.7 442.6L1278.9 412.5L1279.1 423.1L1279.2 406.3L1279.3 411L1279.6 404.4L1280.3 453.6L1281 400.7L1281.3 457.3L1281.5 423.1L1281.8 436.7L1282 415.8L1282.2 427.2L1282.7 412.5L1283 425.7L1283.2 412.5L1283.7 441.1L1283.7 431.6L1283.9 430.9L1284 431.6L1284.3 427.2L1284.4 428.7L1284.5 416.2L1284.9 434.2L1285 411.8L1285.2 420.6L1285.9 424.2L1286.1 443.3L1286.4 417.3L1287 431.6L1287.2 421.7L1287.5 450.3L1288 405.5L1288.2 423.1L1288.4 423.5L1291.1 423.5L1291.3 441.1L1291.8 413.6L1292.4 444.8L1292.7 416.9L1293.3 431.2L1293.6 412.1L1293.7 423.1L1295.2 423.4L1295.6 458.8L1295.9 420.6L1296.6 448.5L1296.8 433.1L1296.9 446.3L1297.2 441.1L1297.5 398.5L1297.7 405.9L1297.8 398.9L1298.1 449.2L1298.6 400.7L1299 440.4L1299.4 408.1L1299.6 425.7L1299.8 415.4L1300 439.7L1300.1 411L1300.7 454.4L1301 434.2L1301.3 444.1L1301.4 434.5L1301.7 441.9L1302.1 396L1302.8 463.2L1303.6 440.4L1303.8 392.7L1304 458.8L1304.6 399.3L1305.2 453.6L1305.3 441.9L1305.8 450.7L1305.9 441.9L1306.2 453.6L1306.4 445.6L1306.8 465.4L1307.2 425L1307.4 436.7L1307.5 427.9L1307.7 447.8L1308.1 422.4L1308.2 440.4L1308.4 394.5L1308.8 461.3L1309.1 443.3L1309.3 462.4L1309.4 427.2L1309.7 437.5L1309.9 426.8L1310.5 450L1310.7 397.1L1311.1 469.1L1311.5 398.5L1312.1 428.7L1312.7 430.5L1313.9 430.7L1314.1 452.9L1314.6 462.4L1315.3 402.2L1316 473.5L1316.5 424.2L1316.9 463.9L1317.1 421.3L1317.3 466.1L1317.6 427.9L1317.8 474.2L1318.3 397.1L1319.1 447.8L1319.3 415.4L1320 485.2L1320.1 477.1L1320.2 480.8L1320.6 478.2L1320.7 482.3L1321 472L1321.1 471.6L1321.4 472.7L1321.6 483.4L1322.6 469.8L1322.7 474.2L1322.8 472.7L1323.1 475.3L1323.3 458.8L1323.4 458L1323.5 459.5L1323.7 455.5L1323.8 456.2L1324.1 454.7L1324.4 473.1L1324.7 461L1325.1 472.7L1325.7 458L1326.1 474.2L1326.8 460.2L1327 492.6L1327.5 470.5L1328 484.5L1328.6 431.6L1328.8 477.9L1328.9 438.2L1329.2 462.4L1329.4 416.2L1329.9 490.4L1330.5 420.6L1331.1 482.3L1331.3 433.8L1331.6 480.8L1331.9 423.9L1332 460.2L1332.5 437.8L1332.7 451.8L1333.8 452.2L1334.5 484.9L1334.9 474.9L1335.1 477.1L1335.4 499.2L1336.1 436.4L1336.6 517.5L1336.9 503.2L1337.1 509.5L1338.4 573.5L1338.7 558.3L1339 582.6L1339.3 561.7L1339.7 613.9" stroke="#B4201E" stroke-width="2.0"/>
</g>
<path d="M316.3 642.5v-11.3M316.3 74.8v11.3M475.1 642.5v-11.3M475.1 74.8v11.3M633.9 642.5v-11.3M633.9 74.8v11.3M792.7 642.5v-11.3M792.7 74.8v11.3M951.5 642.5v-11.3M951.5 74.8v11.3M1110.3 642.5v-11.3M1110.3 74.8v11.3M1269.1 642.5v-11.3M1269.1 74.8v11.3M157.5 131.6h11.3M157.5 188.3h11.3M157.5 245.1h11.3M157.5 301.9h11.3M157.5 358.7h11.3M157.5 415.4h11.3M157.5 472.2h11.3M157.5 529.0h11.3M157.5 585.7h11.3M1427.9 131.6h-11.3M1427.9 245.1h-11.3M1427.9 358.7h-11.3M1427.9 472.2h-11.3M1427.9 585.7h-11.3" stroke="#000" stroke-width="2.7" stroke-linecap="round" fill="none"/>
<rect x="157.5" y="74.8" width="1270.4" height="567.7" fill="none" stroke="#000" stroke-width="3.1" stroke-linejoin="bevel"/>
<text x="163.1" y="694.6" font-size="32.4" fill="#000" stroke="#000" text-anchor="middle" textLength="21.6" lengthAdjust="spacingAndGlyphs">0</text>
<text x="321.9" y="694.6" font-size="32.4" fill="#000" stroke="#000" text-anchor="middle" textLength="21.6" lengthAdjust="spacingAndGlyphs">1</text>
<text x="480.7" y="694.6" font-size="32.4" fill="#000" stroke="#000" text-anchor="middle" textLength="21.6" lengthAdjust="spacingAndGlyphs">2</text>
<text x="639.5" y="694.6" font-size="32.4" fill="#000" stroke="#000" text-anchor="middle" textLength="21.6" lengthAdjust="spacingAndGlyphs">3</text>
<text x="798.3" y="694.6" font-size="32.4" fill="#000" stroke="#000" text-anchor="middle" textLength="21.6" lengthAdjust="spacingAndGlyphs">4</text>
<text x="957.1" y="694.6" font-size="32.4" fill="#000" stroke="#000" text-anchor="middle" textLength="21.6" lengthAdjust="spacingAndGlyphs">5</text>
<text x="1115.9" y="694.6" font-size="32.4" fill="#000" stroke="#000" text-anchor="middle" textLength="21.6" lengthAdjust="spacingAndGlyphs">6</text>
<text x="1274.7" y="694.6" font-size="32.4" fill="#000" stroke="#000" text-anchor="middle" textLength="21.6" lengthAdjust="spacingAndGlyphs">7</text>
<text x="1433.5" y="694.6" font-size="32.4" fill="#000" stroke="#000" text-anchor="middle" textLength="21.6" lengthAdjust="spacingAndGlyphs">8</text>
<text x="136.8" y="86.7" font-size="32.4" fill="#000" stroke="#000" text-anchor="end" textLength="54.1" lengthAdjust="spacingAndGlyphs">4.4</text>
<text x="136.8" y="143.5" font-size="32.4" fill="#000" stroke="#000" text-anchor="end" textLength="54.1" lengthAdjust="spacingAndGlyphs">4.2</text>
<text x="136.8" y="200.2" font-size="32.4" fill="#000" stroke="#000" text-anchor="end" textLength="21.6" lengthAdjust="spacingAndGlyphs">4</text>
<text x="136.8" y="257.0" font-size="32.4" fill="#000" stroke="#000" text-anchor="end" textLength="54.1" lengthAdjust="spacingAndGlyphs">3.8</text>
<text x="136.8" y="313.8" font-size="32.4" fill="#000" stroke="#000" text-anchor="end" textLength="54.1" lengthAdjust="spacingAndGlyphs">3.6</text>
<text x="136.8" y="370.6" font-size="32.4" fill="#000" stroke="#000" text-anchor="end" textLength="54.1" lengthAdjust="spacingAndGlyphs">3.4</text>
<text x="136.8" y="427.3" font-size="32.4" fill="#000" stroke="#000" text-anchor="end" textLength="54.1" lengthAdjust="spacingAndGlyphs">3.2</text>
<text x="136.8" y="484.1" font-size="32.4" fill="#000" stroke="#000" text-anchor="end" textLength="21.6" lengthAdjust="spacingAndGlyphs">3</text>
<text x="136.8" y="540.9" font-size="32.4" fill="#000" stroke="#000" text-anchor="end" textLength="54.1" lengthAdjust="spacingAndGlyphs">2.8</text>
<text x="136.8" y="597.6" font-size="32.4" fill="#000" stroke="#000" text-anchor="end" textLength="54.1" lengthAdjust="spacingAndGlyphs">2.6</text>
<text x="136.8" y="654.4" font-size="32.4" fill="#000" stroke="#000" text-anchor="end" textLength="54.1" lengthAdjust="spacingAndGlyphs">2.4</text>
<text x="1483.0" y="143.5" font-size="32.4" fill="#C9982A" stroke="#C9982A" text-anchor="end" textLength="21.6" lengthAdjust="spacingAndGlyphs">4</text>
<text x="1483.0" y="257.0" font-size="32.4" fill="#C9982A" stroke="#C9982A" text-anchor="end" textLength="21.6" lengthAdjust="spacingAndGlyphs">2</text>
<text x="1483.0" y="370.6" font-size="32.4" fill="#C9982A" stroke="#C9982A" text-anchor="end" textLength="21.6" lengthAdjust="spacingAndGlyphs">0</text>
<text x="1484.6" y="484.1" font-size="32.4" fill="#C9982A" stroke="#C9982A" text-anchor="end" textLength="33.9" lengthAdjust="spacingAndGlyphs">-2</text>
<text x="1484.6" y="597.6" font-size="32.4" fill="#C9982A" stroke="#C9982A" text-anchor="end" textLength="33.9" lengthAdjust="spacingAndGlyphs">-4</text>
<rect x="178.3" y="486.8" width="650.6" height="139.3" fill="#fff" stroke="#000" stroke-width="1.7"/>
<text x="461.6" y="527.9" font-size="32.4" fill="#000" stroke="#000" textLength="225.0" lengthAdjust="spacingAndGlyphs">Relative error</text>
<path d="M707.0 516.7h101" stroke="#CE9E2E" stroke-width="2.1"/>
<text x="230.3" y="568.0" font-size="32.4" fill="#000" stroke="#000" textLength="456.6" lengthAdjust="spacingAndGlyphs">Experimental measurement</text>
<path d="M707.0 556.8h101" stroke="#0a0a0a" stroke-width="2.1"/>
<text x="340.0" y="608.1" font-size="32.4" fill="#000" stroke="#000" textLength="347.4" lengthAdjust="spacingAndGlyphs">Modelling predictions</text>
<path d="M707.0 596.8h101" stroke="#B4201E" stroke-width="2.1"/>
<text x="685.4" y="754.6" font-size="33.2" fill="#000" stroke="#000" textLength="214.8" lengthAdjust="spacingAndGlyphs">Time (hours)</text>
<text x="29.2" y="453.2" font-size="33.4" fill="#000" stroke="#000" textLength="188.0" lengthAdjust="spacingAndGlyphs" transform="rotate(-90 29.2 453.2)">Voltage (V)</text>
<text x="1546.0" y="437.8" font-size="33.4" fill="#C9982A" stroke="#C9982A" textLength="159.5" lengthAdjust="spacingAndGlyphs" transform="rotate(-90 1546.0 437.8)">Error (%)</text>
<text x="1515.2" y="108.5" font-size="47" font-family="Carlito,'Liberation Sans',sans-serif" stroke="none" textLength="54.5" lengthAdjust="spacingAndGlyphs">(a)</text>
<clipPath id="cb"><rect x="178.5" y="873.1" width="1249.4" height="512.0"/></clipPath>
<path d="M428.4 873.1V1385.1M678.3 873.1V1385.1M928.1 873.1V1385.1M1178.0 873.1V1385.1M178.5 937.1H1427.9M178.5 1001.1H1427.9M178.5 1065.1H1427.9M178.5 1129.1H1427.9M178.5 1193.1H1427.9M178.5 1257.1H1427.9M178.5 1321.1H1427.9" stroke="#bcbcbc" stroke-width="1" fill="none"/>
<g clip-path="url(#cb)" fill="none" stroke-linejoin="round">
<path d="M178.5 1148.5L179.1 1148.5L180.3 1150.2L182.4 1158.5L184.9 1149.4L186.6 1151L189.5 1159.3L193.2 1152.7L194.8 1151.8L196.8 1136.9L198.2 1140.3L199.5 1137.8L202.3 1146.9L203.9 1141.9L205.6 1144.4L207.3 1138.6L208.9 1145.2L211.4 1144.4L212.7 1146.9L214.7 1144.4L216.4 1145.2L218.5 1151.8L221.3 1146.9L223.3 1148.5L226.3 1140.3L228 1136.9L229.3 1141.1L231.3 1136.9L232.9 1129.5L234.9 1139.4L236.2 1136.9L238.7 1140.3L266.9 1136.9L268.5 1145.2L270.2 1140.3L271.8 1144.4L274.7 1133.6L276.8 1125.4L279 1136.9L281 1142.7L283.4 1140.3L285.9 1140.3L287.9 1143.6L289.6 1125.4L290.9 1122.9L293.4 1142.7L295.9 1133.6L298.3 1127L300.8 1132L304.1 1133.6L307.5 1134.5L310.8 1136.9L314.1 1141.1L316.6 1139.4L318.2 1136.9L319.9 1140.3L323.2 1136.9L325.7 1135.3L327.3 1137.8L330.3 1134.5L333.1 1122L334.8 1132.8L336.9 1122L338.9 1124.5L340.6 1122.9L342.2 1125.4L344.2 1132L345.9 1128.7L348 1127.8L350.5 1137.8L353.8 1139.4L356.3 1133.6L358.8 1128.7L361.3 1120.4L363.8 1126.2L365.4 1130.3L366.7 1141.9L368.7 1133.6L370.7 1135.3L374 1123.7L376.2 1133.6L379.5 1128.7L382.8 1122.9L384.5 1131.1L387.8 1123.7L390.3 1125.4L391.9 1122.9L394.4 1129.5L396.9 1128.7L399.4 1121.2L401 1129.5L403.5 1129.5L406.8 1136.9L409.3 1127L411 1132L414.3 1128.7L417.6 1128.7L420.1 1122L423.4 1128.7L425.8 1132.8L428.3 1125.4L430.3 1117.9L431.9 1127L434.9 1127L442.4 1127L444.8 1132L446.5 1135.3L448.5 1128.7L450.1 1122L452.3 1122.9L454.8 1126.2L457.3 1127L459.7 1129.5L462.2 1122.9L464.7 1128.7L466.9 1136.1L468.9 1125.4L470.5 1118.7L472.2 1125.4L474.3 1117.1L476.3 1121.2L478 1127L481.3 1125.4L526 1123.7L528 1133.6L530.1 1121.2L532.6 1121.2L534.6 1117.9L536.8 1125.4L540.1 1124.5L542.5 1127L544.2 1132L546.7 1118.7L548.3 1119.6L549.7 1117.1L551.7 1122L555.8 1122.9L559.9 1126.2L562.4 1115.4L564.1 1127L566.6 1122.9L588.1 1122L590.6 1131.1L593.1 1123.7L595.5 1124.5L598 1121.2L600.5 1116.2L603.8 1125.4L606.3 1121.2L608.8 1126.2L612.9 1119.6L616.2 1127L618.7 1121.2L621.2 1119.6L622.9 1108.8L626.2 1120.4L629 1113.8L632 1122.9L634.5 1132L636.9 1123.7L638.9 1125.4L641.6 1108.8L643.9 1120.4L646.9 1130.3L650.2 1121.2L651.8 1124.5L654 1108.8L656.5 1122.9L659.3 1117.1L661.8 1117.1L664.3 1129.5L667.6 1112.1L670.1 1125.4L672.5 1127L675.3 1122.8L678.3 1120.4L681.6 1122.8L684.1 1126.1L686.6 1120.4L689 1124.5L691.5 1119.5L694 1114.6L695.7 1110.4L697.3 1120.4L699 1118.7L700.6 1125.3L703.1 1127.8L705.6 1113.7L707.3 1110.4L709.7 1113.7L712.2 1122L713.9 1127L716.4 1122L718.9 1120.4L721.3 1106.3L723.3 1142.7L725.5 1122L728 1127L732.9 1110.4L735.4 1118.7L737.9 1117L740.4 1128.6L742.9 1123.7L746.2 1122L749.5 1122L752.8 1123.7L756.1 1120.4L759.4 1125.3L762.7 1122L766.1 1120.4L769.4 1113.7L771.8 1120.4L776 1115.4L778.5 1111.2L780.1 1122L782.6 1112.1L784.3 1123.7L786.8 1120.4L790.1 1111.2L793.4 1122L796.7 1107.1L798.3 1136.9L800.8 1122L805.8 1113.7L810.8 1118.7L814.1 1107.1L816.6 1118.7L819 1112.1L821.5 1117L824 1120.4L826.5 1122L829 1123.7L831 1107.1L833.1 1131.9L835.6 1122L838.9 1102.1L841.4 1122L844.7 1107.9L846.4 1127L848.9 1117.9L850.5 1116.2L853.8 1118.7L883.6 1117.4L885.3 1127L887.8 1123.7L891.9 1128.6L896.1 1120.4L899.4 1108.8L901.8 1109.6L904.3 1116.2L906.8 1113.7L910.1 1125.3L913.4 1118.7L915.9 1107.1L917.9 1097.2L920.1 1108.8L922.5 1107.1L925.8 1122L928.3 1118.7L932.4 1105.4L934.9 1113.7L941.5 1118.7L948.2 1113.7L950.6 1106.3L952.8 1137.7L954.8 1120.4L957.3 1111.2L959.7 1115.4L962.2 1118.7L964.4 1125.3L967.2 1105.4L968.9 1120.4L971.3 1123.7L974.6 1117L976.3 1088.9L978 1088.1L979.6 1088.9L981.6 1115.4L982.9 1112.9L985.4 1117L987.9 1121.2L990.4 1118.7L992.9 1122.8L996.2 1126.1L999.5 1127L1002.8 1127.8L1005.3 1121.2L1007.8 1127L1011.1 1129.5L1014.4 1130.3L1019.4 1128.6L1022.7 1130.3L1026 1131.1L1029.3 1128.6L1032.6 1126.1L1035.9 1125.3L1039.2 1125.6L1044.2 1125.3L1046.7 1130.3L1049.2 1135.3L1052.5 1130.3L1055.8 1131.9L1059.1 1133.6L1062.4 1129.5L1067.4 1126.1L1070.7 1128.6L1074 1130.3L1079 1130.3L1083.1 1126.1L1085.6 1128.6L1088.9 1125.3L1090.6 1124.5L1093.9 1131.9L1097.2 1130.3L1102.2 1135.3L1104.6 1131.9L1107.1 1123.7L1109.6 1119.5L1112.1 1117.9L1115.4 1121.2L1117.9 1128.6L1120.1 1122L1122 1130.3L1124 1116.2L1126.2 1112.9L1127.8 1135.3L1130.3 1137.7L1132.8 1123.7L1136.9 1125.3L1140.3 1120.4L1142.7 1117.9L1144.9 1114.6L1146.9 1124.5L1149.4 1127L1151.8 1122L1155.2 1118.7L1158.5 1113.7L1161.8 1120.4L1164.8 1112.1L1167.6 1127L1170.9 1117L1172.5 1119.2L1173.3 1115.9L1174.6 1122.5L1175.8 1112.6L1177.5 1121.7L1179.9 1120.6L1186.6 1119.6L1196.5 1118.9L1199 1120.9L1201.5 1120.9L1204.8 1123.4L1209.7 1122.5L1214.7 1124.2L1218.9 1123.4L1221 1115.9L1222.7 1112.6L1224.6 1122.5L1227.1 1125.9L1230.4 1111L1233.8 1119.2L1236.2 1122.5L1238.7 1099.4L1240.4 1078.7L1241.5 1076.2L1242.9 1099.4L1244.5 1127.5L1246.2 1130.8L1248.7 1127.5L1250.8 1124.2L1252.5 1112.6L1254.1 1102.7L1256.1 1096.1L1258.6 1086.1L1260.3 1092.7L1262.4 1099.4L1264.1 1115.9L1265.7 1132.5L1267.7 1140.8L1269.4 1142.4L1271.8 1138.3L1273.5 1142.4L1275.2 1144.9L1277.6 1144.1L1280.1 1138.3L1281.8 1136.6L1283.4 1144.1L1285.9 1146.6L1288.4 1144.9L1290.6 1140.8L1292.5 1124.2L1294.5 1117.6L1296.2 1125.9L1298.3 1145.7L1300.8 1142.4L1304.1 1144.1L1306.6 1149.9L1308.8 1148.2L1310.4 1153.2L1312.4 1140.8L1314.4 1125.9L1316.6 1118.4L1318.2 1124.2L1320.4 1132.5L1322.4 1130.8L1324.8 1130L1327.3 1137.5L1329.8 1144.9L1332.3 1149.9L1334.8 1155.7L1336.9 1158.2L1338.9 1152.4L1340.9 1143.2L1342.2 1142.4L1343.9 1149L1345.9 1151.5L1348.9 1153.2L1351.3 1159L1353.5 1162.3L1356.3 1160.6L1359.6 1152.4L1362.1 1145.7L1364.6 1141.6L1366.2 1152.4L1368.4 1164.8L1370.4 1157.3L1373.7 1152.4L1376.2 1150.7L1380.3 1149.9L1383.6 1157.3L1386.1 1162.3L1389.4 1163.1L1392.7 1160.6L1395.2 1155.7L1397.7 1149L1400.2 1154L1402.7 1145.7L1405.2 1141.6L1408.5 1141.1L1411 1142.4L1414.3 1142.8L1416.4 1150.4L1420.1 1149.9L1427.5 1149.9L1427.9 1149.9" stroke="#CE9E2E" stroke-width="2.2"/>
<path d="M178.5 1036L179.1 1036L180.3 1041.3L182.4 1081.3L183.2 1101.3L184.9 1079.1L186.1 1059.4L186.6 1060.2L187.4 1060.6L189.5 1088.4L190.7 1107.5L193.2 1091L194.8 1078.3L196.8 1018L197.3 999.1L198.2 1004.2L199 1012L199.5 1008.2L200.6 994.9L202.3 1022.3L203.1 1035.8L203.9 1040.2L204.8 1041.8L205.6 1044.1L207.3 1040.9L207.8 1037.1L208.9 1041.3L209.7 1047L211.4 1054.6L212.2 1057L212.7 1055.1L213.9 1053.3L214.7 1055.7L215.5 1057.1L216.4 1055.1L217.2 1051.5L218.5 1077.6L218.9 1085.4L220.2 1103.8L221.3 1093.7L222.2 1084.9L223.3 1082.6L224.6 1083.6L226.3 1058.3L227.1 1045.2L228 1050.6L228.8 1052.8L229.3 1048.6L230.4 1043.5L231.3 1046.5L232.1 1051L232.9 1011.4L233.4 984L234.6 982.9L234.9 988.9L236.2 1020L237.9 1034.9L238.7 1037.1L240.4 1043.3L242.9 1045.2L266.9 1045.7L268.5 1076.7L270.2 1085.4L271.4 1063.3L271.8 1070.5L272.7 1086.4L274 1090.2L274.7 1059L276 996.6L276.8 999.1L278 994.3L279 1016.1L280.1 1043.9L281 1055.9L282.6 1084.8L283.4 1084.6L284.3 1083.8L285.9 1077.1L287.9 1093.7L289.6 1021.5L290.1 996.5L290.9 997.7L291.7 992.6L293.4 1043.2L294.2 1075.9L295.9 1049L297.8 1021.6L298.3 1021.6L299.5 1017.5L300.8 1023.6L302.5 1033.1L304.1 1036.6L305.8 1040.4L307.5 1043.4L309.1 1045.8L310.8 1053.7L311.6 1057.3L314.1 1089.8L316.6 1109.3L318.2 1092.9L319.9 1090.4L321.5 1117.4L322.7 1118.3L323.2 1113.5L325.7 1089.2L327.3 1092.3L329.8 1089.4L330.3 1078.1L333.1 1021.5L334.8 1012.4L335.6 1046.2L336.9 1011.5L337.3 1001.3L338.9 1000.5L339.7 1010.3L340.6 1003.9L341.4 995.9L342.2 995.5L342.6 994.9L344.2 1023.8L344.7 1034.5L345.9 1040.7L346.9 1044.8L348 1039.4L348.5 1035.4L349.7 1041.8L350.5 1052.5L352.2 1078.4L353.8 1099.9L355.1 1119.9L356.3 1115.8L358 1109.5L358.8 1082.2L361.3 1002.9L363.8 981.9L365.1 980.1L365.4 986L366.7 1003L367.1 1010.6L368.7 1082.2L369.6 1114.8L370.7 1130.3L371.2 1138.6L374 1064.4L374.5 1048.2L376.2 1058.1L377.8 1075.8L379.5 1060.5L382.8 1030.8L384.5 1043.2L385.3 1054L387.8 1035.9L388.6 1028L389.8 1030.8L390.3 1028.4L391.9 1023.3L394.4 1042.2L396.9 1047.8L399.4 1022.1L401 1045.6L403.5 1042.2L405.2 1046L406.8 1069.7L407.6 1085.5L409.3 1064L411 1061.3L411.8 1062.5L413.4 1060.5L414.3 1058.6L415.1 1056.1L417.6 1057.8L420.1 1039.2L420.9 1030.1L423.4 1045.6L425.8 1061.3L427.9 1072L428.3 1064.4L430.3 1020.5L431.9 1014.3L434.1 1040.8L434.9 1041.9L436.6 1044.1L439.9 1047.5L442.4 1048.5L444 1046.6L444.8 1056.1L445.7 1065.6L446.5 1078.4L447.3 1094.6L448.5 1095.9L450.1 1048.7L450.6 1032.9L452.3 1035.7L453.9 1034L454.8 1039.3L456.4 1051L457.3 1052.1L458.4 1053.2L459.7 1063.8L462.2 1046.2L462.6 1042.6L463.9 1042.7L464.7 1052.1L466 1065.9L466.9 1091.8L467.5 1117L468.5 1120.2L468.9 1106.3L470.2 1049.4L470.5 1051.6L472.2 1052L474.3 1009.6L474.6 1001.6L476.3 999.8L478 1040.8L479.6 1045.6L481.3 1046.4L486.2 1047.2L526 1047.5L527.3 1068.1L528 1077L528.5 1087.7L529.6 1092.7L530.1 1083.4L531.8 1045.3L532.6 1038.1L534.3 1025.9L534.6 1026.5L535.9 1023.6L536.8 1032.6L537.6 1043.9L539.6 1046.8L540.1 1046.9L541.7 1045.6L542.5 1057.8L543.4 1068.7L544.2 1082.6L545 1101.7L546.2 1105.5L546.7 1090.9L548.3 1034.9L549.7 1034.3L550.5 1031.1L551.7 1036.1L552.5 1041.2L555 1045.8L555.8 1047.3L557.5 1049.6L559.9 1063L561.6 1043.6L562.4 1029.8L562.8 1021.5L564.1 1015.2L565.4 1045L566.6 1047L567.4 1047.3L588.1 1047.9L589.7 1046.6L590.6 1063.1L592.2 1104.4L593.1 1120.6L594.7 1148.8L595.5 1148.6L595.9 1149L598 1078.3L599.7 1066L600.5 1055.7L601.3 1042.3L602.5 1040.7L603.8 1062.9L604.6 1079.6L606.3 1065.1L608 1065.9L608.8 1078.4L610.4 1108L611.8 1109.6L612.9 1087.9L613.8 1069.9L615.4 1065.4L616.2 1087.8L616.7 1103L617.9 1105L618.7 1097.4L619.6 1088.7L621.2 1089.5L622.9 1021.7L625.4 973.7L626.2 971.1L627 972.1L628.3 1005.1L629 992.2L629.5 980.4L631.1 976.5L632 1002.6L632.8 1028.4L634.5 1083.4L635.3 1115.3L636.6 1118.6L636.9 1113.3L637.8 1097.4L638.9 1099L639.4 1102.4L641.1 1049L641.6 1033.8L642.7 988.3L643.9 983.9L644.4 982.6L646.1 1020.5L646.9 1041.1L648.5 1089.8L649.9 1092.5L650.2 1085.7L651 1065.5L651.8 1066.7L652.7 1073.8L654 1027L654.3 1012L655.7 1006.2L656.5 1021.2L657.6 1049.1L659.3 1056.7L661 1025.3L661.8 1027.7L662.6 1027.1L664.3 1082.8L665.4 1087.4L666.8 1017.5L667.6 1020.8L667.9 1019.5L670.1 1055.3L671.7 1074.4L672.5 1073.1L673.4 1073.2L675.3 1136.6L677.9 1073.8L678.3 1074.5L679.9 1076.4L681.6 1077.6L682.4 1077.9L684.1 1096.1L685.2 1098.1L686.6 1074L688.2 1070.2L689 1081.6L689.9 1095.3L691.2 1094L691.5 1090.6L693.2 1073.8L694 1053.6L694.8 1033.7L695.7 1003.9L696.5 968.7L697.3 964.5L698.5 964.9L699 970.6L699.8 976.8L700.6 995.7L701.5 1016.6L703.1 1065L705.6 1141.8L707.3 1167.4L708.9 1165.7L709.7 1157.2L711.4 1137.7L712.2 1125.7L713.9 1102.1L715.5 1102.9L716.4 1099.2L717.2 1094.7L718.9 1093.8L720 1107.1L721.3 1048.3L722.7 935.4L723.3 925.6L724.3 932.5L725.5 1003.3L727.1 1083.5L728 1112.8L728.8 1145.5L729.9 1136.8L732.1 1043.1L732.9 1020.4L734.3 977.4L735.4 973.8L735.9 973.8L737.6 978.8L737.9 987.9L739.2 1018.9L740.4 1053.4L741.2 1082.2L742.9 1098L744.5 1101.9L746.2 1126L746.5 1130.6L747.8 1129L749.2 1087.6L749.5 1087.9L751.1 1088.7L752.8 1099.6L754.8 1116L756.1 1117L757.8 1088.7L759.1 1088.8L759.4 1095.4L760.8 1124.2L761.9 1125.1L762.7 1115.2L764.4 1094.9L765.7 1097L766.1 1105.1L767.4 1138.8L769.4 1168.2L771.4 1164.3L771.8 1160.8L772.7 1157.4L774 1155.3L775.2 1106.8L776 1095.1L776.8 1083.8L778.5 1052.8L779.8 1047.1L780.1 1057L781 1088.5L782.3 1059.4L782.6 1060.4L783.4 1056L784.3 1068.2L785.1 1085.6L786.4 1103.4L786.8 1101.4L787.6 1097.2L789.6 1045.2L790.1 1046L791.7 1041.3L793.4 1079.4L795 1086.6L796.2 1029.5L796.7 992.8L797.2 947.5L798.3 930.7L798.8 932.8L800 999.4L800.8 1052.9L801.7 1103.6L803.3 1155.2L804.5 1123.6L805.8 1153.4L807.1 1124.3L808.3 1090.4L809.4 1106L810.8 1149.6L812.1 1125L812.9 1057.8L814.1 1060.9L815.4 1079.3L816.6 1076.4L817.1 1077.9L819 1055.5L820.7 1053L821.5 1057.9L822 1061.1L824 1065.7L826 1082.9L826.5 1088L828.2 1105L829 1103.4L829.3 1105L830.6 1045.6L831 1027.9L832 959.6L833.1 946.9L833.6 947.5L834.8 984.2L835.6 1036.3L836.4 1089.7L838.1 1179.7L838.9 1181.8L839.7 1175.2L841.4 1101.4L842.2 1072.1L844.7 974.4L846.4 957.8L846.9 958.6L848.5 989L848.9 996.8L850.5 1032.5L853 1047.6L853.8 1048.8L856.3 1053.8L862.1 1056.5L883.6 1058.1L885.3 1082.2L886.9 1113.7L887.8 1118.6L888.6 1122L890.3 1115.6L891.9 1124L893.6 1139.7L894.9 1135.1L896.1 1093.8L897.7 1094.9L899.4 1079.5L901.8 1029.3L903.5 978L904.3 976.3L905.2 977L906.8 1026.1L909.3 1069.1L910.1 1081.8L911 1098L912.1 1073.2L913.4 1076.9L915.1 1143.8L915.9 1169.8L916.8 1196L917.9 1200.3L918.4 1198.3L920.1 1145.5L921.7 1080.3L922.5 1058.3L922.9 1048.2L924.2 1043.6L925.8 1086L927.5 1094.3L928.3 1092.7L928.6 1092.6L930.3 1149.4L931.3 1151.8L932.4 1092.2L932.9 1064.2L934.1 1037.3L934.9 1035.2L935.2 1035L936.6 1107.8L937.9 1158.3L939 1156L940.2 1051.2L941.5 1049.8L941.9 1049.8L943.2 1139L944.3 1182.6L945.2 1173.2L946.8 1058.4L948.2 1059.2L949.5 1080.4L950.6 1081.3L951.8 985.8L952.8 933.1L954.4 944.4L954.8 956.1L955.6 982.1L957.3 1006.6L958.9 1009.4L959.7 1029.8L960.6 1050.5L962.2 1067L963.9 1091.2L964.4 1090.1L965 1093.6L966.4 1019.7L967.2 1024.2L968 1018.5L968.9 1029.3L969.7 1045L971.3 1070.9L971.7 1076.9L973.3 1137.3L974.6 1169.8L975.5 1199.3L976.3 1216.2L977.1 1223.1L978 1228.3L978.8 1233L979.6 1232.7L979.9 1229.4L980.9 1185.1L981.6 1178.6L982.1 1179.2L982.9 1193.4L983.3 1198.2L984.9 1192.8L985.4 1189.2L986.6 1180.9L987.9 1176.7L989.6 1190.4L990.4 1192.6L991.2 1193.3L992.9 1178L995.4 1149.7L996.2 1148.5L997.8 1147.1L999.5 1146.8L1000.3 1146.6L1002 1152.9L1002.8 1163.5L1003.6 1175.9L1004.8 1193.1L1005.3 1193.5L1006.1 1191L1007.8 1165L1010.3 1160.3L1011.1 1157.6L1012.7 1152.9L1014.4 1152.6L1015.2 1152.8L1017.7 1146.8L1019.4 1134L1021.4 1143.1L1022.7 1140.6L1023.5 1139.2L1026 1147L1027.6 1146.3L1029.3 1130.6L1031 1105.1L1032.6 1108.8L1033.4 1110.3L1035.9 1103.3L1037.9 1098.2L1039.2 1099.4L1039.6 1099.8L1041.7 1097.4L1044.2 1095.9L1045.9 1102.5L1046.7 1113L1047.8 1127.7L1049.2 1132.3L1050.8 1130.8L1052.5 1112.8L1054.1 1103.9L1055.8 1107.4L1056.1 1108.1L1058.3 1127.2L1059.1 1127.7L1059.9 1129.3L1062.4 1121.7L1064.1 1111L1066.6 1102.3L1067.4 1101.3L1069 1097.6L1070.7 1114.1L1072.4 1128.4L1074 1132.2L1074.8 1134.4L1077.3 1126.1L1079 1122.8L1079.8 1121.7L1082.3 1115.3L1083.1 1109.3L1083.9 1102.1L1085.6 1099.2L1086.9 1115.1L1088.1 1149.1L1088.9 1170.4L1089.7 1191.4L1090.6 1191.7L1091.1 1190.8L1093.1 1137.8L1093.9 1133.7L1095.5 1128.8L1097.2 1122.8L1098 1118.8L1099.7 1125.9L1102.2 1134L1103.8 1150.5L1104.6 1151.3L1105.1 1152.6L1106.8 1133.5L1107.1 1123.3L1108.8 1070.3L1109.6 1063L1111.3 1047.4L1112.1 1041.7L1113.8 1028.3L1115.4 1027.1L1116.7 1067L1117.9 1116.6L1118.4 1140.1L1119.6 1084.8L1120.1 1063.1L1120.4 1046.9L1121.7 1042.7L1122 1057.2L1122.9 1100.7L1124 1105.2L1125.4 1025.8L1126.2 996.8L1126.7 973.7L1127.8 961.6L1128.3 961.2L1130 1008L1130.3 1026.7L1131.1 1077.6L1132.3 1135.6L1132.8 1127.1L1133.6 1109.3L1135.3 1186.6L1136.4 1186.2L1136.9 1172.4L1137.8 1150.6L1140.3 1095.5L1142.7 1056L1144.4 1024.9L1144.9 1012.1L1145.6 991.6L1146.9 986.5L1148.2 1033.4L1149.4 1080.6L1151 1076.4L1151.8 1078.9L1152.2 1079.6L1153.5 1120.3L1154.8 1161L1155.2 1160.8L1156 1160.5L1157.1 1074.2L1158.1 1040.6L1158.5 1055.6L1159.3 1091L1161 1154.6L1161.8 1153.4L1162.1 1154.1L1163.4 1057.6L1164.8 1007.6L1166.4 1000.9L1167.6 1032.5L1168.7 1094.8L1170.1 1096.1L1170.9 1079.4L1171.4 1067.7L1172.5 1079.5L1173.3 1081.1L1175 1066.2L1176.6 1069.6L1178.3 1077.8L1183.2 1079.5L1196.5 1081.1L1198.2 1087.8L1200.6 1089.4L1202.3 1099.4L1204.8 1132.5L1206.8 1159L1208.4 1163.9L1210.6 1157.3L1212.2 1132.5L1214.7 1124.2L1216.4 1122.5L1218.4 1132.5L1220.5 1168.9L1222.2 1207.8L1223.3 1207L1225.5 1173.9L1228 1129.2L1229.3 1066.2L1230.4 1028.2L1232.6 1027.3L1233.9 1066.2L1235.4 1132.5L1237.1 1198.7L1239.2 1265L1240.4 1293.1L1242 1293.1L1243.7 1215.3L1245.4 1190.4L1247 1195.4L1248.7 1208.7L1250.3 1213.6L1252 1231.8L1254.5 1273.2L1256.1 1296.4L1258.1 1329.6L1260.3 1324.6L1262.4 1321.3L1263.6 1298.1L1265.2 1248.4L1267.7 1215.3L1271 1168.9L1273.5 1164.8L1275.2 1190.4L1277.3 1210.3L1278.5 1208.7L1280.1 1178.9L1281.8 1148.2L1283.4 1148.2L1285.1 1178.9L1287.6 1212L1290.1 1240.1L1292.5 1281.5L1294.5 1296.4L1296.5 1294.8L1298.3 1265L1300 1198.7L1301.2 1106L1303.3 1106L1304.5 1165.6L1305.8 1207L1306.6 1212L1308.3 1177.2L1309.9 1175.5L1311.6 1198.7L1314.1 1265L1315.7 1306.4L1317.1 1311.3L1319 1294.8L1321 1298.1L1323.2 1306.4L1325.3 1311.3L1327.3 1304.7L1329.8 1294.8L1331.5 1284.8L1333.9 1273.2L1335.6 1256.7L1337.3 1255.9L1338.9 1273.2L1340.9 1306.4L1342.2 1308L1343.9 1293.9L1345.9 1292.3L1348.9 1294.8L1350.5 1278.2L1352.2 1271.6L1353.8 1267.5L1355.5 1271.6L1358 1278.2L1360.4 1298.1L1362.9 1322.9L1365.1 1341.1L1366.7 1331.2L1368.7 1281.5L1370.1 1182.2L1371.7 1099.4L1373.7 1096.1L1375.4 1087.8L1377 1083.6L1378.3 1087.8L1380 1115.9L1382 1137.5L1383.6 1140.8L1385.3 1159L1387.8 1160.6L1390.3 1157.3L1392.7 1151.5L1394.9 1149L1396.9 1099.4L1398.9 1041.4L1400.7 1034.8L1401.8 1043.1L1403.5 1054.6L1405.2 1046.4L1407.1 1048L1408.8 1066.2L1411 1092.7L1412.6 1096.1L1414.8 1094.4L1416.8 1107.6L1418.4 1117.6L1421.7 1120.1L1427.5 1122.5L1427.9 1122.5" stroke="#0a0a0a" stroke-width="3.1"/>
<path d="M178.5 1050.8L179.1 1050.8L180.3 1057.5L183.2 1121.2L186.1 1075.7L187.4 1079L190.7 1128.7L194.8 1095.5L197.3 1006.1L199 1019.4L200.6 1004.5L202.3 1035.9L203.1 1047.5L204.8 1052.5L205.6 1055.8L207.8 1045.9L209.7 1059.1L212.2 1069.9L213.9 1065.7L215.5 1069L217.2 1065.7L218.9 1102.2L220.2 1118.7L222.2 1098.9L224.6 1095.5L227.1 1052.5L228.8 1060.8L230.4 1050.8L232.1 1054.1L233.4 986.2L234.6 989.6L236.2 1026L237.9 1042.5L240.4 1051.7L242.9 1053.3L266.9 1051.7L268.5 1088.9L270.2 1093.9L271.4 1074L272.7 1095.5L274 1095.5L276 996.2L278 996.2L280.1 1052.5L282.6 1093.9L284.3 1092.2L285.9 1085.6L287.9 1104.6L290.1 992.9L291.7 992.9L294.2 1083.9L295.9 1052.5L297.8 1021L299.5 1017.7L302.5 1035.9L305.8 1044.2L309.1 1050.8L311.6 1064.1L314.1 1098.9L316.6 1117.1L318.2 1098.9L319.9 1098.9L321.5 1124.5L322.7 1124.5L325.7 1093.9L327.3 1098.9L329.8 1093.9L333.1 1016.1L334.8 1015.2L335.6 1045.9L337.3 996.2L338.9 997L339.7 1006.1L341.4 992L342.6 992.9L344.7 1035.9L346.9 1044.2L348.5 1035.9L349.7 1045.9L352.2 1085.6L355.1 1125.4L358 1110.4L361.3 996.2L363.8 979.6L365.1 980.4L367.1 1019.4L369.6 1118.7L371.2 1141.9L374.5 1045.9L377.8 1077.3L382.8 1026L385.3 1054.1L388.6 1024.3L389.8 1027.6L391.9 1018.5L394.4 1042.5L396.9 1047.5L399.4 1016.1L401 1045.9L403.5 1042.5L405.2 1049.2L407.6 1088.9L409.3 1062.4L411.8 1064.1L413.4 1060.8L415.1 1055.8L417.6 1057.5L420.9 1026L425.8 1064.1L427.9 1069.9L430.3 1011.9L431.9 1012.7L434.1 1039.2L436.6 1042.5L439.9 1045.9L444 1047.5L445.7 1069L447.3 1097.2L448.5 1095.5L450.6 1027.6L452.3 1031L453.9 1031L456.4 1049.2L458.4 1052.5L459.7 1064.1L462.6 1038.4L463.9 1040.9L466 1069L467.5 1119.6L468.5 1118.7L470.2 1042.5L472.2 1049.2L474.6 992.9L476.3 993.7L478 1039.2L479.6 1043.4L486.2 1044.2L526 1043.4L527.3 1069L528.5 1088.9L529.6 1088.9L531.8 1039.2L534.3 1017.7L535.9 1018.5L537.6 1040.9L539.6 1043.4L541.7 1043.4L543.4 1069L545 1100.5L546.2 1099.7L548.3 1027.6L550.5 1023.5L552.5 1035.9L555 1040.9L557.5 1045.9L559.9 1060.8L561.6 1035.9L562.8 1012.7L564.1 1013.6L565.4 1041.7L567.4 1042.5L588.1 1042.5L589.7 1045.9L592.2 1102.2L594.7 1145.2L595.9 1145.2L598 1072.4L599.7 1057.5L601.3 1034.3L602.5 1035.1L604.6 1075.7L606.3 1059.1L608 1062.4L610.4 1103.8L611.8 1103.8L613.8 1064.1L615.4 1062.4L616.7 1100.5L617.9 1100.5L619.6 1082.3L621.2 1082.3L622.9 1006.1L625.4 964.7L627 963.9L628.3 994.5L629.5 969.7L631.1 969.7L632.8 1026L635.3 1115.4L636.6 1115.4L637.8 1093.9L639.4 1097.2L641.1 1035.9L642.7 977.1L644.4 977.1L646.1 1019.4L648.5 1087.3L649.9 1087.3L651 1060.8L652.7 1065.7L654.3 997.8L655.7 997.8L657.6 1042.5L659.3 1047.5L661 1016.1L662.6 1021L664.3 1083.1L665.4 1083.1L666.8 1007.8L667.9 1007.8L670.1 1052.5L671.7 1072.4L673.4 1070.7L675.3 1131.9L677.9 1067.4L679.9 1070.7L682.4 1074L684.1 1093.9L685.2 1093.9L686.6 1067.4L688.2 1065.7L689.9 1090.5L691.2 1087.2L693.2 1064L694.8 1021L696.5 958.1L698.5 957.2L699.8 971.3L701.5 1014.4L703.1 1064L705.6 1130.3L707.3 1153.5L708.9 1153.5L711.4 1130.3L713.9 1100.5L715.5 1098.8L717.2 1088.9L718.9 1087.2L720 1095.5L721.3 1030.9L722.7 936.5L724.3 935.7L725.5 997.8L727.1 1080.6L728.8 1141.9L729.9 1130.3L732.1 1030.9L734.3 966.3L735.9 965.5L737.6 969.6L739.2 1014.4L741.2 1080.6L742.9 1093.9L744.5 1097.2L746.5 1125.3L747.8 1123.7L749.2 1082.3L751.1 1083.9L752.8 1095.5L754.8 1110.4L756.1 1110.4L757.8 1083.9L759.1 1085.6L760.8 1120.4L761.9 1120.4L764.4 1088.9L765.7 1090.5L767.4 1130.3L769.4 1156.8L771.4 1156.8L772.7 1150.2L774 1146.8L775.2 1097.2L776.8 1072.3L778.5 1039.2L779.8 1040L781 1080.6L782.3 1047.5L783.4 1047.5L785.1 1080.6L786.4 1097.2L787.6 1088.9L789.6 1032.6L791.7 1031.8L793.4 1074L795 1075.6L796.2 1014.4L797.2 937.4L798.8 936.5L800 997.8L801.7 1097.2L803.3 1146.8L804.5 1113.7L805.8 1141.9L807.1 1113.7L808.3 1080.6L809.4 1097.2L810.8 1141.9L812.1 1113.7L812.9 1044.2L814.1 1044.2L815.4 1067.4L817.1 1069L819 1042.5L820.7 1042.5L822 1052.5L824 1059.1L826 1077.3L828.2 1100.5L829.3 1098.8L830.6 1030.9L832 951.4L833.6 948.1L834.8 981.2L836.4 1080.6L838.1 1163.4L839.7 1160.1L842.2 1064L844.7 958.1L846.9 955.6L848.5 981.2L850.5 1022.6L853 1039.2L856.3 1045.8L862.1 1048.3L883.6 1049.1L885.3 1080.6L886.9 1110.4L888.6 1118.7L890.3 1113.7L891.9 1123.7L893.6 1136.9L894.9 1130.3L896.1 1087.2L897.7 1083.9L899.4 1064L901.8 1014.4L903.5 966.3L905.2 966.3L906.8 1014.4L909.3 1064L911 1093.9L912.1 1067.4L913.4 1069L915.1 1130.3L916.8 1176.7L918.4 1176.7L920.1 1130.3L921.7 1064L922.9 1032.6L924.2 1032.6L925.8 1080.6L927.5 1087.2L928.6 1083.9L930.3 1136.9L931.3 1136.9L932.9 1047.5L934.1 1023.5L935.2 1023.5L936.6 1097.2L937.9 1148.5L939 1146.8L940.2 1042.5L941.9 1041.7L943.2 1130.3L944.3 1173.3L945.2 1163.4L946.8 1047.5L948.2 1047.5L949.5 1065.7L950.6 1064L951.8 981.2L952.8 939.8L954.4 939.8L955.6 973L957.3 992.8L958.9 997.8L960.6 1040.9L962.2 1059.1L963.9 1087.2L965 1087.2L966.4 1006.1L968 1006.1L969.7 1039.2L971.7 1072.3L973.3 1130.3L975.5 1180L977.1 1193.2L978.8 1203.2L979.9 1203.2L980.9 1168.4L982.1 1168.4L983.3 1186.6L984.9 1183.3L986.6 1173.3L987.9 1170.9L989.6 1183.3L991.2 1186.6L992.9 1173.3L995.4 1146.8L997.8 1145.2L1000.3 1145.2L1002 1151.8L1003.6 1173.3L1004.8 1188.2L1006.1 1186.6L1007.8 1163.4L1010.3 1160.1L1012.7 1153.5L1015.2 1153.5L1017.7 1146.8L1019.4 1133.6L1021.4 1143.5L1023.5 1140.2L1026 1148.5L1027.6 1146.8L1029.3 1130.3L1031 1103.8L1033.4 1107.9L1035.9 1100.5L1037.9 1095.5L1039.6 1097.2L1041.7 1094.7L1044.2 1093L1045.9 1102.1L1047.8 1130.3L1049.2 1136.9L1050.8 1133.6L1052.5 1113.7L1054.1 1105.4L1056.1 1110.4L1058.3 1130.3L1059.9 1131.9L1062.4 1122L1064.1 1110.4L1066.6 1100.5L1069 1096.3L1070.7 1113.7L1072.4 1128.6L1074.8 1135.3L1077.3 1127L1079.8 1122L1082.3 1113.7L1083.9 1100.5L1085.6 1098.8L1086.9 1113.7L1088.1 1146.8L1089.7 1188.2L1091.1 1188.2L1093.1 1138.6L1095.5 1130.3L1098 1120.4L1099.7 1128.6L1102.2 1138.6L1103.8 1153.5L1105.1 1153.5L1106.8 1130.3L1108.8 1064L1111.3 1039.2L1113.8 1021L1115.4 1021L1116.7 1064L1118.4 1138.6L1119.6 1080.6L1120.4 1042.5L1121.7 1042.5L1122.9 1097.2L1124 1095.5L1125.4 1014.4L1126.7 966.3L1128.3 966.3L1130 1014.4L1131.1 1080.6L1132.3 1133.6L1133.6 1105.4L1135.3 1183.3L1136.4 1183.3L1137.8 1146.8L1140.3 1088.9L1142.7 1047.5L1144.4 1014.4L1145.6 982.9L1146.9 982.9L1148.2 1030.9L1149.4 1078.9L1151 1072.3L1152.2 1074L1153.5 1113.7L1154.8 1153.5L1156 1151.8L1157.1 1064L1158.1 1029.3L1159.3 1080.6L1161 1146.8L1162.1 1146.8L1163.4 1047.5L1164.8 994.5L1166.4 994.5L1167.6 1030.9L1168.7 1090.5L1170.1 1088.9L1171.4 1059.1L1172.5 1079.5L1174.1 1066.2L1175.8 1039.7L1177 1040.6L1178.3 1069.6L1179.9 1072L1197.3 1072.9L1199 1079.5L1201.5 1082.8L1203.1 1092.7L1204.8 1124.2L1206.8 1149L1208.4 1157.3L1210.1 1152.4L1212.2 1132.5L1214.4 1125L1216.4 1122.5L1218.4 1132.5L1220.5 1165.6L1222.2 1195.4L1223.3 1197.1L1225.5 1173.9L1228 1132.5L1229.3 1066.2L1230.4 1028.2L1232.6 1027.3L1234.3 1066.2L1235.9 1132.5L1237.9 1198.7L1240.4 1255L1242 1255.9L1243.7 1215.3L1245.4 1190.4L1247 1195.4L1248.7 1208.7L1250.3 1213.6L1252 1231.8L1254.1 1261.7L1256.1 1278.2L1258.6 1298.1L1260.8 1300.6L1262.7 1301.4L1264.4 1289.8L1266.1 1256.7L1268.5 1223.6L1271 1190.4L1272.7 1173.1L1274 1173.9L1276 1198.7L1277.3 1213.6L1278.5 1212L1280.1 1182.2L1281.8 1152.4L1283.4 1152.4L1285.1 1182.2L1287.6 1215.3L1290.1 1240.1L1292.5 1278.2L1294.2 1289.8L1296.2 1288.2L1298.3 1265L1300 1198.7L1301.2 1112.6L1303.3 1112.6L1304.5 1165.6L1305.8 1210.3L1307.1 1213.6L1308.3 1190.4L1310.4 1183.8L1312.1 1215.3L1314.1 1265L1315.7 1296.4L1317.4 1301.4L1319.5 1296.4L1321 1298.1L1323.2 1308L1325.3 1315.5L1327.3 1311.3L1329.8 1306.4L1332.3 1299.7L1334.8 1289.8L1336.9 1279.9L1338.9 1298.1L1340.6 1313L1341.9 1318L1343.9 1309.7L1345.9 1308L1349.2 1312.2L1351.3 1298.1L1353.8 1293.1L1356.3 1298.1L1358.8 1314.6L1361.3 1331.2L1363.4 1344.5L1364.8 1348.6L1366.7 1339.5L1368.7 1298.1L1370.1 1215.3L1371.2 1149L1372.9 1115.9L1374.5 1112.6L1376.2 1101L1377.8 1101L1379.5 1132.5L1382 1157.3L1384.5 1173.9L1386.1 1184.6L1388.6 1184.6L1391.1 1179.7L1393.6 1175.5L1395.6 1165.6L1397.2 1115.9L1399.4 1066.2L1401 1054.6L1402.7 1056.3L1403.8 1072.9L1406 1058L1407.6 1056.3L1409.3 1086.1L1411 1101L1413.4 1104.3L1415.1 1115.9L1416.8 1130.8L1420.1 1134.1L1427.5 1137.5L1427.9 1137.5" stroke="#B4201E" stroke-width="3.1"/>
</g>
<path d="M428.4 1385.1v-11.3M428.4 873.1v11.3M678.3 1385.1v-11.3M678.3 873.1v11.3M928.1 1385.1v-11.3M928.1 873.1v11.3M1178.0 1385.1v-11.3M1178.0 873.1v11.3M178.5 937.1h11.3M178.5 1001.1h11.3M178.5 1065.1h11.3M178.5 1129.1h11.3M178.5 1193.1h11.3M178.5 1257.1h11.3M178.5 1321.1h11.3M1427.9 937.1h-11.3M1427.9 1001.1h-11.3M1427.9 1065.1h-11.3M1427.9 1129.1h-11.3M1427.9 1193.1h-11.3M1427.9 1257.1h-11.3M1427.9 1321.1h-11.3" stroke="#000" stroke-width="2.7" stroke-linecap="round" fill="none"/>
<rect x="178.5" y="873.1" width="1249.4" height="512.0" fill="none" stroke="#000" stroke-width="3.1" stroke-linejoin="bevel"/>
<text x="184.1" y="1438.2" font-size="32.4" fill="#000" stroke="#000" text-anchor="middle" textLength="21.6" lengthAdjust="spacingAndGlyphs">3</text>
<text x="434.0" y="1438.2" font-size="32.4" fill="#000" stroke="#000" text-anchor="middle" textLength="54.1" lengthAdjust="spacingAndGlyphs">3.1</text>
<text x="683.9" y="1438.2" font-size="32.4" fill="#000" stroke="#000" text-anchor="middle" textLength="54.1" lengthAdjust="spacingAndGlyphs">3.2</text>
<text x="933.7" y="1438.2" font-size="32.4" fill="#000" stroke="#000" text-anchor="middle" textLength="54.1" lengthAdjust="spacingAndGlyphs">3.3</text>
<text x="1183.6" y="1438.2" font-size="32.4" fill="#000" stroke="#000" text-anchor="middle" textLength="54.1" lengthAdjust="spacingAndGlyphs">3.4</text>
<text x="1433.5" y="1438.2" font-size="32.4" fill="#000" stroke="#000" text-anchor="middle" textLength="54.1" lengthAdjust="spacingAndGlyphs">3.5</text>
<text x="157.9" y="885.0" font-size="32.4" fill="#000" stroke="#000" text-anchor="end" textLength="75.7" lengthAdjust="spacingAndGlyphs">3.95</text>
<text x="157.9" y="949.0" font-size="32.4" fill="#000" stroke="#000" text-anchor="end" textLength="54.1" lengthAdjust="spacingAndGlyphs">3.9</text>
<text x="157.9" y="1013.0" font-size="32.4" fill="#000" stroke="#000" text-anchor="end" textLength="75.7" lengthAdjust="spacingAndGlyphs">3.85</text>
<text x="157.9" y="1077.0" font-size="32.4" fill="#000" stroke="#000" text-anchor="end" textLength="54.1" lengthAdjust="spacingAndGlyphs">3.8</text>
<text x="157.9" y="1141.0" font-size="32.4" fill="#000" stroke="#000" text-anchor="end" textLength="75.7" lengthAdjust="spacingAndGlyphs">3.75</text>
<text x="157.9" y="1205.0" font-size="32.4" fill="#000" stroke="#000" text-anchor="end" textLength="54.1" lengthAdjust="spacingAndGlyphs">3.7</text>
<text x="157.9" y="1269.0" font-size="32.4" fill="#000" stroke="#000" text-anchor="end" textLength="75.7" lengthAdjust="spacingAndGlyphs">3.65</text>
<text x="157.9" y="1333.0" font-size="32.4" fill="#000" stroke="#000" text-anchor="end" textLength="54.1" lengthAdjust="spacingAndGlyphs">3.6</text>
<text x="157.9" y="1397.0" font-size="32.4" fill="#000" stroke="#000" text-anchor="end" textLength="75.7" lengthAdjust="spacingAndGlyphs">3.55</text>
<text x="1483.0" y="885.0" font-size="32.4" fill="#C9982A" stroke="#C9982A" text-anchor="end" textLength="21.6" lengthAdjust="spacingAndGlyphs">4</text>
<text x="1483.0" y="949.0" font-size="32.4" fill="#C9982A" stroke="#C9982A" text-anchor="end" textLength="21.6" lengthAdjust="spacingAndGlyphs">3</text>
<text x="1483.0" y="1013.0" font-size="32.4" fill="#C9982A" stroke="#C9982A" text-anchor="end" textLength="21.6" lengthAdjust="spacingAndGlyphs">2</text>
<text x="1483.0" y="1077.0" font-size="32.4" fill="#C9982A" stroke="#C9982A" text-anchor="end" textLength="21.6" lengthAdjust="spacingAndGlyphs">1</text>
<text x="1483.0" y="1141.0" font-size="32.4" fill="#C9982A" stroke="#C9982A" text-anchor="end" textLength="21.6" lengthAdjust="spacingAndGlyphs">0</text>
<text x="1484.6" y="1205.0" font-size="32.4" fill="#C9982A" stroke="#C9982A" text-anchor="end" textLength="33.9" lengthAdjust="spacingAndGlyphs">-1</text>
<text x="1484.6" y="1269.0" font-size="32.4" fill="#C9982A" stroke="#C9982A" text-anchor="end" textLength="33.9" lengthAdjust="spacingAndGlyphs">-2</text>
<text x="1484.6" y="1333.0" font-size="32.4" fill="#C9982A" stroke="#C9982A" text-anchor="end" textLength="33.9" lengthAdjust="spacingAndGlyphs">-3</text>
<text x="1484.6" y="1397.0" font-size="32.4" fill="#C9982A" stroke="#C9982A" text-anchor="end" textLength="33.9" lengthAdjust="spacingAndGlyphs">-4</text>
<rect x="199.7" y="1229.4" width="650.6" height="139.3" fill="#fff" stroke="#000" stroke-width="1.7"/>
<text x="483.0" y="1270.5" font-size="32.4" fill="#000" stroke="#000" textLength="225.0" lengthAdjust="spacingAndGlyphs">Relative error</text>
<path d="M728.4 1259.3h101" stroke="#CE9E2E" stroke-width="1.8"/>
<text x="251.7" y="1310.6" font-size="32.4" fill="#000" stroke="#000" textLength="456.6" lengthAdjust="spacingAndGlyphs">Experimental measurement</text>
<path d="M728.4 1299.4h101" stroke="#0a0a0a" stroke-width="2.8"/>
<text x="361.4" y="1350.7" font-size="32.4" fill="#000" stroke="#000" textLength="347.4" lengthAdjust="spacingAndGlyphs">Modelling predictions</text>
<path d="M728.4 1339.4h101" stroke="#B4201E" stroke-width="2.8"/>
<text x="697.4" y="1497.8" font-size="33.2" fill="#000" stroke="#000" textLength="214.8" lengthAdjust="spacingAndGlyphs">Time (hours)</text>
<text x="29.2" y="1223.7" font-size="33.4" fill="#000" stroke="#000" textLength="188.0" lengthAdjust="spacingAndGlyphs" transform="rotate(-90 29.2 1223.7)">Voltage (V)</text>
<text x="1546.0" y="1208.3" font-size="33.4" fill="#C9982A" stroke="#C9982A" textLength="159.5" lengthAdjust="spacingAndGlyphs" transform="rotate(-90 1546.0 1208.3)">Error (%)</text>
<text x="1515.8" y="908.4" font-size="47" font-family="Carlito,'Liberation Sans',sans-serif" stroke="none" textLength="55.5" lengthAdjust="spacingAndGlyphs">(b)</text>
<clipPath id="cc"><rect x="157.5" y="1615.6" width="1270.4" height="511.9"/></clipPath>
<path d="M411.6 1615.6V2127.5M665.7 1615.6V2127.5M919.7 1615.6V2127.5M1173.8 1615.6V2127.5M157.5 1679.6H1427.9M157.5 1743.6H1427.9M157.5 1807.6H1427.9M157.5 1871.5H1427.9M157.5 1935.5H1427.9M157.5 1999.5H1427.9M157.5 2063.5H1427.9" stroke="#bcbcbc" stroke-width="1" fill="none"/>
<g clip-path="url(#cc)" fill="none" stroke-linejoin="round">
<path d="M157.5 1934.6L157.9 1934.6L158.3 1942.9L159.9 1959.5L162.4 1999.2L164.9 1949.6L166.6 1952.9L169 1979.4L170.7 1992.6L173.2 1954.5L174.8 1918.1L176.2 1867.6L177.3 1870.1L178.2 1881.7L179.5 1873.4L180.6 1901.5L181.8 1919.7L183.1 1914.8L184.4 1929.7L186.4 1899.9L187.8 1928L189.7 1933L191.4 1946.2L193.4 1934.6L194.7 1941.3L196 1933.8L197.7 1967.8L199.2 1984.3L200.5 1967.8L202.2 1951.2L203.8 1951.2L205.5 1918.1L207.1 1895.7L208.3 1916.4L209.6 1901.5L210.9 1904.8L212.6 1851L213.8 1860.1L215.4 1891.6L217.1 1896.6L218.7 1916.4L220.4 1919.7L246.9 1915.6L248 1934.6L249.4 1963.6L251.4 1931.3L253.5 1961.1L255.2 1918.1L256.8 1850.2L258 1851.8L259.6 1901.5L261.8 1954.5L262.9 1957.8L265.1 1949.6L266.8 1938L268.4 1956.2L269.6 1918.1L270.9 1841.1L272.2 1841.9L273.9 1909.8L275.4 1942.9L276.7 1901.5L278.3 1868.4L280 1861L281.7 1873.4L284.1 1898.2L286.6 1906.5L289.1 1909L291.6 1923.1L294.1 1951.2L295.7 1955.4L297.4 1957L299.9 1937.1L301.5 1949.6L303.7 1934.6L305.7 1914.8L307.3 1916.4L308.6 1921.4L310.6 1916.4L312.3 1885L313.9 1824.5L315.1 1825.4L316.1 1868.4L317.3 1868.4L318.6 1826.2L319.7 1827L321.4 1840.3L323.6 1836.9L324.7 1868.4L325.9 1886.6L327.5 1880L328.9 1894.9L330.2 1876.7L331.3 1901.5L333 1936.3L335.5 1948.7L338 1933L339.6 1934.6L341.3 1878.3L342.9 1821.2L344.6 1831.1L346.2 1833.6L347.9 1901.5L349.2 1948.7L351.2 1939.6L353.4 1933L354.5 1901.5L355.7 1844.4L357 1868.4L359.5 1898.2L361.1 1885L363.6 1848.5L365.3 1835.3L366.9 1878.3L368.6 1873.4L370.6 1842.7L372.7 1848.5L374.4 1842.7L376.1 1880L378.5 1883.3L380.2 1881.7L381.8 1838.6L383.2 1885L385.2 1877.5L386.8 1885L388.5 1909.8L390.1 1931.3L392.1 1891.6L394.3 1896.6L396.8 1885L398.4 1880.8L400.9 1888.3L403 1844.4L404.7 1865.1L406.6 1885L409.1 1905.7L410.3 1903.2L411.9 1851.8L412.9 1832L414.6 1860.1L416.2 1875L418.2 1876.7L420.7 1880L423.2 1881.7L426.5 1882.5L428.2 1909.8L429.8 1929.7L431.1 1928L432.8 1885L433.9 1848.5L435.6 1855.2L437.3 1856.8L438.9 1880L441.4 1886.6L443.4 1901.5L445.5 1863.4L446.9 1863.4L448.9 1898.2L450.5 1935.5L451.7 1933L453 1868.4L454.3 1851.8L455.5 1868.4L456.8 1835.3L458 1820.4L459.6 1822.9L460.9 1851.8L462.1 1877.5L466.2 1877.5L510.6 1876.4L511.8 1901.5L512.9 1924.7L514.3 1923.1L515.9 1861.8L517.9 1855.2L519.2 1839.4L520.6 1841.9L522.2 1873.4L524.5 1875.9L526.7 1878.3L528.3 1909.8L529.5 1929.7L530.8 1928L532.2 1868.4L533.8 1841.1L535.5 1841.9L537.1 1861.8L539.1 1868.4L541.6 1875L543.2 1885L544.4 1895.7L545.7 1891.6L547.4 1828.7L548.7 1830.3L549.9 1878.3L551.5 1873.4L573.9 1873.4L575.5 1901.5L577.2 1929.7L578.5 1928L580.5 1908.2L581.8 1893.2L583 1858.5L584.6 1856.8L586.3 1824.5L588 1827L589.6 1871.7L591.3 1886.6L592.9 1863.4L594.1 1866.8L595.7 1893.2L597.1 1898.2L598.7 1878.3L600.7 1850.2L601.7 1851.8L602.9 1893.2L604 1885L605.4 1868.4L606.7 1871.7L608.3 1818.7L609.5 1783.1L610.6 1788.9L612 1790.6L613.6 1812.1L614.8 1812.1L616.1 1798.9L617.8 1835.3L619.4 1885L621.1 1918.9L622.2 1909.8L623.6 1898.2L625.2 1899.9L626.9 1835.3L628.5 1786.4L630.2 1807.1L631.8 1868.4L633.5 1904.8L635.2 1899.9L637.1 1865.1L639.3 1880L641 1790.6L642.6 1818.7L644.3 1851.8L645.4 1858.5L646.8 1835.3L648.1 1823.7L649.7 1868.4L651.4 1909.8L653 1851.8L654.7 1807.1L655.8 1851.8L657.5 1896.6L659.1 1886.6L660.8 1904.8L662.4 1911.5L664.1 1888.3L665.7 1853.5L667.9 1863.4L669.5 1868.4L670.7 1856.8L672.4 1887.5L674 1850.2L675.7 1851L677.3 1873.4L679 1860.1L680.6 1835.3L682.3 1802.2L683.9 1775.7L685.1 1802.2L686.8 1805.5L688.4 1827L689.7 1868.4L691.1 1896.6L692.7 1904.8L694.4 1893.2L696 1868.4L698 1865.1L699.7 1860.1L701.3 1851.8L702.7 1848.5L703.8 1858.5L705.5 1834.5L707.1 1848.5L708.3 1818.7L709.6 1769L710.4 1742.5L711.6 1810.4L712.9 1803.8L714.3 1851.8L715.4 1894.9L717.1 1895.7L718.7 1835.3L720.4 1785.6L722 1768.2L723.7 1788.9L725.8 1793.9L727.5 1835.3L729.2 1899L731.1 1881.7L733.1 1885L734.8 1887.5L736.4 1865.1L737.8 1851L739.4 1855.2L741.1 1865.1L743.1 1863.4L744.4 1868.4L746.1 1838.6L747.4 1841.9L749 1866.8L750.7 1848.5L752.3 1841.9L754 1830.3L755.2 1861.8L756.8 1843.6L758 1853.5L759.3 1823.7L760.6 1843.6L762.3 1810.4L763.9 1798.9L765.6 1769L767.2 1739.2L768.4 1785.6L769.6 1824.5L770.9 1760.8L772.2 1818.7L773.9 1838.6L775.5 1835.3L777.2 1785.6L778.8 1759.1L780.5 1757.5L781.7 1802.2L782.8 1832L784.1 1830.3L785.5 1769L786.5 1747.5L787.5 1793.9L788.8 1802.2L789.9 1851.8L791.3 1891.6L792.8 1855.2L794.1 1875L795.7 1851.8L797.4 1819.6L798.7 1843.6L799.9 1868.4L801 1835.3L802.4 1785.6L804 1802.2L805.7 1812.1L807.3 1810.4L808.6 1785.6L809.8 1777.3L811 1802.2L812.6 1807.1L813.9 1827L815.6 1835.3L817.6 1861.8L819.2 1835.3L820.9 1769L822.2 1748.3L823.6 1798.9L825.2 1802.2L826.4 1868.4L827.5 1904.8L828.9 1851.8L830.5 1850.2L832.2 1818.7L833.8 1769L835.5 1752.5L836.8 1795.5L838.5 1793.9L840.1 1818.7L842.1 1833.6L843.8 1835.3L845.4 1844.4L865.3 1845.2L874.4 1845.6L875.6 1868.4L876.9 1903.2L878.5 1891.6L880.5 1885L881.8 1878.3L883.5 1880L885.2 1865.1L886.8 1835.3L888.5 1836.9L890.1 1785.6L891.5 1762.4L893.4 1764.9L895.1 1777.3L896.8 1793.9L898.4 1818.7L900.1 1868.4L901.7 1895.7L903.4 1851.8L904.7 1894.9L906.6 1888.3L908.3 1851.8L909.9 1831.1L911.9 1840.3L913.6 1785.6L914.9 1757.5L916.6 1836.9L918.5 1827L920.7 1865.1L922.4 1835.3L924.5 1785.6L926.5 1818.7L928.2 1868.4L929.5 1868.4L931.1 1818.7L932.8 1785.6L933.9 1835.3L935.1 1868.4L936.8 1818.7L938.9 1769L940.6 1792.2L942.2 1760.8L943.4 1749.2L944.7 1802.2L946.4 1802.2L948 1785.6L949.7 1787.3L951.7 1818.7L953.3 1848.5L955 1868.4L956.3 1891.6L957.6 1835.3L958.8 1770.7L960.4 1802.2L961.6 1851.8L963.3 1893.2L964.3 1909.8L965.4 1885L967.1 1868.4L968.7 1835.3L970.4 1802.2L972 1788.9L973.7 1810.4L976.2 1808.8L978.7 1810.4L981.1 1815.4L983.6 1803.8L986.1 1807.1L988.6 1815.4L991.1 1818.7L993.6 1822L996.1 1828.7L998.5 1810.4L1000.2 1815.4L1002.3 1823.7L1004.7 1828.7L1007.3 1825.4L1009.6 1827L1011.8 1820.4L1013.9 1835.3L1015.9 1832L1017.6 1835.3L1019.2 1843.6L1021.7 1835.3L1023.9 1818.7L1025.9 1807.1L1027.8 1815.4L1029.5 1802.2L1031.2 1807.1L1032.8 1818.7L1035 1817.1L1037.5 1818.7L1039.1 1835.3L1040.8 1860.1L1042.4 1871.7L1044.1 1865.1L1045.7 1843.6L1047.4 1833.6L1049.4 1843.6L1051 1866.8L1052.7 1863.4L1054.3 1858.5L1056.5 1855.2L1058.6 1832L1060.6 1830.3L1062.6 1821.2L1063.9 1835.3L1065.6 1865.1L1067.3 1871.7L1069.2 1863.4L1071.4 1858.5L1073.6 1850.2L1075.5 1841.9L1077.5 1835.3L1079.2 1820.4L1080.5 1851.8L1082.2 1883.3L1083.5 1868.4L1085.1 1851.8L1087.1 1843.6L1089.1 1848.5L1091.3 1832L1092.9 1838.6L1095.1 1851.8L1097.4 1865.1L1099.6 1851.8L1101.2 1835.3L1102.9 1802.2L1105.4 1769L1107.8 1760.8L1109.5 1769L1111.1 1868.4L1112.5 1919.7L1114 1835.3L1115.3 1785.6L1116.6 1835.3L1118.3 1876.7L1119.9 1802.2L1121.6 1749.2L1123.2 1832L1124.4 1835.3L1125.6 1964.5L1127.2 1904.8L1128.9 1936.3L1130.5 1901.5L1132.2 1885L1134.3 1851.8L1136.5 1810.4L1138.5 1793.9L1140.1 1788.9L1141.8 1818.7L1143.4 1893.2L1145.1 1868.4L1146.8 1873.4L1148.7 1939.6L1150.4 1901.5L1152.1 1835.3L1153.4 1833.6L1154.7 1885L1156.4 1938L1157.9 1868.4L1159.6 1782.3L1161.3 1818.7L1162.9 1885L1164.1 1911.5L1165.2 1868.4L1166.6 1843.6L1167.9 1868.4L1169.5 1885L1171.2 1817.9L1172.9 1851.8L1174 1882.5L1176.5 1879.2L1193.1 1878.7L1194.4 1891.6L1197.2 1893.2L1198.9 1909.8L1201 1938L1203 1926.4L1205.5 1909.8L1208 1891.6L1210.4 1886.6L1212.6 1878.3L1214.6 1894.9L1216.2 1895.7L1218.2 1860.1L1219.9 1841.9L1221.5 1818.7L1223.7 1769L1225.4 1732.6L1226.5 1735.9L1228.7 1769L1230.3 1851.8L1232 1899.9L1233.1 1899.9L1234.5 1835.3L1236.1 1769L1237.8 1717.7L1239.1 1715.2L1240.3 1752.5L1241.4 1802.2L1242.7 1828.7L1244.1 1828.7L1245.7 1818.7L1247.7 1812.9L1249.4 1769L1251 1735.9L1252.7 1711.1L1254 1686.2L1255.2 1659.7L1256.8 1663.1L1258.5 1702.8L1259.5 1785.6L1260.5 1850.2L1262.6 1984.3L1264.9 2125.9L1267.9 2167.5" stroke="#CE9E2E" stroke-width="2.2"/>
<path d="M157.5 1682.6L157.9 1682.6L158.3 1683.3L159.9 1691.4L162.4 1716.5L163.6 1715.9L165.2 1697.9L166.6 1698.8L168.2 1713L170.2 1725.5L171.2 1724.8L173.2 1716.5L174.8 1713L176.2 1671L177.3 1668.5L178.5 1670.4L179.8 1663.2L181 1663.3L181.8 1681.6L183.1 1679L184.8 1686.1L186.4 1678.8L187.8 1684.8L189.7 1688.2L191.4 1692.3L193.1 1690.4L195 1696.2L196.7 1691.9L198.4 1709.9L199.7 1719.8L200.5 1718.8L202.2 1714.2L204.3 1715.7L206.3 1699.9L207.6 1689.9L208.8 1697L209.9 1689.7L211.3 1694L212.6 1658.1L214.6 1658L215.9 1676L217.9 1685L220.4 1685.4L222.9 1686.2L246.9 1687.1L248 1692.7L249 1705.8L250.2 1711.2L251.4 1700.4L252.3 1709.7L254.3 1711.3L256 1682.2L257.3 1663.3L259 1663.3L260.6 1685.4L262.6 1710.7L263.9 1713.8L265.1 1708L266.3 1712.3L267.9 1720.3L268.9 1719.7L270.6 1698.1L271.2 1664.6L272.9 1664.6L274.2 1688.3L275.4 1706.8L276.7 1696.6L278.3 1679L280 1674.7L281.7 1679L284.1 1682.7L286.6 1685L289.1 1689.2L291.6 1699.7L294.1 1710.8L296.6 1728.3L297.7 1728.3L299 1722.7L300.7 1722.6L302.4 1740L303.7 1738.3L305.7 1729L307 1724L308.6 1728.6L310.6 1726.9L312.3 1718.5L313.9 1688L315.6 1680.9L316.4 1698.8L317.6 1698L318.6 1673.5L320.6 1671.1L321.4 1679.7L323.1 1665.9L324.7 1665.9L325.9 1674.8L328 1691.7L329.2 1680.2L331.3 1693.3L333 1705.5L335.5 1736.8L337.1 1741.8L339.1 1733L341.3 1717.2L343.4 1684.8L345.4 1662.6L347.4 1659.4L348.7 1667.1L350.4 1730.1L352.9 1751.9L354 1753.4L355.4 1739.3L356.2 1705.3L357.3 1706.4L359 1712.8L360.3 1719.5L362.8 1706.2L364.5 1691.8L365.6 1691.7L367.3 1704L368.6 1702.2L370.6 1688.8L371.9 1691L373.6 1684.6L374.9 1682.1L376.1 1690.2L378.5 1697.4L380.2 1699.1L381.4 1683.1L382.7 1682.9L383.8 1694.4L386 1694.8L387.6 1694.6L389.3 1712.2L390.5 1719L391.8 1707.6L394.3 1706.5L395.9 1708.2L397.6 1704.2L400.1 1701.6L401.7 1704.2L403.4 1689.8L404.7 1689.9L406.6 1698.5L408.6 1708.2L410.8 1711.1L412.4 1683.7L414.1 1682.9L415.7 1691.5L418.2 1692.9L420.7 1694.3L424 1695L426.5 1696L428.2 1707.3L429.8 1724.4L431.5 1724.4L432.8 1701.9L433.9 1691.1L435.6 1691.5L437.3 1690.9L438.9 1696.8L441.4 1701.3L443.4 1706.6L445.5 1696.3L447.2 1696.3L448.9 1697.7L450.5 1738.4L451.7 1738.5L453.3 1700.1L455.5 1705.5L457.1 1690.9L458.3 1673.7L459.9 1673.7L461.6 1694.5L463.8 1695.1L466.2 1695.9L510.1 1696.3L511.8 1709.9L513.4 1720.9L514.6 1719.2L516.3 1701.3L517.9 1691.5L519.2 1685.7L520.9 1685.7L522.5 1693.8L525 1695.5L527.2 1694.3L528.8 1712.9L530 1727.7L531.2 1726L532.8 1707.2L534.5 1692.6L535.8 1691L537.5 1694L539.9 1696.5L542.4 1698.5L544.1 1706.1L545.4 1707.7L547.1 1702.5L548.2 1685.8L549.4 1685.8L550.7 1694.9L553.2 1696.2L573.9 1696.9L574.7 1696.9L576.4 1705.4L578 1743.1L580.5 1759.8L581.8 1762.8L583 1740L584.6 1720.7L586.3 1706.1L587.6 1706L589.1 1716.9L590.8 1723.1L592.1 1715L593.8 1721.2L595.4 1740.8L597.1 1745.9L598.7 1737.1L600.4 1726L601.7 1725.2L602.9 1742.4L604 1741L605.4 1736.9L607 1740.8L609 1725.7L610.6 1695.9L612 1669.8L613.6 1667.9L615 1677.7L616.1 1665L617.3 1665.6L618.6 1689.9L620.3 1718.1L621.9 1741.3L623.2 1739.6L624.4 1737.3L625.6 1742.7L626.9 1714.2L628.9 1673.7L630.5 1665.8L631.8 1687.2L633.5 1715.5L635.5 1725.5L637.1 1718.1L639.3 1720L641 1690.5L642.1 1688.3L643.8 1703.9L645.9 1707.1L647.6 1691.4L648.9 1687.7L650.4 1715.1L651.7 1722.6L653.4 1695.3L654.2 1689.8L656.6 1702L658.3 1713.1L660.3 1718.9L661.9 1740.7L663.2 1755.2L664.6 1750.5L665.7 1731.6L667.4 1727.5L669 1727.4L670.7 1730.6L672.4 1739.3L673.5 1737.8L674.8 1729.3L676.2 1729.3L677.3 1738.7L679 1738.7L680.6 1730.7L682.8 1710.6L684.4 1665.5L686.1 1666.2L687.8 1670.2L689.4 1698.8L691.4 1727.6L693.4 1760.2L695 1780.4L697.2 1782.6L698.9 1780L701.3 1766.8L703 1758.7L705 1756.7L707.1 1750.5L708.8 1757.9L709.9 1705.4L710.9 1669.7L712.9 1668.2L714.3 1676L715.4 1728.6L716.6 1769.9L717.9 1769.9L719.6 1738.4L721.2 1691.5L722.9 1674.7L725.4 1672.7L727 1677L728.7 1700.2L730.3 1735.5L732 1744L733.6 1746.4L734.8 1760.8L736.1 1761.7L737.4 1744.5L739.4 1742.3L741.1 1747.9L742.7 1751.6L744.4 1760.1L745.7 1749.3L746.9 1749.4L748.5 1761.2L750.2 1765.7L751.4 1767.4L752.7 1760L754.3 1759.9L755.7 1773.7L757.3 1779.6L759 1797.8L761 1800.8L762.9 1810.3L764.3 1784.6L765.9 1761L767.2 1742.2L768.9 1742.1L770.1 1742.9L771.2 1737.7L772.5 1742.1L773.9 1746.1L775.5 1762.6L777.2 1746L778.8 1731.8L780.8 1730.9L782.5 1734.3L783.8 1748.2L785 1727.7L786.1 1672L788.3 1658.3L789.4 1699.2L790.8 1742.6L792.4 1777.4L794.1 1764.7L795.7 1782.9L797.1 1758.4L798.2 1758.1L799.4 1773.3L801 1786.8L802 1758.5L802.7 1732.8L804 1733.7L805.3 1746.7L807.3 1747.7L808.6 1734.4L810.3 1734.4L811.5 1735.5L813.1 1737.1L814.8 1745.1L816.4 1753.6L818.1 1762.3L819.2 1760.5L820.6 1730.7L821.9 1682.6L823.1 1677.3L824.7 1665.9L825.9 1696.3L827.2 1745.4L828.9 1790.7L830.2 1793.5L832.2 1768.7L834.2 1719.4L835.8 1679.3L838 1671.3L839.6 1688.9L841.3 1705.2L842.9 1712.8L845.4 1718L848.7 1720.4L855.4 1721.9L865.3 1722.1L874.4 1722.2L875.6 1736.9L877.2 1755L879.4 1768.7L881 1765.7L882.7 1775L884.8 1783L886.5 1761.8L887.6 1758.4L889.3 1764.3L891 1750.4L892.6 1720L894.3 1685.2L896.4 1682.5L898.1 1688.1L900.1 1712.1L901.7 1728.4L902.9 1756.2L904.2 1732L906.6 1780.5L908.6 1805L910.3 1820.4L912.4 1808.2L914.1 1749.2L915.2 1734.6L916.6 1758.2L918.2 1762.3L919.5 1755.8L921.2 1791.1L922.9 1791.2L924.5 1746L925.7 1719.5L927.3 1728.1L929.5 1794.8L930.6 1793.2L932.3 1742.9L933.5 1734L934.8 1772.9L936.4 1813.3L937.8 1808.3L939.4 1744L940.6 1757L942.2 1753.5L943.4 1708.3L944.7 1677.3L946.4 1663.9L948 1692L950.5 1695.6L952.2 1708.4L953.8 1718.1L955.5 1725.9L957.1 1746.7L958.3 1742.1L959.3 1710.3L960.9 1711.1L962.1 1713.4L963.8 1726.6L965.4 1773.2L967.1 1803.1L968.7 1834.4L970.4 1853.9L972 1852.9L973.7 1843L974.9 1845.2L977 1843.7L979.2 1840.4L980.8 1840.6L982.5 1846.8L984.1 1848.4L985.8 1834.6L987.8 1826.6L990.3 1822.4L992.7 1823.1L994.4 1822.9L996.1 1836.4L998 1845.5L1000.2 1838.6L1002.7 1832.7L1006 1829.5L1009.3 1828.6L1011.3 1823.6L1012.9 1817.4L1015.1 1822.9L1017.2 1819.8L1019.2 1822.1L1021.2 1823L1022.9 1815.7L1024.5 1794.4L1026.2 1794.7L1027.5 1796.3L1029.5 1793.3L1031.7 1788.3L1033.3 1787.7L1035 1787.2L1037.8 1784.7L1039.4 1788.5L1041.1 1801.6L1042.8 1809.6L1044.4 1808.8L1046.1 1802.9L1047.7 1793.7L1049.9 1793.6L1051.5 1803.9L1053.7 1810.4L1056 1806.9L1058.2 1799.2L1060.3 1793L1063.1 1790.8L1064.8 1800.3L1067.3 1807.1L1069.7 1812.2L1072.2 1808.7L1075.2 1807.3L1077.2 1802.8L1078.9 1796L1080.2 1795.9L1081.3 1803.4L1083 1834.6L1084.6 1850.3L1085.8 1852.5L1087.1 1835.3L1088.5 1827.7L1090.1 1827.8L1091.8 1815.6L1093.8 1822.1L1095.7 1825.1L1097.4 1835.5L1099.6 1837.3L1101.2 1829.5L1102.9 1790L1104 1775.1L1106.2 1764.9L1107.8 1753.5L1109 1750.2L1110.3 1750.2L1111.6 1764.1L1112.8 1806.4L1114 1780.1L1115 1757.1L1116.1 1756.6L1117.3 1775.1L1118.6 1784.5L1119.9 1757.3L1121.6 1719.7L1123.2 1695.5L1124.4 1714.2L1125.6 1740.2L1126.9 1801.8L1128.5 1801.1L1130.2 1829.5L1131.5 1830.9L1133.2 1811L1135.2 1779.9L1137.1 1756.4L1139.3 1727.8L1140.5 1717.1L1142.1 1717.1L1143.4 1729.1L1144.8 1768.5L1146.8 1770.1L1148.1 1788.2L1149.7 1810.5L1150.9 1810.3L1152.1 1780.1L1152.9 1732.8L1154.2 1727.8L1155.4 1775L1156.7 1807.5L1157 1827L1158.3 1769L1159.9 1706.1L1161.9 1705.3L1163.2 1752.5L1164.6 1779L1165.7 1760.8L1166.9 1746.7L1168.2 1747.5L1169.5 1766.6L1170.7 1749.2L1171.5 1731.8L1172.9 1735.9L1174 1755.8L1175.7 1759.9L1183.1 1760.4L1192.2 1760.4L1193.9 1764.1L1196.4 1766.6L1198.9 1770.7L1200.5 1785.6L1202.7 1810.4L1204.6 1825.4L1207.1 1813.8L1209.6 1809.6L1212.6 1808L1214.6 1812.1L1216.2 1835.3L1218.2 1872.5L1219.9 1871.7L1222 1851.8L1224.2 1835.3L1225.8 1802.2L1227.8 1757.5L1229.5 1785.6L1232 1835.3L1234.5 1901.5L1236.1 1926.4L1237.8 1952.9L1239.1 1952.9L1240.3 1918.1L1241.9 1891.6L1243.6 1893.2L1245.2 1901.5L1247.4 1918.1L1249.4 1942.9L1251.6 1983.8L1253.5 2009.2L1255.4 2030.9L1257.3 2039.8L1259.2 2045.5L1260.9 2038.5L1262.4 2002.9L1264.3 1964.6L1266.2 1945.5L1267.5 1926.4L1268.8 1907.3L1270.1 1900.3L1271.6 1904.8L1272.9 1916.2L1274.1 1926.4L1276.2 1926.4L1277.1 1913.7L1278.3 1892L1279.6 1882.5L1280.5 1880.6L1281.8 1901L1284.1 1921.3L1286.6 1934.1L1288.5 1951.9L1290.4 1990.1L1292 2022L1293 2034.7L1294.3 2035.4L1295.5 2028.3L1296.8 2009.2L1298.1 1964.6L1299.4 1901L1300.4 1869.1L1301.9 1869.7L1302.9 1901L1303.8 1926.4L1304.7 1934.7L1306.4 1926.4L1307.3 1918.2L1308.5 1918.8L1309.8 1939.2L1311.5 1977.4L1313.1 2028.3L1314.6 2066.6L1315.9 2079.3L1317.2 2084.4L1318.7 2085.7L1320.4 2104.8L1322 2127.1" stroke="#0a0a0a" stroke-width="3.1"/>
<path d="M157.5 1702.8L157.9 1702.8L158.3 1706.1L159.9 1719.4L162.4 1756.6L163.6 1755.8L165.2 1722.7L166.6 1723.5L168.2 1744.2L170.2 1763.2L171.2 1762.4L173.2 1742.5L174.8 1727.6L176.2 1669.7L177.3 1668L178.5 1673L179.8 1663.1L181 1663.9L181.8 1697L183.1 1692.9L184.8 1704.5L186.4 1687.9L187.8 1702.8L189.7 1707.8L191.4 1716.1L193.1 1711.1L195 1717.7L196.7 1716.1L198.4 1742.5L199.7 1755L200.5 1754.1L202.2 1739.2L204.3 1737.6L206.3 1711.1L207.6 1697.8L208.8 1709.4L209.9 1699.5L211.3 1701.1L212.6 1651.5L214.6 1651.5L215.9 1682.9L217.9 1696.2L220.4 1700.8L222.9 1701.5L246.9 1701.1L248 1712.7L249 1732.6L250.2 1735.9L251.4 1719.4L252.3 1737.6L254.3 1739.2L256 1686.2L257.3 1656.4L259 1656.4L260.6 1702.8L262.6 1737.6L263.9 1740.9L265.1 1732.6L266.3 1734.3L267.9 1746.7L268.9 1745.9L270.6 1694.5L271.2 1654.8L272.9 1654.8L274.2 1702.8L275.4 1729.3L276.7 1706.1L278.3 1678L280 1671.3L281.7 1679.6L284.1 1691.2L286.6 1696.2L289.1 1701.1L291.6 1716.1L294.1 1735.9L296.6 1755L297.7 1755L299 1743.4L300.7 1743.4L302.4 1764.1L303.7 1762.4L305.7 1742.5L307 1737.6L308.6 1744.2L310.6 1740.9L312.3 1722.7L313.9 1673L315.6 1673L316.4 1697.8L317.6 1697L318.6 1658.9L320.6 1658.9L321.4 1669.7L323.1 1653.9L324.7 1654.8L325.9 1679.6L328 1696.2L329.2 1686.2L331.3 1702.8L333 1726L335.5 1760.8L337.1 1765.7L339.1 1752.5L341.3 1719.4L343.4 1669.7L345.4 1646.5L347.4 1646.5L348.7 1686.2L350.4 1752.5L352.9 1774L354 1774L355.4 1735.9L356.2 1697L357.3 1697.8L359 1719.4L360.3 1727.6L362.8 1702.8L364.5 1680.4L365.6 1680.4L367.3 1706.1L368.6 1702.8L370.6 1679.6L371.9 1682.9L373.6 1676.3L374.9 1673L376.1 1692.9L378.5 1701.1L380.2 1702.8L381.4 1673L382.7 1673L383.8 1697.8L386 1697.8L387.6 1702.8L389.3 1727.6L390.5 1737.6L391.8 1716.1L394.3 1714.4L395.9 1716.1L397.6 1707.8L400.1 1706.1L401.7 1709.4L403.4 1681.3L404.7 1681.3L406.6 1702.8L408.6 1717.7L410.8 1721.8L412.4 1671.3L414.1 1670.5L415.7 1691.2L418.2 1694.5L420.7 1697L424 1697.8L426.5 1699.5L428.2 1719.4L429.8 1742.5L431.5 1742.5L432.8 1706.1L433.9 1683.8L435.6 1686.2L437.3 1686.2L438.9 1699.5L441.4 1706.1L443.4 1716.1L445.5 1693.7L447.2 1693.7L448.9 1706.1L450.5 1758.3L451.7 1758.3L453.3 1697.8L455.5 1704.5L457.1 1678L458.3 1657.3L459.9 1657.3L461.6 1692.9L463.8 1697L466.2 1697.8L510.1 1697.8L511.8 1719.4L513.4 1737.6L514.6 1735.9L516.3 1697.8L517.9 1686.2L519.2 1675.5L520.9 1675.5L522.5 1694.5L525 1697L527.2 1699.5L528.8 1727.6L530 1745.9L531.2 1744.2L532.8 1702.8L534.5 1682.9L535.8 1681.3L537.5 1691.2L539.9 1696.2L542.4 1701.1L544.1 1712.7L545.4 1715.2L547.1 1692.9L548.2 1672.2L549.4 1672.2L550.7 1697L553.2 1697.5L574.7 1697.5L576.4 1719.4L578 1760.8L580.5 1777.3L581.8 1777.3L583 1735.9L584.6 1716.1L586.3 1691.2L587.6 1691.2L589.1 1712.7L590.8 1727.6L592.1 1716.1L593.8 1719.4L595.4 1745.9L597.1 1754.1L598.7 1739.2L600.4 1719.4L601.7 1718.5L602.9 1749.2L604 1747.5L605.4 1735.9L607 1737.6L609 1702.8L610.6 1669.7L612 1641.5L613.6 1641.5L615 1658.1L616.1 1641.5L617.3 1642.4L618.6 1686.2L620.3 1727.6L621.9 1755.8L623.2 1754.1L624.4 1745.9L625.6 1747.5L626.9 1702.8L628.9 1646.5L630.5 1649L631.8 1686.2L633.5 1726L635.5 1735.9L637.1 1716.1L639.3 1722.7L641 1664.7L642.1 1663.1L643.8 1694.5L645.9 1702.8L647.6 1676.3L648.9 1679.6L650.4 1719.4L651.7 1734.3L653.4 1686.2L654.2 1669.7L656.6 1702.8L658.3 1719.4L660.3 1727.6L661.9 1752.5L663.2 1767.4L664.6 1752.5L665.7 1726L667.4 1721.8L669 1726L670.7 1726L672.4 1744.2L673.5 1742.5L674.8 1722.7L676.2 1722.7L677.3 1739.2L679 1739.2L680.6 1719.4L682.8 1686.2L684.4 1638.2L686.1 1635.7L687.8 1653.1L689.4 1694.5L691.4 1735.9L693.4 1769L695 1783.9L697.2 1787.3L698.9 1777.3L701.3 1760.8L703 1752.5L705 1747.5L707.1 1743.4L708.8 1735.9L709.9 1669.7L710.9 1629.1L712.9 1628.3L714.3 1669.7L715.4 1735.9L716.6 1777.3L717.9 1777.3L719.6 1719.4L721.2 1661.4L722.9 1644.8L725.4 1643.2L727 1661.4L728.7 1702.8L730.3 1740.9L732 1747.5L733.6 1750.8L734.8 1765.7L736.1 1766.6L737.4 1739.2L739.4 1735.9L741.1 1745.9L742.7 1749.2L744.4 1759.1L745.7 1739.2L746.9 1739.2L748.5 1757.5L750.2 1764.1L751.4 1765.7L752.7 1747.5L754.3 1747.5L755.7 1769L757.3 1772.4L759 1792.2L761 1792.2L762.9 1790.6L764.3 1760.8L765.9 1727.6L767.2 1701.1L768.9 1701.1L770.1 1727.6L771.2 1707.8L772.5 1707.8L773.9 1735.9L775.5 1752.5L777.2 1719.4L778.8 1696.2L780.8 1695.4L782.5 1719.4L783.8 1735.9L785 1702.8L786.1 1632.4L788.3 1634.9L789.4 1686.2L790.8 1744.2L792.4 1783.1L794.1 1765.7L795.7 1783.9L797.1 1742.5L798.2 1742.5L799.4 1769L801 1785.6L802 1735.9L802.7 1706.1L804 1706.9L805.3 1727.6L807.3 1729.3L808.6 1705.3L810.3 1705.3L811.5 1714.4L813.1 1719.4L814.8 1732.6L816.4 1745.9L818.1 1759.1L819.2 1757.5L820.6 1702.8L821.9 1644.8L823.1 1638.2L824.7 1643.2L825.9 1686.2L827.2 1752.5L828.9 1800.5L830.2 1800.5L832.2 1752.5L834.2 1686.2L835.8 1641.5L838 1646.5L839.6 1669.7L841.3 1691.2L842.9 1701.1L845.4 1709.4L848.7 1711.9L855.4 1713.6L874.4 1714.1L875.6 1735.9L877.2 1764.1L879.4 1774L881 1769L882.7 1777.3L884.8 1785.6L886.5 1752.5L887.6 1747.5L889.3 1745.9L891 1719.4L892.6 1686.2L894.3 1653.1L896.4 1649.8L898.1 1669.7L900.1 1711.1L901.7 1735.9L902.9 1754.1L904.2 1734.3L906.6 1785.6L908.6 1810.4L910.3 1808.8L912.4 1793.9L914.1 1719.4L915.2 1699.5L916.6 1747.5L918.2 1749.2L919.5 1747.5L921.2 1788.9L922.9 1788.9L924.5 1719.4L925.7 1692.9L927.3 1719.4L929.5 1793.9L930.6 1792.2L932.3 1719.4L933.5 1707.8L934.8 1769L936.4 1812.1L937.8 1785.6L939.4 1714.4L940.6 1732.6L942.2 1719.4L943.4 1669.7L944.7 1638.2L946.4 1641.5L948 1664.7L950.5 1673L952.2 1694.5L953.8 1712.7L955.5 1727.6L957.1 1752.5L958.3 1719.4L959.3 1678.8L960.9 1679.6L962.1 1711.1L963.8 1735.9L965.4 1777.3L967.1 1802.2L968.7 1823.7L970.4 1833.6L972 1836.9L973.7 1818.7L974.9 1827L977 1825.4L979.2 1822L980.8 1821.2L982.5 1830.3L984.1 1828.7L985.8 1815.4L987.8 1807.1L990.3 1806.3L992.7 1807.1L994.4 1808.8L996.1 1823.7L998 1832.8L1000.2 1822L1002.7 1818.7L1006 1816.2L1009.3 1815.4L1011.3 1808.8L1012.9 1802.2L1015.1 1812.1L1017.2 1808.8L1019.2 1813.8L1021.2 1814.6L1022.9 1802.2L1024.5 1777.3L1026.2 1775.7L1027.5 1779L1029.5 1772.4L1031.7 1769.9L1033.3 1771.5L1035 1770.7L1037.8 1768.2L1039.4 1779L1041.1 1798.9L1042.8 1809.6L1044.4 1808.8L1046.1 1793.9L1047.7 1782.3L1049.9 1787.3L1051.5 1802.2L1053.7 1808.8L1056 1802.2L1058.2 1788.9L1060.3 1780.6L1063.1 1775.7L1064.8 1793.9L1067.3 1807.1L1069.7 1812.1L1072.2 1803.8L1075.2 1798.9L1077.2 1792.2L1078.9 1780.6L1080.2 1780.6L1081.3 1802.2L1083 1835.3L1084.6 1853.5L1085.8 1851.8L1087.1 1827L1088.5 1820.4L1090.1 1818.7L1091.8 1803.8L1093.8 1813.8L1095.7 1820.4L1097.4 1833.6L1099.6 1835.3L1101.2 1818.7L1102.9 1769L1104 1749.2L1106.2 1732.6L1107.8 1719.4L1109 1716.1L1110.3 1716.1L1111.6 1769L1112.8 1820.4L1114 1769L1115 1731L1116.1 1731L1117.3 1769L1118.6 1785.6L1119.9 1735.9L1121.6 1681.3L1123.2 1682.9L1124.4 1702.8L1125.6 1769L1126.9 1815.4L1128.5 1818.7L1130.2 1848.5L1131.5 1848.5L1133.2 1810.4L1135.2 1769L1137.1 1735.9L1139.3 1702.8L1140.5 1691.2L1142.1 1691.2L1143.4 1735.9L1144.8 1769L1146.8 1770.7L1148.1 1802.2L1149.7 1830.3L1150.9 1830.3L1152.1 1769L1152.9 1721L1154.2 1726L1155.4 1785.6L1156.7 1827L1157 1827L1158.3 1769L1159.9 1699.5L1161.9 1698.7L1163.2 1752.5L1164.6 1780.6L1165.7 1760.8L1166.9 1746.7L1168.2 1747.5L1169.5 1768.2L1170.7 1749.2L1171.5 1730.1L1172.9 1735.9L1174 1757.5L1175.7 1761.6L1183.1 1762.4L1192.2 1762.4L1194.4 1770.7L1197.2 1774L1198.9 1785.6L1200.5 1810.4L1202.7 1830.3L1204.6 1836.1L1206.3 1833.6L1208.3 1823.7L1210.4 1813.8L1212.6 1812.1L1214.3 1818.7L1216.2 1843.6L1218.2 1868.4L1219.6 1868.4L1221.2 1851.8L1222.9 1827L1224.5 1769L1226.2 1732.6L1227.5 1726L1229.2 1726.8L1230.8 1752.5L1232.8 1802.2L1234.8 1851.8L1236.4 1893.2L1238.1 1909.8L1239.1 1911.5L1240.8 1888.3L1242.1 1877.5L1244.1 1885L1245.7 1891.6L1247.7 1901.5L1249.4 1918.1L1251.8 1942.9L1254.3 1964.5L1258.6 1992.7L1260.5 2010.5L1262.4 2024.5L1264.3 2028.3L1266.2 2036L1268.2 2025.8L1269.4 2002.2L1270.7 2001.6L1272 2015.6L1273.2 2034.7L1274.5 2052.5L1276.4 2056.4L1277.7 2041.1L1279.2 2009.9L1280.5 2009.2L1281.5 2028.3L1283.4 2053.8L1285.1 2085.7L1286.6 2117.5L1287.3 2127.1" stroke="#B4201E" stroke-width="3.1"/>
</g>
<path d="M411.6 2127.5v-11.3M411.6 1615.6v11.3M665.7 2127.5v-11.3M665.7 1615.6v11.3M919.7 2127.5v-11.3M919.7 1615.6v11.3M1173.8 2127.5v-11.3M1173.8 1615.6v11.3M157.5 1679.6h11.3M157.5 1743.6h11.3M157.5 1807.6h11.3M157.5 1871.5h11.3M157.5 1935.5h11.3M157.5 1999.5h11.3M157.5 2063.5h11.3M1427.9 1679.6h-11.3M1427.9 1743.6h-11.3M1427.9 1807.6h-11.3M1427.9 1871.5h-11.3M1427.9 1935.5h-11.3M1427.9 1999.5h-11.3M1427.9 2063.5h-11.3" stroke="#000" stroke-width="2.7" stroke-linecap="round" fill="none"/>
<rect x="157.5" y="1615.6" width="1270.4" height="511.9" fill="none" stroke="#000" stroke-width="3.1" stroke-linejoin="bevel"/>
<text x="163.1" y="2180.8" font-size="32.4" fill="#000" stroke="#000" text-anchor="middle" textLength="21.6" lengthAdjust="spacingAndGlyphs">7</text>
<text x="417.2" y="2180.8" font-size="32.4" fill="#000" stroke="#000" text-anchor="middle" textLength="54.1" lengthAdjust="spacingAndGlyphs">7.1</text>
<text x="671.3" y="2180.8" font-size="32.4" fill="#000" stroke="#000" text-anchor="middle" textLength="54.1" lengthAdjust="spacingAndGlyphs">7.2</text>
<text x="925.3" y="2180.8" font-size="32.4" fill="#000" stroke="#000" text-anchor="middle" textLength="54.1" lengthAdjust="spacingAndGlyphs">7.3</text>
<text x="1179.4" y="2180.8" font-size="32.4" fill="#000" stroke="#000" text-anchor="middle" textLength="54.1" lengthAdjust="spacingAndGlyphs">7.4</text>
<text x="1433.5" y="2180.8" font-size="32.4" fill="#000" stroke="#000" text-anchor="middle" textLength="54.1" lengthAdjust="spacingAndGlyphs">7.5</text>
<text x="136.8" y="1627.5" font-size="32.4" fill="#000" stroke="#000" text-anchor="end" textLength="54.1" lengthAdjust="spacingAndGlyphs">3.3</text>
<text x="136.8" y="1691.5" font-size="32.4" fill="#000" stroke="#000" text-anchor="end" textLength="54.1" lengthAdjust="spacingAndGlyphs">3.2</text>
<text x="136.8" y="1755.5" font-size="32.4" fill="#000" stroke="#000" text-anchor="end" textLength="54.1" lengthAdjust="spacingAndGlyphs">3.1</text>
<text x="136.8" y="1819.5" font-size="32.4" fill="#000" stroke="#000" text-anchor="end" textLength="21.6" lengthAdjust="spacingAndGlyphs">3</text>
<text x="136.8" y="1883.5" font-size="32.4" fill="#000" stroke="#000" text-anchor="end" textLength="54.1" lengthAdjust="spacingAndGlyphs">2.9</text>
<text x="136.8" y="1947.4" font-size="32.4" fill="#000" stroke="#000" text-anchor="end" textLength="54.1" lengthAdjust="spacingAndGlyphs">2.8</text>
<text x="136.8" y="2011.4" font-size="32.4" fill="#000" stroke="#000" text-anchor="end" textLength="54.1" lengthAdjust="spacingAndGlyphs">2.7</text>
<text x="136.8" y="2075.4" font-size="32.4" fill="#000" stroke="#000" text-anchor="end" textLength="54.1" lengthAdjust="spacingAndGlyphs">2.6</text>
<text x="136.8" y="2139.4" font-size="32.4" fill="#000" stroke="#000" text-anchor="end" textLength="54.1" lengthAdjust="spacingAndGlyphs">2.5</text>
<text x="1483.0" y="1627.5" font-size="32.4" fill="#C9982A" stroke="#C9982A" text-anchor="end" textLength="21.6" lengthAdjust="spacingAndGlyphs">4</text>
<text x="1483.0" y="1691.5" font-size="32.4" fill="#C9982A" stroke="#C9982A" text-anchor="end" textLength="21.6" lengthAdjust="spacingAndGlyphs">3</text>
<text x="1483.0" y="1755.5" font-size="32.4" fill="#C9982A" stroke="#C9982A" text-anchor="end" textLength="21.6" lengthAdjust="spacingAndGlyphs">2</text>
<text x="1483.0" y="1819.5" font-size="32.4" fill="#C9982A" stroke="#C9982A" text-anchor="end" textLength="21.6" lengthAdjust="spacingAndGlyphs">1</text>
<text x="1483.0" y="1883.5" font-size="32.4" fill="#C9982A" stroke="#C9982A" text-anchor="end" textLength="21.6" lengthAdjust="spacingAndGlyphs">0</text>
<text x="1484.6" y="1947.4" font-size="32.4" fill="#C9982A" stroke="#C9982A" text-anchor="end" textLength="33.9" lengthAdjust="spacingAndGlyphs">-1</text>
<text x="1484.6" y="2011.4" font-size="32.4" fill="#C9982A" stroke="#C9982A" text-anchor="end" textLength="33.9" lengthAdjust="spacingAndGlyphs">-2</text>
<text x="1484.6" y="2075.4" font-size="32.4" fill="#C9982A" stroke="#C9982A" text-anchor="end" textLength="33.9" lengthAdjust="spacingAndGlyphs">-3</text>
<text x="1484.6" y="2139.4" font-size="32.4" fill="#C9982A" stroke="#C9982A" text-anchor="end" textLength="33.9" lengthAdjust="spacingAndGlyphs">-4</text>
<rect x="178.3" y="1971.9" width="650.6" height="139.3" fill="#fff" stroke="#000" stroke-width="1.7"/>
<text x="461.6" y="2013.0" font-size="32.4" fill="#000" stroke="#000" textLength="225.0" lengthAdjust="spacingAndGlyphs">Relative error</text>
<path d="M707.0 2001.8h101" stroke="#CE9E2E" stroke-width="1.8"/>
<text x="230.3" y="2053.1" font-size="32.4" fill="#000" stroke="#000" textLength="456.6" lengthAdjust="spacingAndGlyphs">Experimental measurement</text>
<path d="M707.0 2041.9h101" stroke="#0a0a0a" stroke-width="2.8"/>
<text x="340.0" y="2093.2" font-size="32.4" fill="#000" stroke="#000" textLength="347.4" lengthAdjust="spacingAndGlyphs">Modelling predictions</text>
<path d="M707.0 2081.9h101" stroke="#B4201E" stroke-width="2.8"/>
<text x="685.4" y="2239.6" font-size="33.2" fill="#000" stroke="#000" textLength="214.8" lengthAdjust="spacingAndGlyphs">Time (hours)</text>
<text x="29.2" y="1966.1" font-size="33.4" fill="#000" stroke="#000" textLength="188.0" lengthAdjust="spacingAndGlyphs" transform="rotate(-90 29.2 1966.1)">Voltage (V)</text>
<text x="1546.0" y="1950.8" font-size="33.4" fill="#C9982A" stroke="#C9982A" textLength="159.5" lengthAdjust="spacingAndGlyphs" transform="rotate(-90 1546.0 1950.8)">Error (%)</text>
<text x="1516.7" y="1650.1" font-size="47" font-family="Carlito,'Liberation Sans',sans-serif" stroke="none" textLength="51.4" lengthAdjust="spacingAndGlyphs">(c)</text>
</svg>
</body></html>
